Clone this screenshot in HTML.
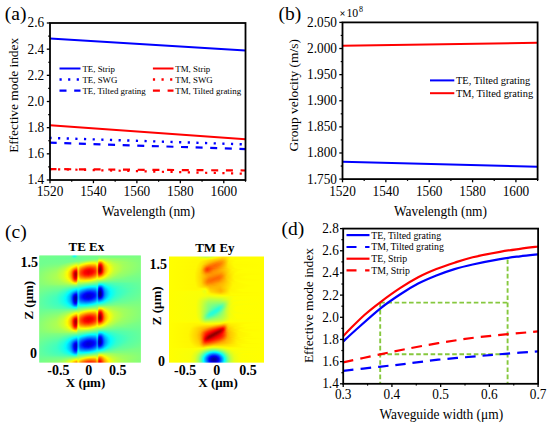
<!DOCTYPE html>
<html><head><meta charset="utf-8"><style>
html,body{margin:0;padding:0;background:#fff;}
svg{display:block;font-family:"Liberation Serif",serif;}
</style></head><body>
<svg width="550" height="423" viewBox="0 0 550 423">
<rect width="550" height="423" fill="#fff"/>
<polyline points="50,38.5 245.5,50.6" fill="none" stroke="#0000ff" stroke-width="2" stroke-linecap="butt"/>
<polyline points="50,125.2 245.5,139.2" fill="none" stroke="#ff0000" stroke-width="2" stroke-linecap="butt"/>
<polyline points="49.4,137.9 245.5,144.4" fill="none" stroke="#0000ff" stroke-width="2.4" stroke-linecap="butt" stroke-dasharray="2.2 6.45"/>
<polyline points="49.7,142.7 245.5,149.1" fill="none" stroke="#0000ff" stroke-width="2.2" stroke-linecap="butt" stroke-dasharray="7 7.6"/>
<polyline points="49.4,169.1 245.5,173.7" fill="none" stroke="#ff0000" stroke-width="2.2" stroke-linecap="butt" stroke-dasharray="2.2 6.45"/>
<polyline points="49.5,169.1 245.5,170.5" fill="none" stroke="#ff0000" stroke-width="2.2" stroke-linecap="butt" stroke-dasharray="7 7.7"/>
<rect x="50" y="23" width="195.5" height="157" fill="none" stroke="#000" stroke-width="1.8"/>
<line x1="50" y1="180" x2="50" y2="183.2" stroke="#000" stroke-width="1.3" />
<text transform="translate(50,196) scale(1,1.05)" font-size="13.3" text-anchor="middle" font-weight="normal" >1520</text>
<line x1="93.44" y1="180" x2="93.44" y2="183.2" stroke="#000" stroke-width="1.3" />
<text transform="translate(93.44,196) scale(1,1.05)" font-size="13.3" text-anchor="middle" font-weight="normal" >1540</text>
<line x1="136.89" y1="180" x2="136.89" y2="183.2" stroke="#000" stroke-width="1.3" />
<text transform="translate(136.89,196) scale(1,1.05)" font-size="13.3" text-anchor="middle" font-weight="normal" >1560</text>
<line x1="180.33" y1="180" x2="180.33" y2="183.2" stroke="#000" stroke-width="1.3" />
<text transform="translate(180.33,196) scale(1,1.05)" font-size="13.3" text-anchor="middle" font-weight="normal" >1580</text>
<line x1="223.78" y1="180" x2="223.78" y2="183.2" stroke="#000" stroke-width="1.3" />
<text transform="translate(223.78,196) scale(1,1.05)" font-size="13.3" text-anchor="middle" font-weight="normal" >1600</text>
<line x1="71.72" y1="180" x2="71.72" y2="181.8" stroke="#000" stroke-width="1.2" />
<line x1="115.17" y1="180" x2="115.17" y2="181.8" stroke="#000" stroke-width="1.2" />
<line x1="158.61" y1="180" x2="158.61" y2="181.8" stroke="#000" stroke-width="1.2" />
<line x1="202.06" y1="180" x2="202.06" y2="181.8" stroke="#000" stroke-width="1.2" />
<line x1="245.5" y1="180" x2="245.5" y2="181.8" stroke="#000" stroke-width="1.2" />
<line x1="46.8" y1="180" x2="50" y2="180" stroke="#000" stroke-width="1.3" />
<text transform="translate(44.2,184.4) scale(1,1.08)" font-size="13.3" text-anchor="end" font-weight="normal" >1.4</text>
<line x1="46.8" y1="153.83" x2="50" y2="153.83" stroke="#000" stroke-width="1.3" />
<text transform="translate(44.2,158.23) scale(1,1.08)" font-size="13.3" text-anchor="end" font-weight="normal" >1.6</text>
<line x1="46.8" y1="127.67" x2="50" y2="127.67" stroke="#000" stroke-width="1.3" />
<text transform="translate(44.2,132.07) scale(1,1.08)" font-size="13.3" text-anchor="end" font-weight="normal" >1.8</text>
<line x1="46.8" y1="101.5" x2="50" y2="101.5" stroke="#000" stroke-width="1.3" />
<text transform="translate(44.2,105.9) scale(1,1.08)" font-size="13.3" text-anchor="end" font-weight="normal" >2.0</text>
<line x1="46.8" y1="75.33" x2="50" y2="75.33" stroke="#000" stroke-width="1.3" />
<text transform="translate(44.2,79.73) scale(1,1.08)" font-size="13.3" text-anchor="end" font-weight="normal" >2.2</text>
<line x1="46.8" y1="49.17" x2="50" y2="49.17" stroke="#000" stroke-width="1.3" />
<text transform="translate(44.2,53.57) scale(1,1.08)" font-size="13.3" text-anchor="end" font-weight="normal" >2.4</text>
<line x1="46.8" y1="23" x2="50" y2="23" stroke="#000" stroke-width="1.3" />
<text transform="translate(44.2,27.4) scale(1,1.08)" font-size="13.3" text-anchor="end" font-weight="normal" >2.6</text>
<line x1="48.2" y1="166.92" x2="50" y2="166.92" stroke="#000" stroke-width="1.2" />
<line x1="48.2" y1="140.75" x2="50" y2="140.75" stroke="#000" stroke-width="1.2" />
<line x1="48.2" y1="114.58" x2="50" y2="114.58" stroke="#000" stroke-width="1.2" />
<line x1="48.2" y1="88.42" x2="50" y2="88.42" stroke="#000" stroke-width="1.2" />
<line x1="48.2" y1="62.25" x2="50" y2="62.25" stroke="#000" stroke-width="1.2" />
<line x1="48.2" y1="36.08" x2="50" y2="36.08" stroke="#000" stroke-width="1.2" />
<text x="4.8" y="19.8" font-size="19.5" text-anchor="start" font-weight="normal" >(a)</text>
<text transform="translate(148.5,216.4) scale(1,1.1)" font-size="13.4" text-anchor="middle" font-weight="normal" >Wavelength (nm)</text>
<text x="0" y="0" font-size="13.4" text-anchor="middle" font-weight="normal" transform="translate(18.2,95.3) rotate(-90)">Effective mode index</text>
<polyline points="59.5,68.5 80.5,68.5" fill="none" stroke="#0000ff" stroke-width="2" stroke-linecap="butt"/>
<text x="82.4" y="71.6" font-size="8.9" text-anchor="start" font-weight="normal" >TE, Strip</text>
<polyline points="59.5,79.5 80.5,79.5" fill="none" stroke="#0000ff" stroke-width="2.4" stroke-linecap="butt" stroke-dasharray="2.2 6.4"/>
<text x="82.4" y="82.6" font-size="8.9" text-anchor="start" font-weight="normal" >TE, SWG</text>
<polyline points="59.5,90.6 80.5,90.6" fill="none" stroke="#0000ff" stroke-width="2.2" stroke-linecap="butt" stroke-dasharray="7 7.7"/>
<text x="82.4" y="93.7" font-size="8.9" text-anchor="start" font-weight="normal" >TE, Tilted grating</text>
<polyline points="152.9,68.5 173.5,68.5" fill="none" stroke="#ff0000" stroke-width="2" stroke-linecap="butt"/>
<text x="175.3" y="71.6" font-size="8.9" text-anchor="start" font-weight="normal" >TM, Strip</text>
<polyline points="152.9,79.5 173.5,79.5" fill="none" stroke="#ff0000" stroke-width="2.4" stroke-linecap="butt" stroke-dasharray="2.2 6.4"/>
<text x="175.3" y="82.6" font-size="8.9" text-anchor="start" font-weight="normal" >TM, SWG</text>
<polyline points="152.9,90.6 173.5,90.6" fill="none" stroke="#ff0000" stroke-width="2.2" stroke-linecap="butt" stroke-dasharray="7 7.7"/>
<text x="175.3" y="93.7" font-size="8.9" text-anchor="start" font-weight="normal" >TM, Tilted grating</text>
<polyline points="342.5,45.8 537.6,42.8" fill="none" stroke="#ff0000" stroke-width="2" stroke-linecap="butt"/>
<polyline points="342.5,161.8 537.6,166.7" fill="none" stroke="#0000ff" stroke-width="2" stroke-linecap="butt"/>
<rect x="342.5" y="22.4" width="195.1" height="156.7" fill="none" stroke="#000" stroke-width="1.8"/>
<line x1="342.5" y1="179.1" x2="342.5" y2="182.3" stroke="#000" stroke-width="1.3" />
<text transform="translate(342.5,195.5) scale(1,1.05)" font-size="13.3" text-anchor="middle" font-weight="normal" >1520</text>
<line x1="385.86" y1="179.1" x2="385.86" y2="182.3" stroke="#000" stroke-width="1.3" />
<text transform="translate(385.86,195.5) scale(1,1.05)" font-size="13.3" text-anchor="middle" font-weight="normal" >1540</text>
<line x1="429.21" y1="179.1" x2="429.21" y2="182.3" stroke="#000" stroke-width="1.3" />
<text transform="translate(429.21,195.5) scale(1,1.05)" font-size="13.3" text-anchor="middle" font-weight="normal" >1560</text>
<line x1="472.57" y1="179.1" x2="472.57" y2="182.3" stroke="#000" stroke-width="1.3" />
<text transform="translate(472.57,195.5) scale(1,1.05)" font-size="13.3" text-anchor="middle" font-weight="normal" >1580</text>
<line x1="515.92" y1="179.1" x2="515.92" y2="182.3" stroke="#000" stroke-width="1.3" />
<text transform="translate(515.92,195.5) scale(1,1.05)" font-size="13.3" text-anchor="middle" font-weight="normal" >1600</text>
<line x1="364.18" y1="179.1" x2="364.18" y2="180.9" stroke="#000" stroke-width="1.2" />
<line x1="407.53" y1="179.1" x2="407.53" y2="180.9" stroke="#000" stroke-width="1.2" />
<line x1="450.89" y1="179.1" x2="450.89" y2="180.9" stroke="#000" stroke-width="1.2" />
<line x1="494.24" y1="179.1" x2="494.24" y2="180.9" stroke="#000" stroke-width="1.2" />
<line x1="537.6" y1="179.1" x2="537.6" y2="180.9" stroke="#000" stroke-width="1.2" />
<line x1="339.3" y1="179.1" x2="342.5" y2="179.1" stroke="#000" stroke-width="1.3" />
<text transform="translate(337,183.5) scale(1,1.08)" font-size="13.3" text-anchor="end" font-weight="normal" >1.750</text>
<line x1="339.3" y1="152.98" x2="342.5" y2="152.98" stroke="#000" stroke-width="1.3" />
<text transform="translate(337,157.38) scale(1,1.08)" font-size="13.3" text-anchor="end" font-weight="normal" >1.800</text>
<line x1="339.3" y1="126.87" x2="342.5" y2="126.87" stroke="#000" stroke-width="1.3" />
<text transform="translate(337,131.27) scale(1,1.08)" font-size="13.3" text-anchor="end" font-weight="normal" >1.850</text>
<line x1="339.3" y1="100.75" x2="342.5" y2="100.75" stroke="#000" stroke-width="1.3" />
<text transform="translate(337,105.15) scale(1,1.08)" font-size="13.3" text-anchor="end" font-weight="normal" >1.900</text>
<line x1="339.3" y1="74.63" x2="342.5" y2="74.63" stroke="#000" stroke-width="1.3" />
<text transform="translate(337,79.03) scale(1,1.08)" font-size="13.3" text-anchor="end" font-weight="normal" >1.950</text>
<line x1="339.3" y1="48.52" x2="342.5" y2="48.52" stroke="#000" stroke-width="1.3" />
<text transform="translate(337,52.92) scale(1,1.08)" font-size="13.3" text-anchor="end" font-weight="normal" >2.000</text>
<line x1="339.3" y1="22.4" x2="342.5" y2="22.4" stroke="#000" stroke-width="1.3" />
<text transform="translate(337,26.8) scale(1,1.08)" font-size="13.3" text-anchor="end" font-weight="normal" >2.050</text>
<line x1="340.7" y1="166.04" x2="342.5" y2="166.04" stroke="#000" stroke-width="1.2" />
<line x1="340.7" y1="139.92" x2="342.5" y2="139.92" stroke="#000" stroke-width="1.2" />
<line x1="340.7" y1="113.81" x2="342.5" y2="113.81" stroke="#000" stroke-width="1.2" />
<line x1="340.7" y1="87.69" x2="342.5" y2="87.69" stroke="#000" stroke-width="1.2" />
<line x1="340.7" y1="61.57" x2="342.5" y2="61.57" stroke="#000" stroke-width="1.2" />
<line x1="340.7" y1="35.46" x2="342.5" y2="35.46" stroke="#000" stroke-width="1.2" />
<text x="278.6" y="19.5" font-size="19.5" text-anchor="start" font-weight="normal" >(b)</text>
<text transform="translate(440.5,215.7) scale(1,1.1)" font-size="13.4" text-anchor="middle" font-weight="normal" >Wavelength (nm)</text>
<text x="0" y="0" font-size="13.4" text-anchor="middle" font-weight="normal" transform="translate(297.6,95.3) rotate(-90)">Group velocity (m/s)</text>
<text x="339.6" y="16.8" font-size="10.5" text-anchor="start" font-weight="bold" >×</text>
<text transform="translate(346.4,17.4) scale(1,1.12)" font-size="11.8" text-anchor="start" font-weight="normal" >10</text>
<text x="358.9" y="12" font-size="8" text-anchor="start" font-weight="normal" >8</text>
<polyline points="430,80.4 454.3,80.4" fill="none" stroke="#0000ff" stroke-width="2" stroke-linecap="butt"/>
<text x="456" y="84" font-size="10.4" text-anchor="start" font-weight="normal" >TE, Tilted grating</text>
<polyline points="430,93.2 454.3,93.2" fill="none" stroke="#ff0000" stroke-width="2" stroke-linecap="butt"/>
<text x="456" y="96.8" font-size="10.4" text-anchor="start" font-weight="normal" >TM, Tilted grating</text>
<line x1="380.2" y1="302.6" x2="380.2" y2="383.8" stroke="#86c83e" stroke-width="1.9" stroke-dasharray="4.6 2.6"/>
<line x1="507.6" y1="259.4" x2="507.6" y2="383.8" stroke="#86c83e" stroke-width="1.9" stroke-dasharray="4.6 2.6"/>
<line x1="380.2" y1="302.6" x2="507.6" y2="302.6" stroke="#86c83e" stroke-width="1.9" stroke-dasharray="4.6 2.6"/>
<line x1="380.2" y1="354.2" x2="507.6" y2="354.2" stroke="#86c83e" stroke-width="1.9" stroke-dasharray="4.6 2.6"/>
<path d="M343.2,336.3 C344.33,335.08 346.37,332.63 350,329 C353.63,325.37 359.97,318.95 365,314.5 C370.03,310.05 374.37,306.68 380.2,302.3 C386.03,297.92 393.67,292.37 400,288.2 C406.33,284.03 412.13,280.48 418.2,277.3 C424.27,274.12 430.35,271.53 436.4,269.1 C442.45,266.67 448.45,264.67 454.5,262.7 C460.55,260.73 465.12,259.12 472.7,257.3 C480.28,255.48 492.12,253.22 500,251.8 C507.88,250.38 513.65,249.68 520,248.8 C526.35,247.92 535.08,246.88 538.1,246.5" fill="none" stroke="#ff0000" stroke-width="2.2" stroke-linecap="butt"/>
<path d="M343.2,341.5 C345.28,339.58 349.53,335.48 355.7,330 C361.87,324.52 372.82,314.52 380.2,308.6 C387.58,302.68 393.67,298.67 400,294.5 C406.33,290.33 412.13,286.77 418.2,283.6 C424.27,280.43 430.35,277.92 436.4,275.5 C442.45,273.08 448.45,270.93 454.5,269.1 C460.55,267.27 465.12,266.17 472.7,264.5 C480.28,262.83 492.12,260.47 500,259.1 C507.88,257.73 513.65,257.1 520,256.3 C526.35,255.5 535.08,254.63 538.1,254.3" fill="none" stroke="#0000ff" stroke-width="2.2" stroke-linecap="butt"/>
<path d="M343.2,362.3 C349.17,361.02 368.93,356.73 379,354.6 C389.07,352.47 393.73,351.4 403.6,349.5 C413.47,347.6 425.47,345.28 438.2,343.2 C450.93,341.12 463.35,338.97 480,337 C496.65,335.03 528.42,332.33 538.1,331.4" fill="none" stroke="#ff0000" stroke-width="2.2" stroke-linecap="butt" stroke-dasharray="10.5 7"/>
<path d="M343.2,370.8 C349.17,370.13 368.93,367.92 379,366.8 C389.07,365.68 393.73,365.28 403.6,364.1 C413.47,362.92 425.47,361.05 438.2,359.7 C450.93,358.35 468.43,357.02 480,356 C491.57,354.98 497.92,354.38 507.6,353.6 C517.28,352.82 533.02,351.68 538.1,351.3" fill="none" stroke="#0000ff" stroke-width="2.2" stroke-linecap="butt" stroke-dasharray="10.5 7"/>
<rect x="343.2" y="228.6" width="194.9" height="155.2" fill="none" stroke="#000" stroke-width="1.8"/>
<line x1="343.2" y1="383.8" x2="343.2" y2="387" stroke="#000" stroke-width="1.3" />
<text transform="translate(343.2,398.6) scale(1,1.05)" font-size="13.3" text-anchor="middle" font-weight="normal" >0.3</text>
<line x1="391.93" y1="383.8" x2="391.93" y2="387" stroke="#000" stroke-width="1.3" />
<text transform="translate(391.93,398.6) scale(1,1.05)" font-size="13.3" text-anchor="middle" font-weight="normal" >0.4</text>
<line x1="440.65" y1="383.8" x2="440.65" y2="387" stroke="#000" stroke-width="1.3" />
<text transform="translate(440.65,398.6) scale(1,1.05)" font-size="13.3" text-anchor="middle" font-weight="normal" >0.5</text>
<line x1="489.38" y1="383.8" x2="489.38" y2="387" stroke="#000" stroke-width="1.3" />
<text transform="translate(489.38,398.6) scale(1,1.05)" font-size="13.3" text-anchor="middle" font-weight="normal" >0.6</text>
<line x1="538.1" y1="383.8" x2="538.1" y2="387" stroke="#000" stroke-width="1.3" />
<text transform="translate(538.1,398.6) scale(1,1.05)" font-size="13.3" text-anchor="middle" font-weight="normal" >0.7</text>
<line x1="367.56" y1="383.8" x2="367.56" y2="385.6" stroke="#000" stroke-width="1.2" />
<line x1="416.29" y1="383.8" x2="416.29" y2="385.6" stroke="#000" stroke-width="1.2" />
<line x1="465.01" y1="383.8" x2="465.01" y2="385.6" stroke="#000" stroke-width="1.2" />
<line x1="513.74" y1="383.8" x2="513.74" y2="385.6" stroke="#000" stroke-width="1.2" />
<line x1="340" y1="383.8" x2="343.2" y2="383.8" stroke="#000" stroke-width="1.3" />
<text transform="translate(338.8,388.2) scale(1,1.08)" font-size="13.3" text-anchor="end" font-weight="normal" >1.4</text>
<line x1="340" y1="361.63" x2="343.2" y2="361.63" stroke="#000" stroke-width="1.3" />
<text transform="translate(338.8,366.03) scale(1,1.08)" font-size="13.3" text-anchor="end" font-weight="normal" >1.6</text>
<line x1="340" y1="339.46" x2="343.2" y2="339.46" stroke="#000" stroke-width="1.3" />
<text transform="translate(338.8,343.86) scale(1,1.08)" font-size="13.3" text-anchor="end" font-weight="normal" >1.8</text>
<line x1="340" y1="317.29" x2="343.2" y2="317.29" stroke="#000" stroke-width="1.3" />
<text transform="translate(338.8,321.69) scale(1,1.08)" font-size="13.3" text-anchor="end" font-weight="normal" >2.0</text>
<line x1="340" y1="295.11" x2="343.2" y2="295.11" stroke="#000" stroke-width="1.3" />
<text transform="translate(338.8,299.51) scale(1,1.08)" font-size="13.3" text-anchor="end" font-weight="normal" >2.2</text>
<line x1="340" y1="272.94" x2="343.2" y2="272.94" stroke="#000" stroke-width="1.3" />
<text transform="translate(338.8,277.34) scale(1,1.08)" font-size="13.3" text-anchor="end" font-weight="normal" >2.4</text>
<line x1="340" y1="250.77" x2="343.2" y2="250.77" stroke="#000" stroke-width="1.3" />
<text transform="translate(338.8,255.17) scale(1,1.08)" font-size="13.3" text-anchor="end" font-weight="normal" >2.6</text>
<line x1="340" y1="228.6" x2="343.2" y2="228.6" stroke="#000" stroke-width="1.3" />
<text transform="translate(338.8,233) scale(1,1.08)" font-size="13.3" text-anchor="end" font-weight="normal" >2.8</text>
<line x1="341.4" y1="372.71" x2="343.2" y2="372.71" stroke="#000" stroke-width="1.2" />
<line x1="341.4" y1="350.54" x2="343.2" y2="350.54" stroke="#000" stroke-width="1.2" />
<line x1="341.4" y1="328.37" x2="343.2" y2="328.37" stroke="#000" stroke-width="1.2" />
<line x1="341.4" y1="306.2" x2="343.2" y2="306.2" stroke="#000" stroke-width="1.2" />
<line x1="341.4" y1="284.03" x2="343.2" y2="284.03" stroke="#000" stroke-width="1.2" />
<line x1="341.4" y1="261.86" x2="343.2" y2="261.86" stroke="#000" stroke-width="1.2" />
<line x1="341.4" y1="239.69" x2="343.2" y2="239.69" stroke="#000" stroke-width="1.2" />
<text x="281.4" y="235.3" font-size="19.5" text-anchor="start" font-weight="normal" >(d)</text>
<text transform="translate(441.3,419.4) scale(1,1.1)" font-size="13.4" text-anchor="middle" font-weight="normal" >Waveguide width (μm)</text>
<text x="0" y="0" font-size="13.4" text-anchor="middle" font-weight="normal" transform="translate(312.9,305.6) rotate(-90)">Effective mode index</text>
<polyline points="346.5,235.1 369.5,235.1" fill="none" stroke="#0000ff" stroke-width="2.2" stroke-linecap="butt"/>
<text x="371.2" y="238.5" font-size="9.8" text-anchor="start" font-weight="normal" >TE, Tilted grating</text>
<polyline points="346.5,247 369.5,247" fill="none" stroke="#0000ff" stroke-width="2.2" stroke-linecap="butt" stroke-dasharray="10 8.6"/>
<text x="371.2" y="250.4" font-size="9.8" text-anchor="start" font-weight="normal" >TM, Tilted grating</text>
<polyline points="346.5,258.7 369.5,258.7" fill="none" stroke="#ff0000" stroke-width="2.2" stroke-linecap="butt"/>
<text x="371.2" y="262.1" font-size="9.8" text-anchor="start" font-weight="normal" >TE, Strip</text>
<polyline points="346.5,270.4 369.5,270.4" fill="none" stroke="#ff0000" stroke-width="2.2" stroke-linecap="butt" stroke-dasharray="10 8.6"/>
<text x="371.2" y="273.8" font-size="9.8" text-anchor="start" font-weight="normal" >TM, Strip</text>
<text x="5" y="237.6" font-size="19.5" text-anchor="start" font-weight="normal" >(c)</text>
<linearGradient id="a0"><stop offset="0.000" stop-color="#75ff8a"/><stop offset="0.305" stop-color="#70ff8f"/><stop offset="0.320" stop-color="#56ffa9"/><stop offset="0.340" stop-color="#01fffe"/><stop offset="0.345" stop-color="#00f6ff"/><stop offset="0.355" stop-color="#04fffb"/><stop offset="0.374" stop-color="#58ffa7"/><stop offset="0.389" stop-color="#70ff8f"/><stop offset="0.581" stop-color="#79ff86"/><stop offset="0.670" stop-color="#78ff87"/><stop offset="1.000" stop-color="#7bff84"/></linearGradient><rect x="39.3" y="255.4" width="101.5" height="1.2" fill="url(#a0)"/>
<linearGradient id="a1"><stop offset="0.000" stop-color="#74ff8b"/><stop offset="0.305" stop-color="#6eff91"/><stop offset="0.320" stop-color="#5affa5"/><stop offset="0.340" stop-color="#1affe5"/><stop offset="0.350" stop-color="#13ffec"/><stop offset="0.365" stop-color="#3effc1"/><stop offset="0.379" stop-color="#65ff9a"/><stop offset="0.409" stop-color="#71ff8e"/><stop offset="0.576" stop-color="#75ff8a"/><stop offset="0.591" stop-color="#81ff7e"/><stop offset="0.759" stop-color="#79ff86"/><stop offset="1.000" stop-color="#7dff82"/></linearGradient><rect x="39.3" y="256" width="101.5" height="1.6" fill="url(#a1)"/>
<linearGradient id="a2"><stop offset="0.000" stop-color="#73ff8c"/><stop offset="0.310" stop-color="#6bff94"/><stop offset="0.335" stop-color="#4affb5"/><stop offset="0.350" stop-color="#3fffc0"/><stop offset="0.379" stop-color="#68ff97"/><stop offset="0.576" stop-color="#75ff8a"/><stop offset="0.586" stop-color="#88ff77"/><stop offset="0.704" stop-color="#81ff7e"/><stop offset="1.000" stop-color="#7fff80"/></linearGradient><rect x="39.3" y="257" width="101.5" height="1.6" fill="url(#a2)"/>
<linearGradient id="a3"><stop offset="0.000" stop-color="#72ff8d"/><stop offset="0.320" stop-color="#68ff97"/><stop offset="0.355" stop-color="#5effa1"/><stop offset="0.409" stop-color="#6dff92"/><stop offset="0.576" stop-color="#79ff86"/><stop offset="0.586" stop-color="#97ff68"/><stop offset="0.631" stop-color="#98ff67"/><stop offset="0.931" stop-color="#84ff7b"/><stop offset="1.000" stop-color="#80ff7f"/></linearGradient><rect x="39.3" y="258" width="101.5" height="1.6" fill="url(#a3)"/>
<linearGradient id="a4"><stop offset="0.000" stop-color="#71ff8e"/><stop offset="0.394" stop-color="#6dff92"/><stop offset="0.562" stop-color="#88ff77"/><stop offset="0.571" stop-color="#87ff78"/><stop offset="0.576" stop-color="#8fff70"/><stop offset="0.586" stop-color="#c0ff3f"/><stop offset="0.606" stop-color="#c7ff38"/><stop offset="0.680" stop-color="#a2ff5d"/><stop offset="0.906" stop-color="#88ff77"/><stop offset="1.000" stop-color="#82ff7d"/></linearGradient><rect x="39.3" y="259" width="101.5" height="1.6" fill="url(#a4)"/>
<linearGradient id="a5"><stop offset="0.000" stop-color="#70ff8f"/><stop offset="0.345" stop-color="#71ff8e"/><stop offset="0.433" stop-color="#7cff83"/><stop offset="0.552" stop-color="#a8ff57"/><stop offset="0.571" stop-color="#9eff61"/><stop offset="0.576" stop-color="#a9ff56"/><stop offset="0.586" stop-color="#f2ff0d"/><stop offset="0.601" stop-color="#feff01"/><stop offset="0.621" stop-color="#eaff15"/><stop offset="0.655" stop-color="#c1ff3e"/><stop offset="0.744" stop-color="#9fff60"/><stop offset="1.000" stop-color="#83ff7c"/></linearGradient><rect x="39.3" y="260" width="101.5" height="1.6" fill="url(#a5)"/>
<linearGradient id="a6"><stop offset="0.000" stop-color="#70ff8f"/><stop offset="0.300" stop-color="#72ff8d"/><stop offset="0.374" stop-color="#7dff82"/><stop offset="0.399" stop-color="#85ff7a"/><stop offset="0.517" stop-color="#c4ff3b"/><stop offset="0.557" stop-color="#c5ff3a"/><stop offset="0.571" stop-color="#b5ff4a"/><stop offset="0.576" stop-color="#c2ff3d"/><stop offset="0.581" stop-color="#feff01"/><stop offset="0.586" stop-color="#ffd300"/><stop offset="0.596" stop-color="#ffc100"/><stop offset="0.611" stop-color="#ffca00"/><stop offset="0.631" stop-color="#fffd00"/><stop offset="0.655" stop-color="#d8ff27"/><stop offset="0.724" stop-color="#aeff51"/><stop offset="0.901" stop-color="#8eff71"/><stop offset="1.000" stop-color="#84ff7b"/></linearGradient><rect x="39.3" y="261" width="101.5" height="1.6" fill="url(#a6)"/>
<linearGradient id="a7"><stop offset="0.000" stop-color="#70ff8f"/><stop offset="0.271" stop-color="#75ff8a"/><stop offset="0.350" stop-color="#92ff6d"/><stop offset="0.369" stop-color="#9cff63"/><stop offset="0.384" stop-color="#94ff6b"/><stop offset="0.493" stop-color="#e2ff1d"/><stop offset="0.552" stop-color="#eaff15"/><stop offset="0.567" stop-color="#ceff31"/><stop offset="0.571" stop-color="#ccff33"/><stop offset="0.576" stop-color="#dcff23"/><stop offset="0.581" stop-color="#ffd000"/><stop offset="0.586" stop-color="#ff9800"/><stop offset="0.596" stop-color="#ff7e00"/><stop offset="0.606" stop-color="#ff8000"/><stop offset="0.621" stop-color="#ffae00"/><stop offset="0.640" stop-color="#fff400"/><stop offset="0.645" stop-color="#ffff00"/><stop offset="0.680" stop-color="#d4ff2b"/><stop offset="0.754" stop-color="#acff53"/><stop offset="0.980" stop-color="#87ff78"/><stop offset="1.000" stop-color="#85ff7a"/></linearGradient><rect x="39.3" y="262" width="101.5" height="1.6" fill="url(#a7)"/>
<linearGradient id="a8"><stop offset="0.000" stop-color="#70ff8f"/><stop offset="0.241" stop-color="#79ff86"/><stop offset="0.325" stop-color="#9dff62"/><stop offset="0.369" stop-color="#bcff43"/><stop offset="0.384" stop-color="#adff52"/><stop offset="0.463" stop-color="#faff05"/><stop offset="0.527" stop-color="#ffeb00"/><stop offset="0.552" stop-color="#fff100"/><stop offset="0.562" stop-color="#f7ff08"/><stop offset="0.567" stop-color="#e6ff19"/><stop offset="0.571" stop-color="#e3ff1c"/><stop offset="0.576" stop-color="#f6ff09"/><stop offset="0.581" stop-color="#ffa200"/><stop offset="0.586" stop-color="#ff5f00"/><stop offset="0.591" stop-color="#ff4900"/><stop offset="0.601" stop-color="#ff3c00"/><stop offset="0.611" stop-color="#ff4f00"/><stop offset="0.635" stop-color="#ffc500"/><stop offset="0.650" stop-color="#fff100"/><stop offset="0.665" stop-color="#f4ff0b"/><stop offset="0.719" stop-color="#c3ff3c"/><stop offset="0.818" stop-color="#a0ff5f"/><stop offset="1.000" stop-color="#85ff7a"/></linearGradient><rect x="39.3" y="263" width="101.5" height="1.6" fill="url(#a8)"/>
<linearGradient id="a9"><stop offset="0.000" stop-color="#71ff8e"/><stop offset="0.212" stop-color="#7dff82"/><stop offset="0.296" stop-color="#9fff60"/><stop offset="0.369" stop-color="#deff21"/><stop offset="0.379" stop-color="#c7ff38"/><stop offset="0.389" stop-color="#caff35"/><stop offset="0.414" stop-color="#f2ff0d"/><stop offset="0.433" stop-color="#fff600"/><stop offset="0.488" stop-color="#ffc700"/><stop offset="0.532" stop-color="#ffc200"/><stop offset="0.552" stop-color="#ffcc00"/><stop offset="0.562" stop-color="#ffea00"/><stop offset="0.567" stop-color="#feff01"/><stop offset="0.571" stop-color="#faff05"/><stop offset="0.576" stop-color="#ffed00"/><stop offset="0.581" stop-color="#ff7800"/><stop offset="0.586" stop-color="#ff2c00"/><stop offset="0.591" stop-color="#ff1400"/><stop offset="0.601" stop-color="#ff0600"/><stop offset="0.611" stop-color="#ff1e00"/><stop offset="0.635" stop-color="#ffa900"/><stop offset="0.650" stop-color="#ffdd00"/><stop offset="0.670" stop-color="#fdff02"/><stop offset="0.724" stop-color="#c8ff37"/><stop offset="0.818" stop-color="#a3ff5c"/><stop offset="1.000" stop-color="#85ff7a"/></linearGradient><rect x="39.3" y="264" width="101.5" height="1.6" fill="url(#a9)"/>
<linearGradient id="a10"><stop offset="0.000" stop-color="#72ff8d"/><stop offset="0.197" stop-color="#83ff7c"/><stop offset="0.276" stop-color="#a4ff5b"/><stop offset="0.340" stop-color="#e2ff1d"/><stop offset="0.365" stop-color="#fffd00"/><stop offset="0.369" stop-color="#fffb00"/><stop offset="0.379" stop-color="#e1ff1e"/><stop offset="0.384" stop-color="#dcff23"/><stop offset="0.399" stop-color="#feff01"/><stop offset="0.463" stop-color="#ffac00"/><stop offset="0.502" stop-color="#ff9500"/><stop offset="0.542" stop-color="#ff9f00"/><stop offset="0.557" stop-color="#ffb400"/><stop offset="0.567" stop-color="#ffe700"/><stop offset="0.571" stop-color="#ffed00"/><stop offset="0.576" stop-color="#ffd400"/><stop offset="0.581" stop-color="#ff5400"/><stop offset="0.586" stop-color="#ff0300"/><stop offset="0.591" stop-color="#e80000"/><stop offset="0.601" stop-color="#db0000"/><stop offset="0.606" stop-color="#e30000"/><stop offset="0.611" stop-color="#f60000"/><stop offset="0.616" stop-color="#ff1300"/><stop offset="0.635" stop-color="#ff9100"/><stop offset="0.650" stop-color="#ffcb00"/><stop offset="0.675" stop-color="#fffb00"/><stop offset="0.734" stop-color="#c7ff38"/><stop offset="0.833" stop-color="#a1ff5e"/><stop offset="1.000" stop-color="#85ff7a"/></linearGradient><rect x="39.3" y="265" width="101.5" height="1.6" fill="url(#a10)"/>
<linearGradient id="a11"><stop offset="0.000" stop-color="#74ff8b"/><stop offset="0.187" stop-color="#88ff77"/><stop offset="0.266" stop-color="#acff53"/><stop offset="0.320" stop-color="#e6ff19"/><stop offset="0.340" stop-color="#fffa00"/><stop offset="0.369" stop-color="#ffd300"/><stop offset="0.379" stop-color="#faff05"/><stop offset="0.384" stop-color="#f2ff0d"/><stop offset="0.389" stop-color="#faff05"/><stop offset="0.404" stop-color="#ffd400"/><stop offset="0.463" stop-color="#ff8000"/><stop offset="0.502" stop-color="#ff6900"/><stop offset="0.542" stop-color="#ff7a00"/><stop offset="0.552" stop-color="#ff8600"/><stop offset="0.557" stop-color="#ff9400"/><stop offset="0.567" stop-color="#ffce00"/><stop offset="0.571" stop-color="#ffd600"/><stop offset="0.576" stop-color="#ffbb00"/><stop offset="0.581" stop-color="#ff3600"/><stop offset="0.586" stop-color="#e10000"/><stop offset="0.591" stop-color="#c70000"/><stop offset="0.601" stop-color="#bc0000"/><stop offset="0.606" stop-color="#c60000"/><stop offset="0.616" stop-color="#f70000"/><stop offset="0.626" stop-color="#ff3f00"/><stop offset="0.640" stop-color="#ff9800"/><stop offset="0.655" stop-color="#ffcb00"/><stop offset="0.685" stop-color="#fdff02"/><stop offset="0.734" stop-color="#caff35"/><stop offset="0.828" stop-color="#a3ff5c"/><stop offset="1.000" stop-color="#85ff7a"/></linearGradient><rect x="39.3" y="266" width="101.5" height="1.6" fill="url(#a11)"/>
<linearGradient id="a12"><stop offset="0.000" stop-color="#77ff88"/><stop offset="0.182" stop-color="#8fff70"/><stop offset="0.256" stop-color="#b3ff4c"/><stop offset="0.305" stop-color="#e8ff17"/><stop offset="0.320" stop-color="#fffd00"/><stop offset="0.365" stop-color="#ffa800"/><stop offset="0.369" stop-color="#ffa800"/><stop offset="0.379" stop-color="#ffed00"/><stop offset="0.384" stop-color="#fff800"/><stop offset="0.389" stop-color="#ffef00"/><stop offset="0.399" stop-color="#ffc200"/><stop offset="0.429" stop-color="#ff8700"/><stop offset="0.473" stop-color="#ff4d00"/><stop offset="0.507" stop-color="#ff4200"/><stop offset="0.542" stop-color="#ff5800"/><stop offset="0.552" stop-color="#ff6700"/><stop offset="0.557" stop-color="#ff7700"/><stop offset="0.567" stop-color="#ffb700"/><stop offset="0.571" stop-color="#ffc000"/><stop offset="0.576" stop-color="#ffa500"/><stop offset="0.581" stop-color="#ff1e00"/><stop offset="0.586" stop-color="#c70000"/><stop offset="0.591" stop-color="#ae0000"/><stop offset="0.601" stop-color="#a60000"/><stop offset="0.606" stop-color="#b10000"/><stop offset="0.616" stop-color="#e50000"/><stop offset="0.621" stop-color="#ff0a00"/><stop offset="0.635" stop-color="#ff7200"/><stop offset="0.650" stop-color="#ffb300"/><stop offset="0.675" stop-color="#ffeb00"/><stop offset="0.690" stop-color="#fbff04"/><stop offset="0.739" stop-color="#c9ff36"/><stop offset="0.833" stop-color="#a2ff5d"/><stop offset="1.000" stop-color="#84ff7b"/></linearGradient><rect x="39.3" y="267" width="101.5" height="1.6" fill="url(#a12)"/>
<linearGradient id="a13"><stop offset="0.000" stop-color="#7aff85"/><stop offset="0.177" stop-color="#94ff6b"/><stop offset="0.251" stop-color="#bbff44"/><stop offset="0.300" stop-color="#f5ff0a"/><stop offset="0.310" stop-color="#fff700"/><stop offset="0.355" stop-color="#ff8400"/><stop offset="0.365" stop-color="#ff7600"/><stop offset="0.369" stop-color="#ff7800"/><stop offset="0.379" stop-color="#ffd700"/><stop offset="0.384" stop-color="#ffe600"/><stop offset="0.389" stop-color="#ffdc00"/><stop offset="0.399" stop-color="#ffa500"/><stop offset="0.419" stop-color="#ff7600"/><stop offset="0.463" stop-color="#ff3100"/><stop offset="0.498" stop-color="#ff1e00"/><stop offset="0.532" stop-color="#ff3100"/><stop offset="0.552" stop-color="#ff4d00"/><stop offset="0.557" stop-color="#ff5e00"/><stop offset="0.567" stop-color="#ffa200"/><stop offset="0.571" stop-color="#ffad00"/><stop offset="0.576" stop-color="#ff9200"/><stop offset="0.581" stop-color="#ff0b00"/><stop offset="0.586" stop-color="#b40000"/><stop offset="0.591" stop-color="#9c0000"/><stop offset="0.601" stop-color="#960000"/><stop offset="0.606" stop-color="#a20000"/><stop offset="0.616" stop-color="#d90000"/><stop offset="0.621" stop-color="#fd0000"/><stop offset="0.635" stop-color="#ff6900"/><stop offset="0.650" stop-color="#ffac00"/><stop offset="0.675" stop-color="#ffe700"/><stop offset="0.690" stop-color="#feff01"/><stop offset="0.739" stop-color="#caff35"/><stop offset="0.828" stop-color="#a2ff5d"/><stop offset="1.000" stop-color="#83ff7c"/></linearGradient><rect x="39.3" y="268" width="101.5" height="1.6" fill="url(#a13)"/>
<linearGradient id="a14"><stop offset="0.000" stop-color="#7cff83"/><stop offset="0.172" stop-color="#99ff66"/><stop offset="0.246" stop-color="#c1ff3e"/><stop offset="0.291" stop-color="#f6ff09"/><stop offset="0.300" stop-color="#fff600"/><stop offset="0.320" stop-color="#ffc300"/><stop offset="0.350" stop-color="#ff5500"/><stop offset="0.365" stop-color="#ff3f00"/><stop offset="0.369" stop-color="#ff4600"/><stop offset="0.374" stop-color="#ff7c00"/><stop offset="0.379" stop-color="#ffc400"/><stop offset="0.384" stop-color="#ffd700"/><stop offset="0.389" stop-color="#ffcb00"/><stop offset="0.399" stop-color="#ff8d00"/><stop offset="0.414" stop-color="#ff6300"/><stop offset="0.453" stop-color="#ff1e00"/><stop offset="0.488" stop-color="#ff0300"/><stop offset="0.522" stop-color="#ff0f00"/><stop offset="0.552" stop-color="#ff3a00"/><stop offset="0.557" stop-color="#ff4c00"/><stop offset="0.567" stop-color="#ff9300"/><stop offset="0.571" stop-color="#ff9f00"/><stop offset="0.576" stop-color="#ff8400"/><stop offset="0.581" stop-color="#fd0000"/><stop offset="0.586" stop-color="#a80000"/><stop offset="0.591" stop-color="#910000"/><stop offset="0.601" stop-color="#8d0000"/><stop offset="0.606" stop-color="#9a0000"/><stop offset="0.616" stop-color="#d20000"/><stop offset="0.621" stop-color="#f70000"/><stop offset="0.631" stop-color="#ff4400"/><stop offset="0.645" stop-color="#ff9700"/><stop offset="0.665" stop-color="#ffd200"/><stop offset="0.690" stop-color="#ffff00"/><stop offset="0.739" stop-color="#c9ff36"/><stop offset="0.828" stop-color="#a1ff5e"/><stop offset="1.000" stop-color="#82ff7d"/></linearGradient><rect x="39.3" y="269" width="101.5" height="1.6" fill="url(#a14)"/>
<linearGradient id="a15"><stop offset="0.000" stop-color="#7eff81"/><stop offset="0.167" stop-color="#9dff62"/><stop offset="0.241" stop-color="#c5ff3a"/><stop offset="0.291" stop-color="#fffa00"/><stop offset="0.310" stop-color="#ffcd00"/><stop offset="0.325" stop-color="#ff9300"/><stop offset="0.345" stop-color="#ff2e00"/><stop offset="0.355" stop-color="#ff1000"/><stop offset="0.365" stop-color="#ff0a00"/><stop offset="0.369" stop-color="#ff1600"/><stop offset="0.374" stop-color="#ff5700"/><stop offset="0.379" stop-color="#ffb400"/><stop offset="0.384" stop-color="#ffca00"/><stop offset="0.389" stop-color="#ffbd00"/><stop offset="0.399" stop-color="#ff7900"/><stop offset="0.409" stop-color="#ff5800"/><stop offset="0.448" stop-color="#ff0e00"/><stop offset="0.463" stop-color="#fc0000"/><stop offset="0.498" stop-color="#f00000"/><stop offset="0.527" stop-color="#ff0600"/><stop offset="0.552" stop-color="#ff2e00"/><stop offset="0.557" stop-color="#ff4200"/><stop offset="0.567" stop-color="#ff8a00"/><stop offset="0.571" stop-color="#ff9700"/><stop offset="0.576" stop-color="#ff7d00"/><stop offset="0.581" stop-color="#f80000"/><stop offset="0.586" stop-color="#a50000"/><stop offset="0.591" stop-color="#8f0000"/><stop offset="0.601" stop-color="#8c0000"/><stop offset="0.606" stop-color="#9a0000"/><stop offset="0.616" stop-color="#d20000"/><stop offset="0.621" stop-color="#f80000"/><stop offset="0.635" stop-color="#ff6500"/><stop offset="0.650" stop-color="#ffaa00"/><stop offset="0.675" stop-color="#ffe800"/><stop offset="0.690" stop-color="#fdff02"/><stop offset="0.739" stop-color="#c7ff38"/><stop offset="0.828" stop-color="#9fff60"/><stop offset="1.000" stop-color="#81ff7e"/></linearGradient><rect x="39.3" y="270" width="101.5" height="1.6" fill="url(#a15)"/>
<linearGradient id="a16"><stop offset="0.000" stop-color="#81ff7e"/><stop offset="0.167" stop-color="#a1ff5e"/><stop offset="0.236" stop-color="#c8ff37"/><stop offset="0.281" stop-color="#feff01"/><stop offset="0.305" stop-color="#ffcc00"/><stop offset="0.320" stop-color="#ff9300"/><stop offset="0.345" stop-color="#ff0100"/><stop offset="0.355" stop-color="#df0000"/><stop offset="0.365" stop-color="#de0000"/><stop offset="0.369" stop-color="#ef0000"/><stop offset="0.374" stop-color="#ff3900"/><stop offset="0.379" stop-color="#ffa900"/><stop offset="0.384" stop-color="#ffc000"/><stop offset="0.389" stop-color="#ffb300"/><stop offset="0.399" stop-color="#ff6b00"/><stop offset="0.409" stop-color="#ff4900"/><stop offset="0.448" stop-color="#ff0100"/><stop offset="0.483" stop-color="#e70000"/><stop offset="0.517" stop-color="#f40000"/><stop offset="0.532" stop-color="#ff0700"/><stop offset="0.552" stop-color="#ff2c00"/><stop offset="0.557" stop-color="#ff4000"/><stop offset="0.567" stop-color="#ff8800"/><stop offset="0.571" stop-color="#ff9500"/><stop offset="0.576" stop-color="#ff7c00"/><stop offset="0.581" stop-color="#fd0000"/><stop offset="0.586" stop-color="#ae0000"/><stop offset="0.591" stop-color="#990000"/><stop offset="0.601" stop-color="#990000"/><stop offset="0.611" stop-color="#be0000"/><stop offset="0.621" stop-color="#ff0300"/><stop offset="0.635" stop-color="#ff6c00"/><stop offset="0.650" stop-color="#ffb000"/><stop offset="0.675" stop-color="#ffec00"/><stop offset="0.690" stop-color="#f8ff07"/><stop offset="0.739" stop-color="#c3ff3c"/><stop offset="0.828" stop-color="#9cff63"/><stop offset="1.000" stop-color="#7fff80"/></linearGradient><rect x="39.3" y="271" width="101.5" height="1.6" fill="url(#a16)"/>
<linearGradient id="a17"><stop offset="0.000" stop-color="#83ff7c"/><stop offset="0.167" stop-color="#a5ff5a"/><stop offset="0.236" stop-color="#cdff32"/><stop offset="0.276" stop-color="#fdff02"/><stop offset="0.300" stop-color="#ffd100"/><stop offset="0.315" stop-color="#ff9d00"/><stop offset="0.330" stop-color="#ff4600"/><stop offset="0.340" stop-color="#ff0000"/><stop offset="0.350" stop-color="#cc0000"/><stop offset="0.360" stop-color="#bc0000"/><stop offset="0.365" stop-color="#c10000"/><stop offset="0.369" stop-color="#d50000"/><stop offset="0.374" stop-color="#ff2600"/><stop offset="0.379" stop-color="#ffa200"/><stop offset="0.384" stop-color="#ffbb00"/><stop offset="0.389" stop-color="#ffae00"/><stop offset="0.399" stop-color="#ff6400"/><stop offset="0.409" stop-color="#ff4300"/><stop offset="0.443" stop-color="#ff0400"/><stop offset="0.483" stop-color="#e70000"/><stop offset="0.517" stop-color="#f80000"/><stop offset="0.532" stop-color="#ff0c00"/><stop offset="0.552" stop-color="#ff3200"/><stop offset="0.557" stop-color="#ff4600"/><stop offset="0.567" stop-color="#ff8d00"/><stop offset="0.571" stop-color="#ff9a00"/><stop offset="0.576" stop-color="#ff8300"/><stop offset="0.581" stop-color="#ff1000"/><stop offset="0.586" stop-color="#c50000"/><stop offset="0.591" stop-color="#b30000"/><stop offset="0.601" stop-color="#b60000"/><stop offset="0.611" stop-color="#da0000"/><stop offset="0.616" stop-color="#f70000"/><stop offset="0.626" stop-color="#ff3c00"/><stop offset="0.640" stop-color="#ff9400"/><stop offset="0.655" stop-color="#ffc800"/><stop offset="0.680" stop-color="#fffd00"/><stop offset="0.729" stop-color="#c6ff39"/><stop offset="0.808" stop-color="#9eff61"/><stop offset="0.995" stop-color="#7eff81"/><stop offset="1.000" stop-color="#7eff81"/></linearGradient><rect x="39.3" y="272" width="101.5" height="1.6" fill="url(#a17)"/>
<linearGradient id="a18"><stop offset="0.000" stop-color="#85ff7a"/><stop offset="0.167" stop-color="#a8ff57"/><stop offset="0.236" stop-color="#d1ff2e"/><stop offset="0.276" stop-color="#fffd00"/><stop offset="0.300" stop-color="#ffcb00"/><stop offset="0.315" stop-color="#ff9600"/><stop offset="0.330" stop-color="#ff3b00"/><stop offset="0.335" stop-color="#ff1600"/><stop offset="0.340" stop-color="#f10000"/><stop offset="0.350" stop-color="#bb0000"/><stop offset="0.355" stop-color="#af0000"/><stop offset="0.365" stop-color="#b30000"/><stop offset="0.369" stop-color="#ca0000"/><stop offset="0.374" stop-color="#ff1e00"/><stop offset="0.379" stop-color="#ffa100"/><stop offset="0.384" stop-color="#ffbb00"/><stop offset="0.389" stop-color="#ffae00"/><stop offset="0.399" stop-color="#ff6500"/><stop offset="0.409" stop-color="#ff4400"/><stop offset="0.448" stop-color="#ff0300"/><stop offset="0.483" stop-color="#f00000"/><stop offset="0.517" stop-color="#ff0500"/><stop offset="0.552" stop-color="#ff4100"/><stop offset="0.557" stop-color="#ff5400"/><stop offset="0.567" stop-color="#ff9800"/><stop offset="0.571" stop-color="#ffa500"/><stop offset="0.576" stop-color="#ff9000"/><stop offset="0.581" stop-color="#ff2d00"/><stop offset="0.586" stop-color="#ea0000"/><stop offset="0.591" stop-color="#dd0000"/><stop offset="0.601" stop-color="#e30000"/><stop offset="0.611" stop-color="#ff0600"/><stop offset="0.635" stop-color="#ff9100"/><stop offset="0.650" stop-color="#ffc900"/><stop offset="0.675" stop-color="#ffff00"/><stop offset="0.719" stop-color="#c7ff38"/><stop offset="0.793" stop-color="#9eff61"/><stop offset="0.966" stop-color="#7eff81"/><stop offset="1.000" stop-color="#7cff83"/></linearGradient><rect x="39.3" y="273" width="101.5" height="1.6" fill="url(#a18)"/>
<linearGradient id="a19"><stop offset="0.000" stop-color="#86ff79"/><stop offset="0.167" stop-color="#abff54"/><stop offset="0.236" stop-color="#d3ff2c"/><stop offset="0.276" stop-color="#fffb00"/><stop offset="0.300" stop-color="#ffca00"/><stop offset="0.315" stop-color="#ff9500"/><stop offset="0.330" stop-color="#ff3800"/><stop offset="0.335" stop-color="#ff1300"/><stop offset="0.340" stop-color="#ee0000"/><stop offset="0.350" stop-color="#b80000"/><stop offset="0.355" stop-color="#ac0000"/><stop offset="0.365" stop-color="#b20000"/><stop offset="0.369" stop-color="#ca0000"/><stop offset="0.374" stop-color="#ff2000"/><stop offset="0.379" stop-color="#ffa600"/><stop offset="0.384" stop-color="#ffc100"/><stop offset="0.389" stop-color="#ffb500"/><stop offset="0.399" stop-color="#ff6d00"/><stop offset="0.409" stop-color="#ff4d00"/><stop offset="0.448" stop-color="#ff1200"/><stop offset="0.483" stop-color="#ff0300"/><stop offset="0.517" stop-color="#ff1c00"/><stop offset="0.552" stop-color="#ff5800"/><stop offset="0.557" stop-color="#ff6a00"/><stop offset="0.567" stop-color="#ffa700"/><stop offset="0.571" stop-color="#ffb400"/><stop offset="0.576" stop-color="#ffa200"/><stop offset="0.581" stop-color="#ff5300"/><stop offset="0.586" stop-color="#ff1c00"/><stop offset="0.591" stop-color="#ff1400"/><stop offset="0.606" stop-color="#ff2b00"/><stop offset="0.640" stop-color="#ffbf00"/><stop offset="0.665" stop-color="#fffb00"/><stop offset="0.719" stop-color="#beff41"/><stop offset="0.793" stop-color="#98ff67"/><stop offset="0.970" stop-color="#7cff83"/><stop offset="1.000" stop-color="#7aff85"/></linearGradient><rect x="39.3" y="274" width="101.5" height="1.6" fill="url(#a19)"/>
<linearGradient id="a20"><stop offset="0.000" stop-color="#87ff78"/><stop offset="0.167" stop-color="#acff53"/><stop offset="0.236" stop-color="#d4ff2b"/><stop offset="0.276" stop-color="#fffb00"/><stop offset="0.300" stop-color="#ffcb00"/><stop offset="0.315" stop-color="#ff9700"/><stop offset="0.330" stop-color="#ff3c00"/><stop offset="0.335" stop-color="#ff1700"/><stop offset="0.340" stop-color="#f20000"/><stop offset="0.350" stop-color="#be0000"/><stop offset="0.355" stop-color="#b30000"/><stop offset="0.365" stop-color="#ba0000"/><stop offset="0.369" stop-color="#d30000"/><stop offset="0.374" stop-color="#ff2a00"/><stop offset="0.379" stop-color="#ffb100"/><stop offset="0.384" stop-color="#ffcc00"/><stop offset="0.389" stop-color="#ffc100"/><stop offset="0.399" stop-color="#ff7c00"/><stop offset="0.409" stop-color="#ff5e00"/><stop offset="0.448" stop-color="#ff2a00"/><stop offset="0.483" stop-color="#ff2000"/><stop offset="0.517" stop-color="#ff3a00"/><stop offset="0.552" stop-color="#ff7500"/><stop offset="0.562" stop-color="#ff9f00"/><stop offset="0.567" stop-color="#ffbb00"/><stop offset="0.571" stop-color="#ffc700"/><stop offset="0.576" stop-color="#ffb800"/><stop offset="0.581" stop-color="#ff7f00"/><stop offset="0.586" stop-color="#ff5300"/><stop offset="0.596" stop-color="#ff5500"/><stop offset="0.611" stop-color="#ff7700"/><stop offset="0.640" stop-color="#ffda00"/><stop offset="0.655" stop-color="#fffc00"/><stop offset="0.704" stop-color="#c1ff3e"/><stop offset="0.773" stop-color="#99ff66"/><stop offset="0.931" stop-color="#7cff83"/><stop offset="1.000" stop-color="#78ff87"/></linearGradient><rect x="39.3" y="275" width="101.5" height="1.6" fill="url(#a20)"/>
<linearGradient id="a21"><stop offset="0.000" stop-color="#88ff77"/><stop offset="0.172" stop-color="#aeff51"/><stop offset="0.241" stop-color="#d7ff28"/><stop offset="0.276" stop-color="#fffe00"/><stop offset="0.300" stop-color="#ffd000"/><stop offset="0.315" stop-color="#ff9d00"/><stop offset="0.330" stop-color="#ff4400"/><stop offset="0.340" stop-color="#fc0000"/><stop offset="0.350" stop-color="#c90000"/><stop offset="0.355" stop-color="#bf0000"/><stop offset="0.365" stop-color="#c90000"/><stop offset="0.369" stop-color="#e20000"/><stop offset="0.374" stop-color="#ff3900"/><stop offset="0.379" stop-color="#ffc000"/><stop offset="0.384" stop-color="#ffdb00"/><stop offset="0.389" stop-color="#ffd100"/><stop offset="0.399" stop-color="#ff9000"/><stop offset="0.409" stop-color="#ff7600"/><stop offset="0.448" stop-color="#ff4a00"/><stop offset="0.483" stop-color="#ff4400"/><stop offset="0.517" stop-color="#ff6000"/><stop offset="0.552" stop-color="#ff9600"/><stop offset="0.562" stop-color="#ffbb00"/><stop offset="0.567" stop-color="#ffd200"/><stop offset="0.571" stop-color="#ffdc00"/><stop offset="0.576" stop-color="#ffd200"/><stop offset="0.586" stop-color="#ff8a00"/><stop offset="0.596" stop-color="#ff9100"/><stop offset="0.645" stop-color="#fdff02"/><stop offset="0.690" stop-color="#c1ff3e"/><stop offset="0.754" stop-color="#98ff67"/><stop offset="0.897" stop-color="#7cff83"/><stop offset="1.000" stop-color="#76ff89"/></linearGradient><rect x="39.3" y="276" width="101.5" height="1.6" fill="url(#a21)"/>
<linearGradient id="a22"><stop offset="0.000" stop-color="#89ff76"/><stop offset="0.177" stop-color="#b0ff4f"/><stop offset="0.246" stop-color="#d9ff26"/><stop offset="0.281" stop-color="#fffc00"/><stop offset="0.305" stop-color="#ffcb00"/><stop offset="0.320" stop-color="#ff8f00"/><stop offset="0.340" stop-color="#ff0c00"/><stop offset="0.345" stop-color="#ee0000"/><stop offset="0.350" stop-color="#da0000"/><stop offset="0.355" stop-color="#d10000"/><stop offset="0.365" stop-color="#dd0000"/><stop offset="0.369" stop-color="#f70000"/><stop offset="0.374" stop-color="#ff4d00"/><stop offset="0.379" stop-color="#ffd200"/><stop offset="0.384" stop-color="#ffec00"/><stop offset="0.389" stop-color="#ffe400"/><stop offset="0.399" stop-color="#ffa900"/><stop offset="0.409" stop-color="#ff9200"/><stop offset="0.453" stop-color="#ff6d00"/><stop offset="0.493" stop-color="#ff7300"/><stop offset="0.537" stop-color="#ffa400"/><stop offset="0.557" stop-color="#ffc700"/><stop offset="0.567" stop-color="#ffec00"/><stop offset="0.571" stop-color="#fff500"/><stop offset="0.576" stop-color="#ffed00"/><stop offset="0.586" stop-color="#ffbd00"/><stop offset="0.611" stop-color="#ffe000"/><stop offset="0.631" stop-color="#faff05"/><stop offset="0.675" stop-color="#beff41"/><stop offset="0.739" stop-color="#94ff6b"/><stop offset="0.872" stop-color="#7aff85"/><stop offset="1.000" stop-color="#74ff8b"/></linearGradient><rect x="39.3" y="277" width="101.5" height="1.6" fill="url(#a22)"/>
<linearGradient id="a23"><stop offset="0.000" stop-color="#89ff76"/><stop offset="0.182" stop-color="#b0ff4f"/><stop offset="0.251" stop-color="#d9ff26"/><stop offset="0.286" stop-color="#fffd00"/><stop offset="0.305" stop-color="#ffd600"/><stop offset="0.320" stop-color="#ff9e00"/><stop offset="0.345" stop-color="#ff0700"/><stop offset="0.355" stop-color="#ec0000"/><stop offset="0.365" stop-color="#fa0000"/><stop offset="0.369" stop-color="#ff1500"/><stop offset="0.374" stop-color="#ff6600"/><stop offset="0.379" stop-color="#ffe600"/><stop offset="0.384" stop-color="#ffff00"/><stop offset="0.389" stop-color="#fff800"/><stop offset="0.399" stop-color="#ffc500"/><stop offset="0.414" stop-color="#ffad00"/><stop offset="0.458" stop-color="#ff9600"/><stop offset="0.498" stop-color="#ffa400"/><stop offset="0.552" stop-color="#ffe200"/><stop offset="0.562" stop-color="#fff900"/><stop offset="0.571" stop-color="#efff10"/><stop offset="0.581" stop-color="#fffc00"/><stop offset="0.586" stop-color="#ffed00"/><stop offset="0.606" stop-color="#faff05"/><stop offset="0.665" stop-color="#b3ff4c"/><stop offset="0.734" stop-color="#8cff73"/><stop offset="0.882" stop-color="#75ff8a"/><stop offset="1.000" stop-color="#71ff8e"/></linearGradient><rect x="39.3" y="278" width="101.5" height="1.6" fill="url(#a23)"/>
<linearGradient id="a24"><stop offset="0.000" stop-color="#89ff76"/><stop offset="0.187" stop-color="#aeff51"/><stop offset="0.256" stop-color="#d6ff29"/><stop offset="0.296" stop-color="#fff900"/><stop offset="0.310" stop-color="#ffd900"/><stop offset="0.325" stop-color="#ff9a00"/><stop offset="0.345" stop-color="#ff2a00"/><stop offset="0.355" stop-color="#ff1300"/><stop offset="0.365" stop-color="#ff2100"/><stop offset="0.369" stop-color="#ff3a00"/><stop offset="0.374" stop-color="#ff8600"/><stop offset="0.379" stop-color="#fffb00"/><stop offset="0.384" stop-color="#ecff13"/><stop offset="0.394" stop-color="#fff600"/><stop offset="0.404" stop-color="#ffd800"/><stop offset="0.453" stop-color="#ffc200"/><stop offset="0.498" stop-color="#ffd100"/><stop offset="0.547" stop-color="#fcff03"/><stop offset="0.571" stop-color="#d4ff2b"/><stop offset="0.586" stop-color="#e4ff1b"/><stop offset="0.670" stop-color="#9aff65"/><stop offset="0.759" stop-color="#7bff84"/><stop offset="0.990" stop-color="#6fff90"/><stop offset="1.000" stop-color="#70ff8f"/></linearGradient><rect x="39.3" y="279" width="101.5" height="1.6" fill="url(#a24)"/>
<linearGradient id="a25"><stop offset="0.000" stop-color="#89ff76"/><stop offset="0.197" stop-color="#aeff51"/><stop offset="0.266" stop-color="#d5ff2a"/><stop offset="0.300" stop-color="#fdff02"/><stop offset="0.315" stop-color="#ffdf00"/><stop offset="0.330" stop-color="#ff9f00"/><stop offset="0.345" stop-color="#ff5900"/><stop offset="0.355" stop-color="#ff4600"/><stop offset="0.365" stop-color="#ff5300"/><stop offset="0.369" stop-color="#ff6900"/><stop offset="0.374" stop-color="#ffac00"/><stop offset="0.379" stop-color="#edff12"/><stop offset="0.384" stop-color="#d9ff26"/><stop offset="0.389" stop-color="#dcff23"/><stop offset="0.399" stop-color="#fdff02"/><stop offset="0.433" stop-color="#ffee00"/><stop offset="0.488" stop-color="#fff900"/><stop offset="0.517" stop-color="#f1ff0e"/><stop offset="0.576" stop-color="#b8ff47"/><stop offset="0.596" stop-color="#b2ff4d"/><stop offset="0.675" stop-color="#84ff7b"/><stop offset="0.808" stop-color="#6eff91"/><stop offset="1.000" stop-color="#6eff91"/></linearGradient><rect x="39.3" y="280" width="101.5" height="1.6" fill="url(#a25)"/>
<linearGradient id="a26"><stop offset="0.000" stop-color="#88ff77"/><stop offset="0.207" stop-color="#abff54"/><stop offset="0.281" stop-color="#d5ff2a"/><stop offset="0.315" stop-color="#fffa00"/><stop offset="0.345" stop-color="#ff9300"/><stop offset="0.355" stop-color="#ff8400"/><stop offset="0.365" stop-color="#ff8e00"/><stop offset="0.369" stop-color="#ffa000"/><stop offset="0.374" stop-color="#ffd800"/><stop offset="0.379" stop-color="#d6ff29"/><stop offset="0.384" stop-color="#c6ff39"/><stop offset="0.389" stop-color="#c8ff37"/><stop offset="0.404" stop-color="#e5ff1a"/><stop offset="0.463" stop-color="#e4ff1b"/><stop offset="0.547" stop-color="#b1ff4e"/><stop offset="0.606" stop-color="#83ff7c"/><stop offset="0.724" stop-color="#6bff94"/><stop offset="1.000" stop-color="#6cff93"/></linearGradient><rect x="39.3" y="281" width="101.5" height="1.6" fill="url(#a26)"/>
<linearGradient id="a27"><stop offset="0.000" stop-color="#87ff78"/><stop offset="0.222" stop-color="#a9ff56"/><stop offset="0.296" stop-color="#cfff30"/><stop offset="0.320" stop-color="#f1ff0e"/><stop offset="0.330" stop-color="#fff600"/><stop offset="0.350" stop-color="#ffcb00"/><stop offset="0.365" stop-color="#ffce00"/><stop offset="0.369" stop-color="#ffda00"/><stop offset="0.374" stop-color="#f8ff07"/><stop offset="0.379" stop-color="#beff41"/><stop offset="0.384" stop-color="#b1ff4e"/><stop offset="0.409" stop-color="#c5ff3a"/><stop offset="0.483" stop-color="#b2ff4d"/><stop offset="0.576" stop-color="#7dff82"/><stop offset="0.586" stop-color="#62ff9d"/><stop offset="0.631" stop-color="#5affa5"/><stop offset="1.000" stop-color="#6aff95"/></linearGradient><rect x="39.3" y="282" width="101.5" height="1.6" fill="url(#a27)"/>
<linearGradient id="a28"><stop offset="0.000" stop-color="#86ff79"/><stop offset="0.241" stop-color="#a5ff5a"/><stop offset="0.310" stop-color="#c5ff3a"/><stop offset="0.350" stop-color="#f4ff0b"/><stop offset="0.365" stop-color="#f3ff0c"/><stop offset="0.369" stop-color="#ebff14"/><stop offset="0.379" stop-color="#a6ff59"/><stop offset="0.389" stop-color="#9cff63"/><stop offset="0.409" stop-color="#a5ff5a"/><stop offset="0.517" stop-color="#78ff87"/><stop offset="0.562" stop-color="#68ff97"/><stop offset="0.576" stop-color="#60ff9f"/><stop offset="0.586" stop-color="#33ffcc"/><stop offset="0.611" stop-color="#2cffd3"/><stop offset="0.680" stop-color="#4affb5"/><stop offset="1.000" stop-color="#69ff96"/></linearGradient><rect x="39.3" y="283" width="101.5" height="1.6" fill="url(#a28)"/>
<linearGradient id="a29"><stop offset="0.000" stop-color="#84ff7b"/><stop offset="0.276" stop-color="#a0ff5f"/><stop offset="0.360" stop-color="#bfff40"/><stop offset="0.369" stop-color="#b9ff46"/><stop offset="0.379" stop-color="#8dff72"/><stop offset="0.394" stop-color="#86ff79"/><stop offset="0.478" stop-color="#64ff9b"/><stop offset="0.557" stop-color="#48ffb7"/><stop offset="0.571" stop-color="#4fffb0"/><stop offset="0.576" stop-color="#45ffba"/><stop offset="0.586" stop-color="#00fcff"/><stop offset="0.601" stop-color="#00f0ff"/><stop offset="0.621" stop-color="#04fffb"/><stop offset="0.655" stop-color="#2bffd4"/><stop offset="0.749" stop-color="#4dffb2"/><stop offset="1.000" stop-color="#68ff97"/></linearGradient><rect x="39.3" y="284" width="101.5" height="1.6" fill="url(#a29)"/>
<linearGradient id="a30"><stop offset="0.000" stop-color="#82ff7d"/><stop offset="0.365" stop-color="#90ff6f"/><stop offset="0.374" stop-color="#7fff80"/><stop offset="0.384" stop-color="#6eff91"/><stop offset="0.527" stop-color="#28ffd7"/><stop offset="0.557" stop-color="#28ffd7"/><stop offset="0.571" stop-color="#37ffc8"/><stop offset="0.576" stop-color="#2affd5"/><stop offset="0.581" stop-color="#00edff"/><stop offset="0.586" stop-color="#00c1ff"/><stop offset="0.596" stop-color="#00afff"/><stop offset="0.611" stop-color="#00b7ff"/><stop offset="0.640" stop-color="#00ffff"/><stop offset="0.675" stop-color="#24ffdb"/><stop offset="0.759" stop-color="#47ffb8"/><stop offset="1.000" stop-color="#67ff98"/></linearGradient><rect x="39.3" y="285" width="101.5" height="1.6" fill="url(#a30)"/>
<linearGradient id="a31"><stop offset="0.000" stop-color="#80ff7f"/><stop offset="0.276" stop-color="#7dff82"/><stop offset="0.365" stop-color="#67ff98"/><stop offset="0.493" stop-color="#0bfff4"/><stop offset="0.552" stop-color="#02fffd"/><stop offset="0.567" stop-color="#1effe1"/><stop offset="0.571" stop-color="#1fffe0"/><stop offset="0.576" stop-color="#0ffff0"/><stop offset="0.581" stop-color="#00bcff"/><stop offset="0.586" stop-color="#0084ff"/><stop offset="0.596" stop-color="#006bff"/><stop offset="0.606" stop-color="#006cff"/><stop offset="0.621" stop-color="#009aff"/><stop offset="0.640" stop-color="#00e0ff"/><stop offset="0.660" stop-color="#03fffc"/><stop offset="0.719" stop-color="#31ffce"/><stop offset="0.842" stop-color="#52ffad"/><stop offset="1.000" stop-color="#66ff99"/></linearGradient><rect x="39.3" y="286" width="101.5" height="1.6" fill="url(#a31)"/>
<linearGradient id="a32"><stop offset="0.000" stop-color="#7eff81"/><stop offset="0.232" stop-color="#75ff8a"/><stop offset="0.330" stop-color="#55ffaa"/><stop offset="0.374" stop-color="#3dffc2"/><stop offset="0.389" stop-color="#39ffc6"/><stop offset="0.448" stop-color="#00fdff"/><stop offset="0.507" stop-color="#00d9ff"/><stop offset="0.552" stop-color="#00ddff"/><stop offset="0.567" stop-color="#05fffa"/><stop offset="0.571" stop-color="#08fff7"/><stop offset="0.576" stop-color="#00f3ff"/><stop offset="0.581" stop-color="#008eff"/><stop offset="0.586" stop-color="#004bff"/><stop offset="0.591" stop-color="#0035ff"/><stop offset="0.601" stop-color="#0028ff"/><stop offset="0.611" stop-color="#003bff"/><stop offset="0.635" stop-color="#00b1ff"/><stop offset="0.650" stop-color="#00ddff"/><stop offset="0.675" stop-color="#02fffd"/><stop offset="0.734" stop-color="#30ffcf"/><stop offset="0.862" stop-color="#53ffac"/><stop offset="1.000" stop-color="#66ff99"/></linearGradient><rect x="39.3" y="287" width="101.5" height="1.6" fill="url(#a32)"/>
<linearGradient id="a33"><stop offset="0.000" stop-color="#7bff84"/><stop offset="0.212" stop-color="#6eff91"/><stop offset="0.300" stop-color="#4cffb3"/><stop offset="0.369" stop-color="#14ffeb"/><stop offset="0.384" stop-color="#26ffd9"/><stop offset="0.409" stop-color="#00feff"/><stop offset="0.478" stop-color="#00b9ff"/><stop offset="0.522" stop-color="#00adff"/><stop offset="0.552" stop-color="#00b8ff"/><stop offset="0.562" stop-color="#00d5ff"/><stop offset="0.567" stop-color="#00ebff"/><stop offset="0.571" stop-color="#00f0ff"/><stop offset="0.576" stop-color="#00d9ff"/><stop offset="0.581" stop-color="#0064ff"/><stop offset="0.586" stop-color="#0018ff"/><stop offset="0.591" stop-color="#0000ff"/><stop offset="0.601" stop-color="#0000f1"/><stop offset="0.611" stop-color="#0009ff"/><stop offset="0.635" stop-color="#0094ff"/><stop offset="0.650" stop-color="#00c8ff"/><stop offset="0.680" stop-color="#00f9ff"/><stop offset="0.714" stop-color="#1cffe3"/><stop offset="0.798" stop-color="#43ffbc"/><stop offset="1.000" stop-color="#65ff9a"/></linearGradient><rect x="39.3" y="288" width="101.5" height="1.6" fill="url(#a33)"/>
<linearGradient id="a34"><stop offset="0.000" stop-color="#79ff86"/><stop offset="0.197" stop-color="#68ff97"/><stop offset="0.281" stop-color="#45ffba"/><stop offset="0.345" stop-color="#06fff9"/><stop offset="0.369" stop-color="#00ebff"/><stop offset="0.374" stop-color="#00faff"/><stop offset="0.384" stop-color="#0ffff0"/><stop offset="0.394" stop-color="#00f9ff"/><stop offset="0.414" stop-color="#00d4ff"/><stop offset="0.473" stop-color="#008fff"/><stop offset="0.512" stop-color="#0080ff"/><stop offset="0.552" stop-color="#0094ff"/><stop offset="0.557" stop-color="#00a0ff"/><stop offset="0.567" stop-color="#00d2ff"/><stop offset="0.571" stop-color="#00d9ff"/><stop offset="0.576" stop-color="#00bfff"/><stop offset="0.581" stop-color="#0040ff"/><stop offset="0.586" stop-color="#0000ee"/><stop offset="0.591" stop-color="#0000d4"/><stop offset="0.601" stop-color="#0000c7"/><stop offset="0.606" stop-color="#0000cf"/><stop offset="0.616" stop-color="#0000fd"/><stop offset="0.635" stop-color="#007dff"/><stop offset="0.650" stop-color="#00b7ff"/><stop offset="0.680" stop-color="#00eeff"/><stop offset="0.700" stop-color="#07fff8"/><stop offset="0.764" stop-color="#34ffcb"/><stop offset="0.921" stop-color="#5bffa4"/><stop offset="1.000" stop-color="#66ff99"/></linearGradient><rect x="39.3" y="289" width="101.5" height="1.6" fill="url(#a34)"/>
<linearGradient id="a35"><stop offset="0.000" stop-color="#76ff89"/><stop offset="0.187" stop-color="#62ff9d"/><stop offset="0.266" stop-color="#3fffc0"/><stop offset="0.320" stop-color="#07fff8"/><stop offset="0.335" stop-color="#00f0ff"/><stop offset="0.369" stop-color="#00c1ff"/><stop offset="0.379" stop-color="#00f0ff"/><stop offset="0.384" stop-color="#00f8ff"/><stop offset="0.389" stop-color="#00f0ff"/><stop offset="0.404" stop-color="#00c0ff"/><stop offset="0.463" stop-color="#006bff"/><stop offset="0.502" stop-color="#0055ff"/><stop offset="0.542" stop-color="#0066ff"/><stop offset="0.552" stop-color="#0071ff"/><stop offset="0.557" stop-color="#0080ff"/><stop offset="0.567" stop-color="#00baff"/><stop offset="0.571" stop-color="#00c2ff"/><stop offset="0.576" stop-color="#00a7ff"/><stop offset="0.581" stop-color="#0022ff"/><stop offset="0.586" stop-color="#0000cc"/><stop offset="0.591" stop-color="#0000b3"/><stop offset="0.601" stop-color="#0000a8"/><stop offset="0.606" stop-color="#0000b1"/><stop offset="0.616" stop-color="#0000e3"/><stop offset="0.621" stop-color="#0007ff"/><stop offset="0.635" stop-color="#006bff"/><stop offset="0.650" stop-color="#00a9ff"/><stop offset="0.680" stop-color="#00e5ff"/><stop offset="0.700" stop-color="#01fffe"/><stop offset="0.759" stop-color="#2fffd0"/><stop offset="0.892" stop-color="#56ffa9"/><stop offset="1.000" stop-color="#66ff99"/></linearGradient><rect x="39.3" y="290" width="101.5" height="1.6" fill="url(#a35)"/>
<linearGradient id="a36"><stop offset="0.000" stop-color="#74ff8b"/><stop offset="0.182" stop-color="#5cffa3"/><stop offset="0.256" stop-color="#38ffc7"/><stop offset="0.310" stop-color="#00faff"/><stop offset="0.365" stop-color="#0095ff"/><stop offset="0.369" stop-color="#0095ff"/><stop offset="0.379" stop-color="#00d9ff"/><stop offset="0.384" stop-color="#00e4ff"/><stop offset="0.389" stop-color="#00daff"/><stop offset="0.399" stop-color="#00adff"/><stop offset="0.429" stop-color="#0072ff"/><stop offset="0.473" stop-color="#0038ff"/><stop offset="0.507" stop-color="#002dff"/><stop offset="0.542" stop-color="#0044ff"/><stop offset="0.552" stop-color="#0052ff"/><stop offset="0.557" stop-color="#0062ff"/><stop offset="0.567" stop-color="#00a2ff"/><stop offset="0.571" stop-color="#00acff"/><stop offset="0.576" stop-color="#0090ff"/><stop offset="0.581" stop-color="#0009ff"/><stop offset="0.586" stop-color="#0000b3"/><stop offset="0.591" stop-color="#00009a"/><stop offset="0.601" stop-color="#000091"/><stop offset="0.606" stop-color="#00009c"/><stop offset="0.616" stop-color="#0000d1"/><stop offset="0.621" stop-color="#0000f4"/><stop offset="0.626" stop-color="#001bff"/><stop offset="0.640" stop-color="#0077ff"/><stop offset="0.655" stop-color="#00adff"/><stop offset="0.690" stop-color="#00eeff"/><stop offset="0.709" stop-color="#08fff7"/><stop offset="0.773" stop-color="#35ffca"/><stop offset="0.926" stop-color="#5cffa3"/><stop offset="1.000" stop-color="#67ff98"/></linearGradient><rect x="39.3" y="291" width="101.5" height="1.6" fill="url(#a36)"/>
<linearGradient id="a37"><stop offset="0.000" stop-color="#71ff8e"/><stop offset="0.177" stop-color="#56ffa9"/><stop offset="0.251" stop-color="#30ffcf"/><stop offset="0.296" stop-color="#00fcff"/><stop offset="0.325" stop-color="#00bfff"/><stop offset="0.355" stop-color="#0070ff"/><stop offset="0.365" stop-color="#0062ff"/><stop offset="0.369" stop-color="#0065ff"/><stop offset="0.379" stop-color="#00c3ff"/><stop offset="0.384" stop-color="#00d2ff"/><stop offset="0.389" stop-color="#00c7ff"/><stop offset="0.399" stop-color="#0091ff"/><stop offset="0.419" stop-color="#0062ff"/><stop offset="0.463" stop-color="#001cff"/><stop offset="0.498" stop-color="#000aff"/><stop offset="0.532" stop-color="#001cff"/><stop offset="0.552" stop-color="#0038ff"/><stop offset="0.557" stop-color="#004aff"/><stop offset="0.567" stop-color="#008eff"/><stop offset="0.571" stop-color="#0099ff"/><stop offset="0.576" stop-color="#007dff"/><stop offset="0.581" stop-color="#0000f5"/><stop offset="0.586" stop-color="#0000a0"/><stop offset="0.591" stop-color="#000088"/><stop offset="0.601" stop-color="#000082"/><stop offset="0.606" stop-color="#00008e"/><stop offset="0.616" stop-color="#0000c4"/><stop offset="0.621" stop-color="#0000e9"/><stop offset="0.626" stop-color="#0010ff"/><stop offset="0.640" stop-color="#006fff"/><stop offset="0.655" stop-color="#00a7ff"/><stop offset="0.685" stop-color="#00e4ff"/><stop offset="0.704" stop-color="#00ffff"/><stop offset="0.764" stop-color="#30ffcf"/><stop offset="0.892" stop-color="#57ffa8"/><stop offset="1.000" stop-color="#67ff98"/></linearGradient><rect x="39.3" y="292" width="101.5" height="1.6" fill="url(#a37)"/>
<linearGradient id="a38"><stop offset="0.000" stop-color="#6fff90"/><stop offset="0.172" stop-color="#52ffad"/><stop offset="0.246" stop-color="#2affd5"/><stop offset="0.286" stop-color="#00fbff"/><stop offset="0.310" stop-color="#00ccff"/><stop offset="0.330" stop-color="#008aff"/><stop offset="0.350" stop-color="#0041ff"/><stop offset="0.365" stop-color="#002bff"/><stop offset="0.369" stop-color="#0032ff"/><stop offset="0.374" stop-color="#0068ff"/><stop offset="0.379" stop-color="#00b0ff"/><stop offset="0.384" stop-color="#00c2ff"/><stop offset="0.389" stop-color="#00b6ff"/><stop offset="0.399" stop-color="#0078ff"/><stop offset="0.414" stop-color="#004fff"/><stop offset="0.453" stop-color="#000aff"/><stop offset="0.473" stop-color="#0000f5"/><stop offset="0.507" stop-color="#0000f0"/><stop offset="0.532" stop-color="#0006ff"/><stop offset="0.552" stop-color="#0025ff"/><stop offset="0.557" stop-color="#0038ff"/><stop offset="0.567" stop-color="#007fff"/><stop offset="0.571" stop-color="#008aff"/><stop offset="0.576" stop-color="#0070ff"/><stop offset="0.581" stop-color="#0000e8"/><stop offset="0.586" stop-color="#000094"/><stop offset="0.591" stop-color="#000080"/><stop offset="0.606" stop-color="#000085"/><stop offset="0.616" stop-color="#0000bd"/><stop offset="0.621" stop-color="#0000e3"/><stop offset="0.626" stop-color="#000aff"/><stop offset="0.640" stop-color="#006bff"/><stop offset="0.655" stop-color="#00a4ff"/><stop offset="0.685" stop-color="#00e3ff"/><stop offset="0.704" stop-color="#00ffff"/><stop offset="0.759" stop-color="#2effd1"/><stop offset="0.877" stop-color="#56ffa9"/><stop offset="1.000" stop-color="#69ff96"/></linearGradient><rect x="39.3" y="293" width="101.5" height="1.6" fill="url(#a38)"/>
<linearGradient id="a39"><stop offset="0.000" stop-color="#6cff93"/><stop offset="0.167" stop-color="#4effb1"/><stop offset="0.241" stop-color="#25ffda"/><stop offset="0.276" stop-color="#00fdff"/><stop offset="0.305" stop-color="#00c6ff"/><stop offset="0.320" stop-color="#0095ff"/><stop offset="0.345" stop-color="#001aff"/><stop offset="0.355" stop-color="#0000fb"/><stop offset="0.365" stop-color="#0000f5"/><stop offset="0.369" stop-color="#0002ff"/><stop offset="0.374" stop-color="#0043ff"/><stop offset="0.379" stop-color="#00a0ff"/><stop offset="0.384" stop-color="#00b5ff"/><stop offset="0.389" stop-color="#00a9ff"/><stop offset="0.399" stop-color="#0064ff"/><stop offset="0.409" stop-color="#0044ff"/><stop offset="0.443" stop-color="#0001ff"/><stop offset="0.478" stop-color="#0000de"/><stop offset="0.512" stop-color="#0000e2"/><stop offset="0.537" stop-color="#0000fe"/><stop offset="0.552" stop-color="#001aff"/><stop offset="0.557" stop-color="#002dff"/><stop offset="0.567" stop-color="#0076ff"/><stop offset="0.571" stop-color="#0082ff"/><stop offset="0.576" stop-color="#0068ff"/><stop offset="0.581" stop-color="#0000e4"/><stop offset="0.586" stop-color="#000091"/><stop offset="0.591" stop-color="#000080"/><stop offset="0.606" stop-color="#000085"/><stop offset="0.616" stop-color="#0000be"/><stop offset="0.621" stop-color="#0000e3"/><stop offset="0.626" stop-color="#000bff"/><stop offset="0.640" stop-color="#006cff"/><stop offset="0.655" stop-color="#00a5ff"/><stop offset="0.685" stop-color="#00e5ff"/><stop offset="0.704" stop-color="#02fffd"/><stop offset="0.759" stop-color="#31ffce"/><stop offset="0.872" stop-color="#57ffa8"/><stop offset="1.000" stop-color="#6aff95"/></linearGradient><rect x="39.3" y="294" width="101.5" height="1.6" fill="url(#a39)"/>
<linearGradient id="a40"><stop offset="0.000" stop-color="#6aff95"/><stop offset="0.167" stop-color="#49ffb6"/><stop offset="0.236" stop-color="#23ffdc"/><stop offset="0.271" stop-color="#00fbff"/><stop offset="0.300" stop-color="#00c5ff"/><stop offset="0.315" stop-color="#0096ff"/><stop offset="0.330" stop-color="#0046ff"/><stop offset="0.340" stop-color="#0008ff"/><stop offset="0.350" stop-color="#0000d8"/><stop offset="0.360" stop-color="#0000c7"/><stop offset="0.365" stop-color="#0000c9"/><stop offset="0.369" stop-color="#0000da"/><stop offset="0.374" stop-color="#0025ff"/><stop offset="0.379" stop-color="#0094ff"/><stop offset="0.384" stop-color="#00acff"/><stop offset="0.389" stop-color="#009fff"/><stop offset="0.399" stop-color="#0057ff"/><stop offset="0.409" stop-color="#0035ff"/><stop offset="0.433" stop-color="#0003ff"/><stop offset="0.473" stop-color="#0000d5"/><stop offset="0.507" stop-color="#0000d8"/><stop offset="0.542" stop-color="#0003ff"/><stop offset="0.552" stop-color="#0017ff"/><stop offset="0.557" stop-color="#002bff"/><stop offset="0.567" stop-color="#0074ff"/><stop offset="0.571" stop-color="#0081ff"/><stop offset="0.576" stop-color="#0068ff"/><stop offset="0.581" stop-color="#0000e9"/><stop offset="0.586" stop-color="#000099"/><stop offset="0.591" stop-color="#000085"/><stop offset="0.601" stop-color="#000084"/><stop offset="0.611" stop-color="#0000aa"/><stop offset="0.621" stop-color="#0000ee"/><stop offset="0.626" stop-color="#0014ff"/><stop offset="0.640" stop-color="#0073ff"/><stop offset="0.655" stop-color="#00abff"/><stop offset="0.685" stop-color="#00eaff"/><stop offset="0.700" stop-color="#00ffff"/><stop offset="0.754" stop-color="#32ffcd"/><stop offset="0.862" stop-color="#58ffa7"/><stop offset="1.000" stop-color="#6cff93"/></linearGradient><rect x="39.3" y="295" width="101.5" height="1.6" fill="url(#a40)"/>
<linearGradient id="a41"><stop offset="0.000" stop-color="#68ff97"/><stop offset="0.167" stop-color="#45ffba"/><stop offset="0.236" stop-color="#1dffe2"/><stop offset="0.266" stop-color="#00fbff"/><stop offset="0.300" stop-color="#00bcff"/><stop offset="0.315" stop-color="#0089ff"/><stop offset="0.330" stop-color="#0031ff"/><stop offset="0.335" stop-color="#000eff"/><stop offset="0.340" stop-color="#0000eb"/><stop offset="0.350" stop-color="#0000b7"/><stop offset="0.360" stop-color="#0000a7"/><stop offset="0.365" stop-color="#0000ad"/><stop offset="0.369" stop-color="#0000c1"/><stop offset="0.374" stop-color="#0012ff"/><stop offset="0.379" stop-color="#008eff"/><stop offset="0.384" stop-color="#00a7ff"/><stop offset="0.389" stop-color="#009aff"/><stop offset="0.399" stop-color="#0050ff"/><stop offset="0.409" stop-color="#002eff"/><stop offset="0.433" stop-color="#0000fd"/><stop offset="0.468" stop-color="#0000d6"/><stop offset="0.502" stop-color="#0000d7"/><stop offset="0.537" stop-color="#0000ff"/><stop offset="0.552" stop-color="#001eff"/><stop offset="0.557" stop-color="#0032ff"/><stop offset="0.567" stop-color="#0079ff"/><stop offset="0.571" stop-color="#0086ff"/><stop offset="0.576" stop-color="#006fff"/><stop offset="0.581" stop-color="#0000fb"/><stop offset="0.586" stop-color="#0000b0"/><stop offset="0.591" stop-color="#00009f"/><stop offset="0.601" stop-color="#0000a1"/><stop offset="0.611" stop-color="#0000c6"/><stop offset="0.621" stop-color="#0006ff"/><stop offset="0.635" stop-color="#0067ff"/><stop offset="0.650" stop-color="#00a6ff"/><stop offset="0.675" stop-color="#00e0ff"/><stop offset="0.695" stop-color="#00ffff"/><stop offset="0.744" stop-color="#30ffcf"/><stop offset="0.842" stop-color="#57ffa8"/><stop offset="1.000" stop-color="#6dff92"/></linearGradient><rect x="39.3" y="296" width="101.5" height="1.6" fill="url(#a41)"/>
<linearGradient id="a42"><stop offset="0.000" stop-color="#66ff99"/><stop offset="0.167" stop-color="#42ffbd"/><stop offset="0.236" stop-color="#19ffe6"/><stop offset="0.261" stop-color="#00feff"/><stop offset="0.296" stop-color="#00c3ff"/><stop offset="0.310" stop-color="#0097ff"/><stop offset="0.325" stop-color="#0049ff"/><stop offset="0.335" stop-color="#0001ff"/><stop offset="0.345" stop-color="#0000be"/><stop offset="0.350" stop-color="#0000a7"/><stop offset="0.355" stop-color="#00009b"/><stop offset="0.365" stop-color="#00009f"/><stop offset="0.369" stop-color="#0000b5"/><stop offset="0.374" stop-color="#000aff"/><stop offset="0.379" stop-color="#008dff"/><stop offset="0.384" stop-color="#00a7ff"/><stop offset="0.389" stop-color="#009aff"/><stop offset="0.399" stop-color="#0050ff"/><stop offset="0.409" stop-color="#002fff"/><stop offset="0.433" stop-color="#0002ff"/><stop offset="0.468" stop-color="#0000de"/><stop offset="0.502" stop-color="#0000e3"/><stop offset="0.527" stop-color="#0000fe"/><stop offset="0.552" stop-color="#002dff"/><stop offset="0.557" stop-color="#0040ff"/><stop offset="0.567" stop-color="#0084ff"/><stop offset="0.571" stop-color="#0091ff"/><stop offset="0.576" stop-color="#007cff"/><stop offset="0.581" stop-color="#0019ff"/><stop offset="0.586" stop-color="#0000d6"/><stop offset="0.591" stop-color="#0000c9"/><stop offset="0.601" stop-color="#0000cf"/><stop offset="0.611" stop-color="#0000f1"/><stop offset="0.616" stop-color="#000cff"/><stop offset="0.635" stop-color="#007dff"/><stop offset="0.650" stop-color="#00b5ff"/><stop offset="0.680" stop-color="#00f3ff"/><stop offset="0.695" stop-color="#0afff5"/><stop offset="0.749" stop-color="#3affc5"/><stop offset="0.857" stop-color="#5effa1"/><stop offset="1.000" stop-color="#6fff90"/></linearGradient><rect x="39.3" y="297" width="101.5" height="1.6" fill="url(#a42)"/>
<linearGradient id="a43"><stop offset="0.000" stop-color="#65ff9a"/><stop offset="0.167" stop-color="#40ffbf"/><stop offset="0.236" stop-color="#17ffe8"/><stop offset="0.261" stop-color="#00fcff"/><stop offset="0.296" stop-color="#00c1ff"/><stop offset="0.310" stop-color="#0096ff"/><stop offset="0.325" stop-color="#0047ff"/><stop offset="0.335" stop-color="#0000fd"/><stop offset="0.345" stop-color="#0000ba"/><stop offset="0.350" stop-color="#0000a4"/><stop offset="0.355" stop-color="#000098"/><stop offset="0.365" stop-color="#00009e"/><stop offset="0.369" stop-color="#0000b6"/><stop offset="0.374" stop-color="#000cff"/><stop offset="0.379" stop-color="#0092ff"/><stop offset="0.384" stop-color="#00adff"/><stop offset="0.389" stop-color="#00a1ff"/><stop offset="0.399" stop-color="#0059ff"/><stop offset="0.409" stop-color="#0039ff"/><stop offset="0.443" stop-color="#0003ff"/><stop offset="0.483" stop-color="#0000ef"/><stop offset="0.512" stop-color="#0002ff"/><stop offset="0.547" stop-color="#0038ff"/><stop offset="0.557" stop-color="#0056ff"/><stop offset="0.567" stop-color="#0094ff"/><stop offset="0.571" stop-color="#00a0ff"/><stop offset="0.576" stop-color="#008eff"/><stop offset="0.581" stop-color="#0040ff"/><stop offset="0.586" stop-color="#0009ff"/><stop offset="0.591" stop-color="#0001ff"/><stop offset="0.606" stop-color="#0017ff"/><stop offset="0.640" stop-color="#00abff"/><stop offset="0.665" stop-color="#00e8ff"/><stop offset="0.680" stop-color="#01fffe"/><stop offset="0.729" stop-color="#35ffca"/><stop offset="0.818" stop-color="#5affa5"/><stop offset="1.000" stop-color="#71ff8e"/></linearGradient><rect x="39.3" y="298" width="101.5" height="1.6" fill="url(#a43)"/>
<linearGradient id="a44"><stop offset="0.000" stop-color="#63ff9c"/><stop offset="0.167" stop-color="#3fffc0"/><stop offset="0.236" stop-color="#17ffe8"/><stop offset="0.261" stop-color="#00fbff"/><stop offset="0.296" stop-color="#00c3ff"/><stop offset="0.310" stop-color="#0098ff"/><stop offset="0.325" stop-color="#004aff"/><stop offset="0.335" stop-color="#0002ff"/><stop offset="0.345" stop-color="#0000bf"/><stop offset="0.350" stop-color="#0000aa"/><stop offset="0.355" stop-color="#00009e"/><stop offset="0.365" stop-color="#0000a6"/><stop offset="0.369" stop-color="#0000bf"/><stop offset="0.374" stop-color="#0016ff"/><stop offset="0.379" stop-color="#009dff"/><stop offset="0.384" stop-color="#00b8ff"/><stop offset="0.389" stop-color="#00adff"/><stop offset="0.399" stop-color="#0068ff"/><stop offset="0.409" stop-color="#004aff"/><stop offset="0.448" stop-color="#0017ff"/><stop offset="0.483" stop-color="#000cff"/><stop offset="0.517" stop-color="#0027ff"/><stop offset="0.552" stop-color="#0062ff"/><stop offset="0.562" stop-color="#008cff"/><stop offset="0.567" stop-color="#00a8ff"/><stop offset="0.571" stop-color="#00b4ff"/><stop offset="0.576" stop-color="#00a5ff"/><stop offset="0.581" stop-color="#006cff"/><stop offset="0.586" stop-color="#0040ff"/><stop offset="0.596" stop-color="#0042ff"/><stop offset="0.611" stop-color="#0064ff"/><stop offset="0.640" stop-color="#00c8ff"/><stop offset="0.665" stop-color="#00faff"/><stop offset="0.724" stop-color="#3bffc4"/><stop offset="0.813" stop-color="#5effa1"/><stop offset="1.000" stop-color="#73ff8c"/></linearGradient><rect x="39.3" y="299" width="101.5" height="1.6" fill="url(#a44)"/>
<linearGradient id="a45"><stop offset="0.000" stop-color="#62ff9d"/><stop offset="0.172" stop-color="#3cffc3"/><stop offset="0.241" stop-color="#13ffec"/><stop offset="0.266" stop-color="#00f7ff"/><stop offset="0.300" stop-color="#00bcff"/><stop offset="0.315" stop-color="#0089ff"/><stop offset="0.330" stop-color="#0030ff"/><stop offset="0.335" stop-color="#000bff"/><stop offset="0.340" stop-color="#0000e8"/><stop offset="0.350" stop-color="#0000b5"/><stop offset="0.355" stop-color="#0000ab"/><stop offset="0.365" stop-color="#0000b5"/><stop offset="0.369" stop-color="#0000ce"/><stop offset="0.374" stop-color="#0025ff"/><stop offset="0.379" stop-color="#00acff"/><stop offset="0.384" stop-color="#00c7ff"/><stop offset="0.389" stop-color="#00beff"/><stop offset="0.399" stop-color="#007cff"/><stop offset="0.409" stop-color="#0062ff"/><stop offset="0.448" stop-color="#0037ff"/><stop offset="0.483" stop-color="#0031ff"/><stop offset="0.517" stop-color="#004dff"/><stop offset="0.552" stop-color="#0084ff"/><stop offset="0.562" stop-color="#00a8ff"/><stop offset="0.567" stop-color="#00c0ff"/><stop offset="0.571" stop-color="#00caff"/><stop offset="0.576" stop-color="#00bfff"/><stop offset="0.586" stop-color="#0078ff"/><stop offset="0.596" stop-color="#007fff"/><stop offset="0.650" stop-color="#00f8ff"/><stop offset="0.665" stop-color="#0ffff0"/><stop offset="0.719" stop-color="#43ffbc"/><stop offset="0.813" stop-color="#64ff9b"/><stop offset="1.000" stop-color="#76ff89"/></linearGradient><rect x="39.3" y="300" width="101.5" height="1.6" fill="url(#a45)"/>
<linearGradient id="a46"><stop offset="0.000" stop-color="#62ff9d"/><stop offset="0.177" stop-color="#3bffc4"/><stop offset="0.246" stop-color="#12ffed"/><stop offset="0.266" stop-color="#00fbff"/><stop offset="0.300" stop-color="#00c3ff"/><stop offset="0.315" stop-color="#0093ff"/><stop offset="0.330" stop-color="#003dff"/><stop offset="0.340" stop-color="#0000f7"/><stop offset="0.350" stop-color="#0000c7"/><stop offset="0.355" stop-color="#0000be"/><stop offset="0.365" stop-color="#0000ca"/><stop offset="0.369" stop-color="#0000e4"/><stop offset="0.374" stop-color="#0039ff"/><stop offset="0.379" stop-color="#00beff"/><stop offset="0.384" stop-color="#00d9ff"/><stop offset="0.389" stop-color="#00d1ff"/><stop offset="0.399" stop-color="#0096ff"/><stop offset="0.409" stop-color="#007fff"/><stop offset="0.453" stop-color="#005bff"/><stop offset="0.493" stop-color="#0061ff"/><stop offset="0.537" stop-color="#0092ff"/><stop offset="0.557" stop-color="#00b6ff"/><stop offset="0.567" stop-color="#00daff"/><stop offset="0.571" stop-color="#00e3ff"/><stop offset="0.576" stop-color="#00dcff"/><stop offset="0.586" stop-color="#00adff"/><stop offset="0.611" stop-color="#00cfff"/><stop offset="0.640" stop-color="#04fffb"/><stop offset="0.690" stop-color="#3cffc3"/><stop offset="0.764" stop-color="#60ff9f"/><stop offset="0.941" stop-color="#76ff89"/><stop offset="1.000" stop-color="#78ff87"/></linearGradient><rect x="39.3" y="301" width="101.5" height="1.6" fill="url(#a46)"/>
<linearGradient id="a47"><stop offset="0.000" stop-color="#61ff9e"/><stop offset="0.182" stop-color="#3bffc4"/><stop offset="0.251" stop-color="#12ffed"/><stop offset="0.271" stop-color="#00fcff"/><stop offset="0.300" stop-color="#00cfff"/><stop offset="0.315" stop-color="#00a2ff"/><stop offset="0.330" stop-color="#0050ff"/><stop offset="0.340" stop-color="#000fff"/><stop offset="0.345" stop-color="#0000f3"/><stop offset="0.350" stop-color="#0000e1"/><stop offset="0.355" stop-color="#0000d9"/><stop offset="0.365" stop-color="#0000e7"/><stop offset="0.369" stop-color="#0002ff"/><stop offset="0.374" stop-color="#0053ff"/><stop offset="0.379" stop-color="#00d3ff"/><stop offset="0.384" stop-color="#00ecff"/><stop offset="0.389" stop-color="#00e6ff"/><stop offset="0.399" stop-color="#00b2ff"/><stop offset="0.414" stop-color="#009bff"/><stop offset="0.458" stop-color="#0085ff"/><stop offset="0.498" stop-color="#0092ff"/><stop offset="0.552" stop-color="#00d1ff"/><stop offset="0.571" stop-color="#00feff"/><stop offset="0.576" stop-color="#00faff"/><stop offset="0.586" stop-color="#00ddff"/><stop offset="0.616" stop-color="#03fffc"/><stop offset="0.670" stop-color="#3fffc0"/><stop offset="0.744" stop-color="#64ff9b"/><stop offset="0.911" stop-color="#78ff87"/><stop offset="1.000" stop-color="#7aff85"/></linearGradient><rect x="39.3" y="302" width="101.5" height="1.6" fill="url(#a47)"/>
<linearGradient id="a48"><stop offset="0.000" stop-color="#61ff9e"/><stop offset="0.187" stop-color="#3cffc3"/><stop offset="0.256" stop-color="#15ffea"/><stop offset="0.281" stop-color="#00fbff"/><stop offset="0.305" stop-color="#00d2ff"/><stop offset="0.320" stop-color="#00a0ff"/><stop offset="0.345" stop-color="#0017ff"/><stop offset="0.355" stop-color="#0000ff"/><stop offset="0.365" stop-color="#000fff"/><stop offset="0.369" stop-color="#0028ff"/><stop offset="0.374" stop-color="#0073ff"/><stop offset="0.379" stop-color="#00e9ff"/><stop offset="0.384" stop-color="#01fffe"/><stop offset="0.389" stop-color="#00fbff"/><stop offset="0.399" stop-color="#00d1ff"/><stop offset="0.419" stop-color="#00bcff"/><stop offset="0.468" stop-color="#00b3ff"/><stop offset="0.517" stop-color="#00d2ff"/><stop offset="0.557" stop-color="#00ffff"/><stop offset="0.571" stop-color="#1affe5"/><stop offset="0.586" stop-color="#0dfff2"/><stop offset="0.665" stop-color="#51ffae"/><stop offset="0.754" stop-color="#71ff8e"/><stop offset="0.980" stop-color="#7cff83"/><stop offset="1.000" stop-color="#7cff83"/></linearGradient><rect x="39.3" y="303" width="101.5" height="1.6" fill="url(#a48)"/>
<linearGradient id="a49"><stop offset="0.000" stop-color="#62ff9d"/><stop offset="0.197" stop-color="#3dffc2"/><stop offset="0.266" stop-color="#17ffe8"/><stop offset="0.291" stop-color="#00fcff"/><stop offset="0.310" stop-color="#00daff"/><stop offset="0.325" stop-color="#00a5ff"/><stop offset="0.345" stop-color="#0047ff"/><stop offset="0.355" stop-color="#0034ff"/><stop offset="0.365" stop-color="#0041ff"/><stop offset="0.369" stop-color="#0057ff"/><stop offset="0.374" stop-color="#009aff"/><stop offset="0.379" stop-color="#01fffe"/><stop offset="0.384" stop-color="#15ffea"/><stop offset="0.389" stop-color="#11ffee"/><stop offset="0.394" stop-color="#00ffff"/><stop offset="0.404" stop-color="#00e8ff"/><stop offset="0.458" stop-color="#00deff"/><stop offset="0.522" stop-color="#04fffb"/><stop offset="0.576" stop-color="#38ffc7"/><stop offset="0.680" stop-color="#6dff92"/><stop offset="0.828" stop-color="#7fff80"/><stop offset="1.000" stop-color="#7eff81"/></linearGradient><rect x="39.3" y="304" width="101.5" height="1.6" fill="url(#a49)"/>
<linearGradient id="a50"><stop offset="0.000" stop-color="#63ff9c"/><stop offset="0.207" stop-color="#40ffbf"/><stop offset="0.281" stop-color="#18ffe7"/><stop offset="0.305" stop-color="#00fbff"/><stop offset="0.320" stop-color="#00daff"/><stop offset="0.345" stop-color="#0081ff"/><stop offset="0.355" stop-color="#0073ff"/><stop offset="0.365" stop-color="#007dff"/><stop offset="0.369" stop-color="#008fff"/><stop offset="0.374" stop-color="#00c7ff"/><stop offset="0.379" stop-color="#19ffe6"/><stop offset="0.384" stop-color="#29ffd6"/><stop offset="0.389" stop-color="#27ffd8"/><stop offset="0.404" stop-color="#0afff5"/><stop offset="0.463" stop-color="#0cfff3"/><stop offset="0.552" stop-color="#44ffbb"/><stop offset="0.581" stop-color="#5fffa0"/><stop offset="0.606" stop-color="#72ff8d"/><stop offset="0.754" stop-color="#85ff7a"/><stop offset="1.000" stop-color="#7fff80"/></linearGradient><rect x="39.3" y="305" width="101.5" height="1.6" fill="url(#a50)"/>
<linearGradient id="a51"><stop offset="0.000" stop-color="#64ff9b"/><stop offset="0.227" stop-color="#42ffbd"/><stop offset="0.300" stop-color="#19ffe6"/><stop offset="0.320" stop-color="#00fcff"/><stop offset="0.350" stop-color="#00baff"/><stop offset="0.365" stop-color="#00beff"/><stop offset="0.369" stop-color="#00cbff"/><stop offset="0.374" stop-color="#00f6ff"/><stop offset="0.379" stop-color="#31ffce"/><stop offset="0.384" stop-color="#3effc1"/><stop offset="0.409" stop-color="#2bffd4"/><stop offset="0.483" stop-color="#40ffbf"/><stop offset="0.576" stop-color="#75ff8a"/><stop offset="0.586" stop-color="#96ff69"/><stop offset="0.616" stop-color="#9fff60"/><stop offset="0.808" stop-color="#8cff73"/><stop offset="1.000" stop-color="#81ff7e"/></linearGradient><rect x="39.3" y="306" width="101.5" height="1.6" fill="url(#a51)"/>
<linearGradient id="a52"><stop offset="0.000" stop-color="#65ff9a"/><stop offset="0.246" stop-color="#46ffb9"/><stop offset="0.315" stop-color="#25ffda"/><stop offset="0.345" stop-color="#00feff"/><stop offset="0.365" stop-color="#00fcff"/><stop offset="0.369" stop-color="#05fffa"/><stop offset="0.379" stop-color="#4affb5"/><stop offset="0.389" stop-color="#54ffab"/><stop offset="0.414" stop-color="#4effb1"/><stop offset="0.557" stop-color="#8bff74"/><stop offset="0.571" stop-color="#89ff76"/><stop offset="0.576" stop-color="#92ff6d"/><stop offset="0.586" stop-color="#cbff34"/><stop offset="0.606" stop-color="#d5ff2a"/><stop offset="0.665" stop-color="#abff54"/><stop offset="0.808" stop-color="#92ff6d"/><stop offset="1.000" stop-color="#82ff7d"/></linearGradient><rect x="39.3" y="307" width="101.5" height="1.6" fill="url(#a52)"/>
<linearGradient id="a53"><stop offset="0.000" stop-color="#67ff98"/><stop offset="0.286" stop-color="#4bffb4"/><stop offset="0.360" stop-color="#32ffcd"/><stop offset="0.369" stop-color="#39ffc6"/><stop offset="0.379" stop-color="#64ff9b"/><stop offset="0.394" stop-color="#6cff93"/><stop offset="0.552" stop-color="#aeff51"/><stop offset="0.571" stop-color="#a3ff5c"/><stop offset="0.576" stop-color="#aeff51"/><stop offset="0.581" stop-color="#dfff20"/><stop offset="0.586" stop-color="#fff900"/><stop offset="0.596" stop-color="#ffea00"/><stop offset="0.611" stop-color="#fff000"/><stop offset="0.621" stop-color="#fcff03"/><stop offset="0.645" stop-color="#d1ff2e"/><stop offset="0.709" stop-color="#acff53"/><stop offset="0.887" stop-color="#8eff71"/><stop offset="1.000" stop-color="#83ff7c"/></linearGradient><rect x="39.3" y="308" width="101.5" height="1.6" fill="url(#a53)"/>
<linearGradient id="a54"><stop offset="0.000" stop-color="#69ff96"/><stop offset="0.360" stop-color="#62ff9d"/><stop offset="0.369" stop-color="#67ff98"/><stop offset="0.384" stop-color="#83ff7c"/><stop offset="0.517" stop-color="#ceff31"/><stop offset="0.557" stop-color="#ceff31"/><stop offset="0.567" stop-color="#bcff43"/><stop offset="0.571" stop-color="#bbff44"/><stop offset="0.576" stop-color="#caff35"/><stop offset="0.581" stop-color="#ffee00"/><stop offset="0.586" stop-color="#ffbc00"/><stop offset="0.596" stop-color="#ffa500"/><stop offset="0.606" stop-color="#ffa600"/><stop offset="0.621" stop-color="#ffcc00"/><stop offset="0.635" stop-color="#fffb00"/><stop offset="0.665" stop-color="#d6ff29"/><stop offset="0.739" stop-color="#acff53"/><stop offset="0.951" stop-color="#89ff76"/><stop offset="1.000" stop-color="#84ff7b"/></linearGradient><rect x="39.3" y="309" width="101.5" height="1.6" fill="url(#a54)"/>
<linearGradient id="a55"><stop offset="0.000" stop-color="#6bff94"/><stop offset="0.256" stop-color="#6fff90"/><stop offset="0.360" stop-color="#8cff73"/><stop offset="0.493" stop-color="#f0ff0f"/><stop offset="0.547" stop-color="#f8ff07"/><stop offset="0.557" stop-color="#f1ff0e"/><stop offset="0.567" stop-color="#d6ff29"/><stop offset="0.571" stop-color="#d3ff2c"/><stop offset="0.576" stop-color="#e5ff1a"/><stop offset="0.581" stop-color="#ffbc00"/><stop offset="0.586" stop-color="#ff7f00"/><stop offset="0.591" stop-color="#ff6a00"/><stop offset="0.601" stop-color="#ff5f00"/><stop offset="0.611" stop-color="#ff6f00"/><stop offset="0.640" stop-color="#ffe800"/><stop offset="0.650" stop-color="#ffff00"/><stop offset="0.695" stop-color="#ceff31"/><stop offset="0.773" stop-color="#a8ff57"/><stop offset="1.000" stop-color="#85ff7a"/></linearGradient><rect x="39.3" y="310" width="101.5" height="1.6" fill="url(#a55)"/>
<linearGradient id="a56"><stop offset="0.000" stop-color="#6dff92"/><stop offset="0.222" stop-color="#77ff88"/><stop offset="0.315" stop-color="#96ff69"/><stop offset="0.369" stop-color="#bbff44"/><stop offset="0.384" stop-color="#b5ff4a"/><stop offset="0.443" stop-color="#f8ff07"/><stop offset="0.478" stop-color="#ffe900"/><stop offset="0.527" stop-color="#ffda00"/><stop offset="0.552" stop-color="#ffe200"/><stop offset="0.562" stop-color="#fffc00"/><stop offset="0.567" stop-color="#efff10"/><stop offset="0.571" stop-color="#ebff14"/><stop offset="0.576" stop-color="#fffd00"/><stop offset="0.581" stop-color="#ff8f00"/><stop offset="0.586" stop-color="#ff4700"/><stop offset="0.591" stop-color="#ff3000"/><stop offset="0.601" stop-color="#ff2200"/><stop offset="0.611" stop-color="#ff3700"/><stop offset="0.635" stop-color="#ffb800"/><stop offset="0.650" stop-color="#ffe800"/><stop offset="0.665" stop-color="#fcff03"/><stop offset="0.719" stop-color="#c7ff38"/><stop offset="0.813" stop-color="#a2ff5d"/><stop offset="1.000" stop-color="#85ff7a"/></linearGradient><rect x="39.3" y="311" width="101.5" height="1.6" fill="url(#a56)"/>
<linearGradient id="a57"><stop offset="0.000" stop-color="#70ff8f"/><stop offset="0.207" stop-color="#7eff81"/><stop offset="0.291" stop-color="#9fff60"/><stop offset="0.369" stop-color="#e5ff1a"/><stop offset="0.379" stop-color="#d0ff2f"/><stop offset="0.389" stop-color="#d3ff2c"/><stop offset="0.409" stop-color="#f9ff06"/><stop offset="0.443" stop-color="#ffdb00"/><stop offset="0.493" stop-color="#ffb200"/><stop offset="0.537" stop-color="#ffb300"/><stop offset="0.552" stop-color="#ffbd00"/><stop offset="0.557" stop-color="#ffc800"/><stop offset="0.567" stop-color="#fff500"/><stop offset="0.571" stop-color="#fffb00"/><stop offset="0.576" stop-color="#ffe300"/><stop offset="0.581" stop-color="#ff6700"/><stop offset="0.586" stop-color="#ff1900"/><stop offset="0.591" stop-color="#fe0000"/><stop offset="0.601" stop-color="#f00000"/><stop offset="0.606" stop-color="#f80000"/><stop offset="0.611" stop-color="#ff0b00"/><stop offset="0.635" stop-color="#ff9d00"/><stop offset="0.650" stop-color="#ffd500"/><stop offset="0.675" stop-color="#fcff03"/><stop offset="0.729" stop-color="#c7ff38"/><stop offset="0.828" stop-color="#a1ff5e"/><stop offset="1.000" stop-color="#85ff7a"/></linearGradient><rect x="39.3" y="312" width="101.5" height="1.6" fill="url(#a57)"/>
<linearGradient id="a58"><stop offset="0.000" stop-color="#72ff8d"/><stop offset="0.192" stop-color="#84ff7b"/><stop offset="0.271" stop-color="#a5ff5a"/><stop offset="0.330" stop-color="#dfff20"/><stop offset="0.355" stop-color="#fffe00"/><stop offset="0.369" stop-color="#ffef00"/><stop offset="0.374" stop-color="#fdff02"/><stop offset="0.379" stop-color="#eaff15"/><stop offset="0.384" stop-color="#e4ff1b"/><stop offset="0.394" stop-color="#fcff03"/><stop offset="0.419" stop-color="#ffd200"/><stop offset="0.473" stop-color="#ff9000"/><stop offset="0.512" stop-color="#ff8100"/><stop offset="0.547" stop-color="#ff9200"/><stop offset="0.557" stop-color="#ffa600"/><stop offset="0.567" stop-color="#ffdc00"/><stop offset="0.571" stop-color="#ffe300"/><stop offset="0.576" stop-color="#ffc900"/><stop offset="0.581" stop-color="#ff4600"/><stop offset="0.586" stop-color="#f20000"/><stop offset="0.591" stop-color="#d80000"/><stop offset="0.601" stop-color="#cb0000"/><stop offset="0.606" stop-color="#d50000"/><stop offset="0.616" stop-color="#ff0500"/><stop offset="0.635" stop-color="#ff8800"/><stop offset="0.650" stop-color="#ffc400"/><stop offset="0.680" stop-color="#fffe00"/><stop offset="0.734" stop-color="#c9ff36"/><stop offset="0.828" stop-color="#a2ff5d"/><stop offset="1.000" stop-color="#85ff7a"/></linearGradient><rect x="39.3" y="313" width="101.5" height="1.6" fill="url(#a58)"/>
<linearGradient id="a59"><stop offset="0.000" stop-color="#75ff8a"/><stop offset="0.187" stop-color="#8bff74"/><stop offset="0.261" stop-color="#adff52"/><stop offset="0.315" stop-color="#e8ff17"/><stop offset="0.330" stop-color="#fffe00"/><stop offset="0.365" stop-color="#ffc400"/><stop offset="0.369" stop-color="#ffc300"/><stop offset="0.379" stop-color="#fffb00"/><stop offset="0.384" stop-color="#f9ff06"/><stop offset="0.389" stop-color="#fffc00"/><stop offset="0.404" stop-color="#ffc600"/><stop offset="0.458" stop-color="#ff7200"/><stop offset="0.498" stop-color="#ff5700"/><stop offset="0.532" stop-color="#ff6100"/><stop offset="0.552" stop-color="#ff7700"/><stop offset="0.557" stop-color="#ff8600"/><stop offset="0.567" stop-color="#ffc300"/><stop offset="0.571" stop-color="#ffcc00"/><stop offset="0.576" stop-color="#ffb000"/><stop offset="0.581" stop-color="#ff2a00"/><stop offset="0.586" stop-color="#d40000"/><stop offset="0.591" stop-color="#ba0000"/><stop offset="0.601" stop-color="#b00000"/><stop offset="0.606" stop-color="#bb0000"/><stop offset="0.616" stop-color="#ee0000"/><stop offset="0.621" stop-color="#ff1200"/><stop offset="0.635" stop-color="#ff7800"/><stop offset="0.650" stop-color="#ffb800"/><stop offset="0.675" stop-color="#ffef00"/><stop offset="0.690" stop-color="#f9ff06"/><stop offset="0.739" stop-color="#c8ff37"/><stop offset="0.837" stop-color="#a0ff5f"/><stop offset="1.000" stop-color="#84ff7b"/></linearGradient><rect x="39.3" y="314" width="101.5" height="1.6" fill="url(#a59)"/>
<linearGradient id="a60"><stop offset="0.000" stop-color="#78ff87"/><stop offset="0.177" stop-color="#90ff6f"/><stop offset="0.251" stop-color="#b3ff4c"/><stop offset="0.300" stop-color="#e9ff16"/><stop offset="0.315" stop-color="#fffb00"/><stop offset="0.360" stop-color="#ff9900"/><stop offset="0.369" stop-color="#ff9400"/><stop offset="0.379" stop-color="#ffe400"/><stop offset="0.384" stop-color="#fff100"/><stop offset="0.389" stop-color="#ffe700"/><stop offset="0.399" stop-color="#ffb500"/><stop offset="0.424" stop-color="#ff7f00"/><stop offset="0.468" stop-color="#ff3f00"/><stop offset="0.502" stop-color="#ff3000"/><stop offset="0.537" stop-color="#ff4500"/><stop offset="0.552" stop-color="#ff5a00"/><stop offset="0.557" stop-color="#ff6a00"/><stop offset="0.567" stop-color="#ffad00"/><stop offset="0.571" stop-color="#ffb700"/><stop offset="0.576" stop-color="#ff9b00"/><stop offset="0.581" stop-color="#ff1400"/><stop offset="0.586" stop-color="#bd0000"/><stop offset="0.591" stop-color="#a50000"/><stop offset="0.601" stop-color="#9d0000"/><stop offset="0.606" stop-color="#a90000"/><stop offset="0.616" stop-color="#de0000"/><stop offset="0.621" stop-color="#ff0400"/><stop offset="0.635" stop-color="#ff6d00"/><stop offset="0.650" stop-color="#ffaf00"/><stop offset="0.675" stop-color="#ffe900"/><stop offset="0.690" stop-color="#fdff02"/><stop offset="0.739" stop-color="#caff35"/><stop offset="0.833" stop-color="#a1ff5e"/><stop offset="1.000" stop-color="#84ff7b"/></linearGradient><rect x="39.3" y="315" width="101.5" height="1.6" fill="url(#a60)"/>
<linearGradient id="a61"><stop offset="0.000" stop-color="#7aff85"/><stop offset="0.172" stop-color="#95ff6a"/><stop offset="0.246" stop-color="#bbff44"/><stop offset="0.296" stop-color="#f5ff0a"/><stop offset="0.305" stop-color="#fff700"/><stop offset="0.330" stop-color="#ffb400"/><stop offset="0.350" stop-color="#ff7400"/><stop offset="0.365" stop-color="#ff5d00"/><stop offset="0.369" stop-color="#ff6100"/><stop offset="0.374" stop-color="#ff9100"/><stop offset="0.379" stop-color="#ffcf00"/><stop offset="0.384" stop-color="#ffdf00"/><stop offset="0.389" stop-color="#ffd400"/><stop offset="0.399" stop-color="#ff9a00"/><stop offset="0.414" stop-color="#ff7200"/><stop offset="0.458" stop-color="#ff2700"/><stop offset="0.493" stop-color="#ff1000"/><stop offset="0.527" stop-color="#ff1f00"/><stop offset="0.552" stop-color="#ff4200"/><stop offset="0.557" stop-color="#ff5500"/><stop offset="0.567" stop-color="#ff9a00"/><stop offset="0.571" stop-color="#ffa600"/><stop offset="0.576" stop-color="#ff8a00"/><stop offset="0.581" stop-color="#ff0400"/><stop offset="0.586" stop-color="#ae0000"/><stop offset="0.591" stop-color="#960000"/><stop offset="0.601" stop-color="#910000"/><stop offset="0.606" stop-color="#9d0000"/><stop offset="0.616" stop-color="#d40000"/><stop offset="0.621" stop-color="#fa0000"/><stop offset="0.640" stop-color="#ff8100"/><stop offset="0.655" stop-color="#ffba00"/><stop offset="0.685" stop-color="#fff800"/><stop offset="0.700" stop-color="#f1ff0e"/><stop offset="0.754" stop-color="#c0ff3f"/><stop offset="0.862" stop-color="#99ff66"/><stop offset="1.000" stop-color="#83ff7c"/></linearGradient><rect x="39.3" y="316" width="101.5" height="1.6" fill="url(#a61)"/>
<linearGradient id="a62"><stop offset="0.000" stop-color="#7dff82"/><stop offset="0.167" stop-color="#99ff66"/><stop offset="0.241" stop-color="#c0ff3f"/><stop offset="0.286" stop-color="#f4ff0b"/><stop offset="0.296" stop-color="#fff900"/><stop offset="0.315" stop-color="#ffc800"/><stop offset="0.350" stop-color="#ff3900"/><stop offset="0.365" stop-color="#ff2500"/><stop offset="0.369" stop-color="#ff2f00"/><stop offset="0.374" stop-color="#ff6a00"/><stop offset="0.379" stop-color="#ffbd00"/><stop offset="0.384" stop-color="#ffd100"/><stop offset="0.389" stop-color="#ffc400"/><stop offset="0.399" stop-color="#ff8300"/><stop offset="0.409" stop-color="#ff6300"/><stop offset="0.448" stop-color="#ff1900"/><stop offset="0.473" stop-color="#fe0000"/><stop offset="0.507" stop-color="#fb0000"/><stop offset="0.532" stop-color="#ff1200"/><stop offset="0.552" stop-color="#ff3300"/><stop offset="0.557" stop-color="#ff4600"/><stop offset="0.567" stop-color="#ff8e00"/><stop offset="0.571" stop-color="#ff9a00"/><stop offset="0.576" stop-color="#ff7f00"/><stop offset="0.581" stop-color="#f90000"/><stop offset="0.586" stop-color="#a50000"/><stop offset="0.591" stop-color="#8f0000"/><stop offset="0.601" stop-color="#8b0000"/><stop offset="0.606" stop-color="#980000"/><stop offset="0.616" stop-color="#d10000"/><stop offset="0.621" stop-color="#f60000"/><stop offset="0.631" stop-color="#ff4300"/><stop offset="0.645" stop-color="#ff9600"/><stop offset="0.665" stop-color="#ffd200"/><stop offset="0.690" stop-color="#feff01"/><stop offset="0.739" stop-color="#c8ff37"/><stop offset="0.828" stop-color="#a0ff5f"/><stop offset="1.000" stop-color="#82ff7d"/></linearGradient><rect x="39.3" y="317" width="101.5" height="1.6" fill="url(#a62)"/>
<linearGradient id="a63"><stop offset="0.000" stop-color="#7fff80"/><stop offset="0.167" stop-color="#9fff60"/><stop offset="0.236" stop-color="#c4ff3b"/><stop offset="0.286" stop-color="#fffd00"/><stop offset="0.310" stop-color="#ffc500"/><stop offset="0.325" stop-color="#ff8500"/><stop offset="0.345" stop-color="#ff1700"/><stop offset="0.350" stop-color="#ff0400"/><stop offset="0.360" stop-color="#f10000"/><stop offset="0.365" stop-color="#f20000"/><stop offset="0.369" stop-color="#ff0200"/><stop offset="0.374" stop-color="#ff4700"/><stop offset="0.379" stop-color="#ffae00"/><stop offset="0.384" stop-color="#ffc500"/><stop offset="0.389" stop-color="#ffb800"/><stop offset="0.399" stop-color="#ff7200"/><stop offset="0.409" stop-color="#ff5000"/><stop offset="0.448" stop-color="#ff0700"/><stop offset="0.468" stop-color="#f10000"/><stop offset="0.502" stop-color="#ec0000"/><stop offset="0.527" stop-color="#ff0200"/><stop offset="0.552" stop-color="#ff2c00"/><stop offset="0.557" stop-color="#ff4000"/><stop offset="0.567" stop-color="#ff8800"/><stop offset="0.571" stop-color="#ff9500"/><stop offset="0.576" stop-color="#ff7c00"/><stop offset="0.581" stop-color="#f90000"/><stop offset="0.586" stop-color="#a80000"/><stop offset="0.591" stop-color="#920000"/><stop offset="0.601" stop-color="#910000"/><stop offset="0.606" stop-color="#9e0000"/><stop offset="0.616" stop-color="#d60000"/><stop offset="0.621" stop-color="#fc0000"/><stop offset="0.635" stop-color="#ff6700"/><stop offset="0.650" stop-color="#ffac00"/><stop offset="0.675" stop-color="#ffe900"/><stop offset="0.690" stop-color="#fbff04"/><stop offset="0.739" stop-color="#c5ff3a"/><stop offset="0.828" stop-color="#9dff62"/><stop offset="1.000" stop-color="#80ff7f"/></linearGradient><rect x="39.3" y="318" width="101.5" height="1.6" fill="url(#a63)"/>
<linearGradient id="a64"><stop offset="0.000" stop-color="#81ff7e"/><stop offset="0.167" stop-color="#a3ff5c"/><stop offset="0.236" stop-color="#cbff34"/><stop offset="0.281" stop-color="#fffd00"/><stop offset="0.305" stop-color="#ffc700"/><stop offset="0.320" stop-color="#ff8b00"/><stop offset="0.340" stop-color="#ff0d00"/><stop offset="0.345" stop-color="#ef0000"/><stop offset="0.355" stop-color="#cd0000"/><stop offset="0.365" stop-color="#ce0000"/><stop offset="0.369" stop-color="#e00000"/><stop offset="0.374" stop-color="#ff2e00"/><stop offset="0.379" stop-color="#ffa500"/><stop offset="0.384" stop-color="#ffbd00"/><stop offset="0.389" stop-color="#ffb000"/><stop offset="0.399" stop-color="#ff6700"/><stop offset="0.409" stop-color="#ff4500"/><stop offset="0.443" stop-color="#ff0500"/><stop offset="0.483" stop-color="#e60000"/><stop offset="0.517" stop-color="#f50000"/><stop offset="0.532" stop-color="#ff0800"/><stop offset="0.552" stop-color="#ff2e00"/><stop offset="0.557" stop-color="#ff4200"/><stop offset="0.567" stop-color="#ff8a00"/><stop offset="0.571" stop-color="#ff9700"/><stop offset="0.576" stop-color="#ff7f00"/><stop offset="0.581" stop-color="#ff0500"/><stop offset="0.586" stop-color="#b70000"/><stop offset="0.591" stop-color="#a40000"/><stop offset="0.601" stop-color="#a50000"/><stop offset="0.611" stop-color="#ca0000"/><stop offset="0.616" stop-color="#e90000"/><stop offset="0.621" stop-color="#ff0d00"/><stop offset="0.635" stop-color="#ff7200"/><stop offset="0.650" stop-color="#ffb400"/><stop offset="0.675" stop-color="#ffef00"/><stop offset="0.685" stop-color="#fdff02"/><stop offset="0.729" stop-color="#c9ff36"/><stop offset="0.808" stop-color="#a0ff5f"/><stop offset="0.995" stop-color="#7fff80"/><stop offset="1.000" stop-color="#7fff80"/></linearGradient><rect x="39.3" y="319" width="101.5" height="1.6" fill="url(#a64)"/>
<linearGradient id="a65"><stop offset="0.000" stop-color="#83ff7c"/><stop offset="0.167" stop-color="#a7ff58"/><stop offset="0.236" stop-color="#cfff30"/><stop offset="0.276" stop-color="#ffff00"/><stop offset="0.300" stop-color="#ffce00"/><stop offset="0.315" stop-color="#ff9900"/><stop offset="0.330" stop-color="#ff3f00"/><stop offset="0.340" stop-color="#f60000"/><stop offset="0.350" stop-color="#c20000"/><stop offset="0.360" stop-color="#b20000"/><stop offset="0.365" stop-color="#b80000"/><stop offset="0.369" stop-color="#ce0000"/><stop offset="0.374" stop-color="#ff2100"/><stop offset="0.379" stop-color="#ffa100"/><stop offset="0.384" stop-color="#ffbb00"/><stop offset="0.389" stop-color="#ffae00"/><stop offset="0.399" stop-color="#ff6400"/><stop offset="0.409" stop-color="#ff4200"/><stop offset="0.443" stop-color="#ff0500"/><stop offset="0.483" stop-color="#ea0000"/><stop offset="0.522" stop-color="#ff0400"/><stop offset="0.552" stop-color="#ff3800"/><stop offset="0.557" stop-color="#ff4c00"/><stop offset="0.567" stop-color="#ff9200"/><stop offset="0.571" stop-color="#ff9f00"/><stop offset="0.576" stop-color="#ff8800"/><stop offset="0.581" stop-color="#ff1c00"/><stop offset="0.586" stop-color="#d50000"/><stop offset="0.591" stop-color="#c60000"/><stop offset="0.601" stop-color="#ca0000"/><stop offset="0.611" stop-color="#ed0000"/><stop offset="0.616" stop-color="#ff0a00"/><stop offset="0.635" stop-color="#ff8400"/><stop offset="0.650" stop-color="#ffc000"/><stop offset="0.675" stop-color="#fff800"/><stop offset="0.695" stop-color="#e7ff18"/><stop offset="0.749" stop-color="#b5ff4a"/><stop offset="0.852" stop-color="#91ff6e"/><stop offset="1.000" stop-color="#7dff82"/></linearGradient><rect x="39.3" y="320" width="101.5" height="1.6" fill="url(#a65)"/>
<linearGradient id="a66"><stop offset="0.000" stop-color="#85ff7a"/><stop offset="0.167" stop-color="#aaff55"/><stop offset="0.236" stop-color="#d2ff2d"/><stop offset="0.276" stop-color="#fffb00"/><stop offset="0.300" stop-color="#ffca00"/><stop offset="0.315" stop-color="#ff9500"/><stop offset="0.330" stop-color="#ff3800"/><stop offset="0.335" stop-color="#ff1300"/><stop offset="0.340" stop-color="#ee0000"/><stop offset="0.350" stop-color="#b80000"/><stop offset="0.355" stop-color="#ac0000"/><stop offset="0.365" stop-color="#b10000"/><stop offset="0.369" stop-color="#c90000"/><stop offset="0.374" stop-color="#ff1e00"/><stop offset="0.379" stop-color="#ffa300"/><stop offset="0.384" stop-color="#ffbd00"/><stop offset="0.389" stop-color="#ffb100"/><stop offset="0.399" stop-color="#ff6800"/><stop offset="0.409" stop-color="#ff4800"/><stop offset="0.448" stop-color="#ff0900"/><stop offset="0.468" stop-color="#fa0000"/><stop offset="0.507" stop-color="#ff0500"/><stop offset="0.542" stop-color="#ff3500"/><stop offset="0.552" stop-color="#ff4b00"/><stop offset="0.557" stop-color="#ff5d00"/><stop offset="0.567" stop-color="#ff9e00"/><stop offset="0.571" stop-color="#ffab00"/><stop offset="0.576" stop-color="#ff9700"/><stop offset="0.581" stop-color="#ff3e00"/><stop offset="0.586" stop-color="#ff0200"/><stop offset="0.591" stop-color="#f60000"/><stop offset="0.601" stop-color="#fe0000"/><stop offset="0.611" stop-color="#ff1f00"/><stop offset="0.635" stop-color="#ff9d00"/><stop offset="0.650" stop-color="#ffd100"/><stop offset="0.670" stop-color="#fffc00"/><stop offset="0.724" stop-color="#c0ff3f"/><stop offset="0.803" stop-color="#99ff66"/><stop offset="0.990" stop-color="#7cff83"/><stop offset="1.000" stop-color="#7bff84"/></linearGradient><rect x="39.3" y="321" width="101.5" height="1.6" fill="url(#a66)"/>
<linearGradient id="a67"><stop offset="0.000" stop-color="#87ff78"/><stop offset="0.167" stop-color="#abff54"/><stop offset="0.236" stop-color="#d4ff2b"/><stop offset="0.276" stop-color="#fffb00"/><stop offset="0.300" stop-color="#ffca00"/><stop offset="0.315" stop-color="#ff9600"/><stop offset="0.330" stop-color="#ff3900"/><stop offset="0.335" stop-color="#ff1400"/><stop offset="0.340" stop-color="#ef0000"/><stop offset="0.350" stop-color="#ba0000"/><stop offset="0.355" stop-color="#af0000"/><stop offset="0.365" stop-color="#b50000"/><stop offset="0.369" stop-color="#ce0000"/><stop offset="0.374" stop-color="#ff2400"/><stop offset="0.379" stop-color="#ffab00"/><stop offset="0.384" stop-color="#ffc600"/><stop offset="0.389" stop-color="#ffba00"/><stop offset="0.399" stop-color="#ff7300"/><stop offset="0.409" stop-color="#ff5500"/><stop offset="0.448" stop-color="#ff1d00"/><stop offset="0.483" stop-color="#ff1000"/><stop offset="0.517" stop-color="#ff2900"/><stop offset="0.552" stop-color="#ff6400"/><stop offset="0.557" stop-color="#ff7600"/><stop offset="0.567" stop-color="#ffb000"/><stop offset="0.571" stop-color="#ffbc00"/><stop offset="0.576" stop-color="#ffab00"/><stop offset="0.581" stop-color="#ff6800"/><stop offset="0.586" stop-color="#ff3600"/><stop offset="0.591" stop-color="#ff3000"/><stop offset="0.606" stop-color="#ff4800"/><stop offset="0.640" stop-color="#ffcb00"/><stop offset="0.660" stop-color="#fffa00"/><stop offset="0.714" stop-color="#bfff40"/><stop offset="0.788" stop-color="#98ff67"/><stop offset="0.966" stop-color="#7bff84"/><stop offset="1.000" stop-color="#79ff86"/></linearGradient><rect x="39.3" y="322" width="101.5" height="1.6" fill="url(#a67)"/>
<linearGradient id="a68"><stop offset="0.000" stop-color="#88ff77"/><stop offset="0.172" stop-color="#aeff51"/><stop offset="0.241" stop-color="#d8ff27"/><stop offset="0.276" stop-color="#fffc00"/><stop offset="0.300" stop-color="#ffcd00"/><stop offset="0.315" stop-color="#ff9a00"/><stop offset="0.330" stop-color="#ff3f00"/><stop offset="0.335" stop-color="#ff1a00"/><stop offset="0.340" stop-color="#f60000"/><stop offset="0.350" stop-color="#c30000"/><stop offset="0.355" stop-color="#b80000"/><stop offset="0.365" stop-color="#c00000"/><stop offset="0.369" stop-color="#d90000"/><stop offset="0.374" stop-color="#ff3000"/><stop offset="0.379" stop-color="#ffb700"/><stop offset="0.384" stop-color="#ffd300"/><stop offset="0.389" stop-color="#ffc800"/><stop offset="0.399" stop-color="#ff8500"/><stop offset="0.409" stop-color="#ff6900"/><stop offset="0.448" stop-color="#ff3800"/><stop offset="0.483" stop-color="#ff3000"/><stop offset="0.517" stop-color="#ff4b00"/><stop offset="0.552" stop-color="#ff8300"/><stop offset="0.562" stop-color="#ffab00"/><stop offset="0.567" stop-color="#ffc500"/><stop offset="0.571" stop-color="#ffd000"/><stop offset="0.576" stop-color="#ffc300"/><stop offset="0.586" stop-color="#ff6d00"/><stop offset="0.596" stop-color="#ff7200"/><stop offset="0.616" stop-color="#ffa000"/><stop offset="0.645" stop-color="#fff200"/><stop offset="0.655" stop-color="#f9ff06"/><stop offset="0.700" stop-color="#c0ff3f"/><stop offset="0.768" stop-color="#98ff67"/><stop offset="0.926" stop-color="#7cff83"/><stop offset="1.000" stop-color="#77ff88"/></linearGradient><rect x="39.3" y="323" width="101.5" height="1.6" fill="url(#a68)"/>
<linearGradient id="a69"><stop offset="0.000" stop-color="#89ff76"/><stop offset="0.172" stop-color="#aeff51"/><stop offset="0.241" stop-color="#d6ff29"/><stop offset="0.276" stop-color="#feff01"/><stop offset="0.300" stop-color="#ffd300"/><stop offset="0.315" stop-color="#ffa100"/><stop offset="0.330" stop-color="#ff4900"/><stop offset="0.340" stop-color="#ff0300"/><stop offset="0.350" stop-color="#d00000"/><stop offset="0.355" stop-color="#c70000"/><stop offset="0.365" stop-color="#d10000"/><stop offset="0.369" stop-color="#eb0000"/><stop offset="0.374" stop-color="#ff4200"/><stop offset="0.379" stop-color="#ffc800"/><stop offset="0.384" stop-color="#ffe300"/><stop offset="0.389" stop-color="#ffda00"/><stop offset="0.399" stop-color="#ff9b00"/><stop offset="0.409" stop-color="#ff8200"/><stop offset="0.448" stop-color="#ff5b00"/><stop offset="0.483" stop-color="#ff5600"/><stop offset="0.522" stop-color="#ff7800"/><stop offset="0.552" stop-color="#ffa600"/><stop offset="0.562" stop-color="#ffc700"/><stop offset="0.567" stop-color="#ffdd00"/><stop offset="0.571" stop-color="#ffe600"/><stop offset="0.576" stop-color="#ffdd00"/><stop offset="0.586" stop-color="#ffa100"/><stop offset="0.601" stop-color="#ffb200"/><stop offset="0.635" stop-color="#fffb00"/><stop offset="0.690" stop-color="#bbff44"/><stop offset="0.759" stop-color="#93ff6c"/><stop offset="0.916" stop-color="#79ff86"/><stop offset="1.000" stop-color="#75ff8a"/></linearGradient><rect x="39.3" y="324" width="101.5" height="1.6" fill="url(#a69)"/>
<linearGradient id="a70"><stop offset="0.000" stop-color="#89ff76"/><stop offset="0.177" stop-color="#afff50"/><stop offset="0.246" stop-color="#d7ff28"/><stop offset="0.281" stop-color="#ffff00"/><stop offset="0.305" stop-color="#ffd000"/><stop offset="0.320" stop-color="#ff9500"/><stop offset="0.340" stop-color="#ff1500"/><stop offset="0.345" stop-color="#f80000"/><stop offset="0.350" stop-color="#e50000"/><stop offset="0.355" stop-color="#dc0000"/><stop offset="0.365" stop-color="#e90000"/><stop offset="0.369" stop-color="#ff0400"/><stop offset="0.374" stop-color="#ff5800"/><stop offset="0.379" stop-color="#ffda00"/><stop offset="0.384" stop-color="#fff400"/><stop offset="0.389" stop-color="#ffed00"/><stop offset="0.399" stop-color="#ffb500"/><stop offset="0.409" stop-color="#ffa000"/><stop offset="0.453" stop-color="#ff8000"/><stop offset="0.493" stop-color="#ff8700"/><stop offset="0.542" stop-color="#ffbc00"/><stop offset="0.557" stop-color="#ffd600"/><stop offset="0.567" stop-color="#fff700"/><stop offset="0.571" stop-color="#ffff00"/><stop offset="0.576" stop-color="#fff900"/><stop offset="0.586" stop-color="#ffd200"/><stop offset="0.621" stop-color="#fcff03"/><stop offset="0.670" stop-color="#bcff43"/><stop offset="0.739" stop-color="#91ff6e"/><stop offset="0.882" stop-color="#78ff87"/><stop offset="1.000" stop-color="#73ff8c"/></linearGradient><rect x="39.3" y="325" width="101.5" height="1.6" fill="url(#a70)"/>
<linearGradient id="a71"><stop offset="0.000" stop-color="#89ff76"/><stop offset="0.182" stop-color="#aeff51"/><stop offset="0.251" stop-color="#d6ff29"/><stop offset="0.291" stop-color="#fffa00"/><stop offset="0.310" stop-color="#ffcf00"/><stop offset="0.325" stop-color="#ff8c00"/><stop offset="0.345" stop-color="#ff1600"/><stop offset="0.350" stop-color="#ff0400"/><stop offset="0.360" stop-color="#ff0000"/><stop offset="0.365" stop-color="#ff0b00"/><stop offset="0.369" stop-color="#ff2500"/><stop offset="0.374" stop-color="#ff7400"/><stop offset="0.379" stop-color="#ffef00"/><stop offset="0.384" stop-color="#f7ff08"/><stop offset="0.389" stop-color="#fdff02"/><stop offset="0.399" stop-color="#ffd200"/><stop offset="0.414" stop-color="#ffbc00"/><stop offset="0.458" stop-color="#ffa900"/><stop offset="0.502" stop-color="#ffbb00"/><stop offset="0.557" stop-color="#fff900"/><stop offset="0.571" stop-color="#e6ff19"/><stop offset="0.581" stop-color="#f4ff0b"/><stop offset="0.586" stop-color="#fffe00"/><stop offset="0.670" stop-color="#a8ff57"/><stop offset="0.749" stop-color="#84ff7b"/><stop offset="0.936" stop-color="#72ff8d"/><stop offset="1.000" stop-color="#71ff8e"/></linearGradient><rect x="39.3" y="326" width="101.5" height="1.6" fill="url(#a71)"/>
<linearGradient id="a72"><stop offset="0.000" stop-color="#89ff76"/><stop offset="0.192" stop-color="#afff50"/><stop offset="0.261" stop-color="#d7ff28"/><stop offset="0.296" stop-color="#feff01"/><stop offset="0.310" stop-color="#ffe100"/><stop offset="0.325" stop-color="#ffa700"/><stop offset="0.345" stop-color="#ff3e00"/><stop offset="0.355" stop-color="#ff2900"/><stop offset="0.365" stop-color="#ff3700"/><stop offset="0.369" stop-color="#ff4e00"/><stop offset="0.374" stop-color="#ff9600"/><stop offset="0.379" stop-color="#faff05"/><stop offset="0.384" stop-color="#e5ff1a"/><stop offset="0.389" stop-color="#e9ff16"/><stop offset="0.394" stop-color="#fdff02"/><stop offset="0.404" stop-color="#ffe600"/><stop offset="0.453" stop-color="#ffd400"/><stop offset="0.502" stop-color="#ffe700"/><stop offset="0.532" stop-color="#fdff02"/><stop offset="0.571" stop-color="#cbff34"/><stop offset="0.591" stop-color="#d2ff2d"/><stop offset="0.670" stop-color="#94ff6b"/><stop offset="0.768" stop-color="#77ff88"/><stop offset="1.000" stop-color="#6fff90"/></linearGradient><rect x="39.3" y="327" width="101.5" height="1.6" fill="url(#a72)"/>
<linearGradient id="a73"><stop offset="0.000" stop-color="#89ff76"/><stop offset="0.202" stop-color="#adff52"/><stop offset="0.271" stop-color="#d4ff2b"/><stop offset="0.305" stop-color="#fdff02"/><stop offset="0.320" stop-color="#ffda00"/><stop offset="0.345" stop-color="#ff7200"/><stop offset="0.355" stop-color="#ff6100"/><stop offset="0.365" stop-color="#ff6d00"/><stop offset="0.369" stop-color="#ff8100"/><stop offset="0.374" stop-color="#ffbe00"/><stop offset="0.379" stop-color="#e4ff1b"/><stop offset="0.384" stop-color="#d2ff2d"/><stop offset="0.389" stop-color="#d5ff2a"/><stop offset="0.399" stop-color="#f2ff0d"/><stop offset="0.429" stop-color="#fffe00"/><stop offset="0.483" stop-color="#f7ff08"/><stop offset="0.562" stop-color="#baff45"/><stop offset="0.670" stop-color="#80ff7f"/><stop offset="0.813" stop-color="#6cff93"/><stop offset="1.000" stop-color="#6dff92"/></linearGradient><rect x="39.3" y="328" width="101.5" height="1.6" fill="url(#a73)"/>
<linearGradient id="a74"><stop offset="0.000" stop-color="#88ff77"/><stop offset="0.212" stop-color="#aaff55"/><stop offset="0.286" stop-color="#d2ff2d"/><stop offset="0.320" stop-color="#fffa00"/><stop offset="0.345" stop-color="#ffaf00"/><stop offset="0.355" stop-color="#ffa300"/><stop offset="0.365" stop-color="#ffaa00"/><stop offset="0.369" stop-color="#ffb900"/><stop offset="0.374" stop-color="#ffeb00"/><stop offset="0.379" stop-color="#ceff31"/><stop offset="0.384" stop-color="#bfff40"/><stop offset="0.394" stop-color="#cbff34"/><stop offset="0.409" stop-color="#daff25"/><stop offset="0.473" stop-color="#d2ff2d"/><stop offset="0.581" stop-color="#8bff74"/><stop offset="0.616" stop-color="#77ff88"/><stop offset="0.773" stop-color="#66ff99"/><stop offset="1.000" stop-color="#6cff93"/></linearGradient><rect x="39.3" y="329" width="101.5" height="1.6" fill="url(#a74)"/>
<linearGradient id="a75"><stop offset="0.000" stop-color="#87ff78"/><stop offset="0.227" stop-color="#a7ff58"/><stop offset="0.300" stop-color="#ccff33"/><stop offset="0.325" stop-color="#ecff13"/><stop offset="0.335" stop-color="#fffe00"/><stop offset="0.355" stop-color="#ffe500"/><stop offset="0.365" stop-color="#ffe900"/><stop offset="0.369" stop-color="#fff300"/><stop offset="0.374" stop-color="#e6ff19"/><stop offset="0.379" stop-color="#b7ff48"/><stop offset="0.384" stop-color="#acff53"/><stop offset="0.409" stop-color="#baff45"/><stop offset="0.488" stop-color="#a3ff5c"/><stop offset="0.576" stop-color="#75ff8a"/><stop offset="0.586" stop-color="#5affa5"/><stop offset="0.635" stop-color="#55ffaa"/><stop offset="1.000" stop-color="#6aff95"/></linearGradient><rect x="39.3" y="330" width="101.5" height="1.6" fill="url(#a75)"/>
<linearGradient id="a76"><stop offset="0.000" stop-color="#85ff7a"/><stop offset="0.251" stop-color="#a3ff5c"/><stop offset="0.320" stop-color="#c3ff3c"/><stop offset="0.355" stop-color="#dfff20"/><stop offset="0.369" stop-color="#d7ff28"/><stop offset="0.379" stop-color="#9fff60"/><stop offset="0.389" stop-color="#96ff69"/><stop offset="0.419" stop-color="#99ff66"/><stop offset="0.562" stop-color="#61ff9e"/><stop offset="0.576" stop-color="#5affa5"/><stop offset="0.586" stop-color="#2effd1"/><stop offset="0.611" stop-color="#2affd5"/><stop offset="0.700" stop-color="#4cffb3"/><stop offset="1.000" stop-color="#69ff96"/></linearGradient><rect x="39.3" y="331" width="101.5" height="1.6" fill="url(#a76)"/>
<linearGradient id="a77"><stop offset="0.000" stop-color="#83ff7c"/><stop offset="0.296" stop-color="#9fff60"/><stop offset="0.365" stop-color="#adff52"/><stop offset="0.369" stop-color="#a9ff56"/><stop offset="0.379" stop-color="#86ff79"/><stop offset="0.552" stop-color="#41ffbe"/><stop offset="0.571" stop-color="#49ffb6"/><stop offset="0.576" stop-color="#3fffc0"/><stop offset="0.586" stop-color="#00fdff"/><stop offset="0.601" stop-color="#00f4ff"/><stop offset="0.621" stop-color="#06fff9"/><stop offset="0.660" stop-color="#2bffd4"/><stop offset="0.759" stop-color="#4dffb2"/><stop offset="1.000" stop-color="#68ff97"/></linearGradient><rect x="39.3" y="332" width="101.5" height="1.6" fill="url(#a77)"/>
<linearGradient id="a78"><stop offset="0.000" stop-color="#81ff7e"/><stop offset="0.355" stop-color="#87ff78"/><stop offset="0.369" stop-color="#81ff7e"/><stop offset="0.384" stop-color="#69ff96"/><stop offset="0.522" stop-color="#23ffdc"/><stop offset="0.557" stop-color="#22ffdd"/><stop offset="0.571" stop-color="#32ffcd"/><stop offset="0.576" stop-color="#25ffda"/><stop offset="0.581" stop-color="#00f1ff"/><stop offset="0.586" stop-color="#00c8ff"/><stop offset="0.596" stop-color="#00bbff"/><stop offset="0.611" stop-color="#00c4ff"/><stop offset="0.640" stop-color="#00ffff"/><stop offset="0.690" stop-color="#2bffd4"/><stop offset="0.788" stop-color="#4cffb3"/><stop offset="1.000" stop-color="#67ff98"/></linearGradient><rect x="39.3" y="333" width="101.5" height="1.6" fill="url(#a78)"/>
<linearGradient id="a79"><stop offset="0.000" stop-color="#7fff80"/><stop offset="0.261" stop-color="#7bff84"/><stop offset="0.365" stop-color="#5dffa2"/><stop offset="0.498" stop-color="#03fffc"/><stop offset="0.557" stop-color="#02fffd"/><stop offset="0.567" stop-color="#1affe5"/><stop offset="0.571" stop-color="#1cffe3"/><stop offset="0.576" stop-color="#0bfff4"/><stop offset="0.581" stop-color="#00c6ff"/><stop offset="0.586" stop-color="#0092ff"/><stop offset="0.596" stop-color="#0080ff"/><stop offset="0.611" stop-color="#008dff"/><stop offset="0.640" stop-color="#00e2ff"/><stop offset="0.660" stop-color="#01fffe"/><stop offset="0.719" stop-color="#30ffcf"/><stop offset="0.837" stop-color="#51ffae"/><stop offset="1.000" stop-color="#66ff99"/></linearGradient><rect x="39.3" y="334" width="101.5" height="1.6" fill="url(#a79)"/>
<linearGradient id="a80"><stop offset="0.000" stop-color="#7dff82"/><stop offset="0.227" stop-color="#73ff8c"/><stop offset="0.320" stop-color="#54ffab"/><stop offset="0.369" stop-color="#35ffca"/><stop offset="0.389" stop-color="#35ffca"/><stop offset="0.443" stop-color="#00fcff"/><stop offset="0.502" stop-color="#00d6ff"/><stop offset="0.552" stop-color="#00d9ff"/><stop offset="0.562" stop-color="#00f0ff"/><stop offset="0.567" stop-color="#02fffd"/><stop offset="0.571" stop-color="#05fffa"/><stop offset="0.576" stop-color="#00f1ff"/><stop offset="0.581" stop-color="#009cff"/><stop offset="0.586" stop-color="#005eff"/><stop offset="0.591" stop-color="#004eff"/><stop offset="0.601" stop-color="#0048ff"/><stop offset="0.611" stop-color="#005aff"/><stop offset="0.640" stop-color="#00c7ff"/><stop offset="0.665" stop-color="#00f4ff"/><stop offset="0.680" stop-color="#06fff9"/><stop offset="0.744" stop-color="#34ffcb"/><stop offset="0.892" stop-color="#58ffa7"/><stop offset="1.000" stop-color="#66ff99"/></linearGradient><rect x="39.3" y="335" width="101.5" height="1.6" fill="url(#a80)"/>
<linearGradient id="a81"><stop offset="0.000" stop-color="#7bff84"/><stop offset="0.207" stop-color="#6dff92"/><stop offset="0.296" stop-color="#4bffb4"/><stop offset="0.369" stop-color="#0ffff0"/><stop offset="0.384" stop-color="#22ffdd"/><stop offset="0.404" stop-color="#01fffe"/><stop offset="0.478" stop-color="#00b5ff"/><stop offset="0.522" stop-color="#00a9ff"/><stop offset="0.552" stop-color="#00b6ff"/><stop offset="0.562" stop-color="#00d3ff"/><stop offset="0.567" stop-color="#00e9ff"/><stop offset="0.571" stop-color="#00eeff"/><stop offset="0.576" stop-color="#00d7ff"/><stop offset="0.581" stop-color="#0075ff"/><stop offset="0.586" stop-color="#0030ff"/><stop offset="0.591" stop-color="#001eff"/><stop offset="0.601" stop-color="#0018ff"/><stop offset="0.611" stop-color="#002eff"/><stop offset="0.640" stop-color="#00afff"/><stop offset="0.660" stop-color="#00dcff"/><stop offset="0.685" stop-color="#00feff"/><stop offset="0.744" stop-color="#2effd1"/><stop offset="0.872" stop-color="#53ffac"/><stop offset="1.000" stop-color="#65ff9a"/></linearGradient><rect x="39.3" y="336" width="101.5" height="1.6" fill="url(#a81)"/>
<linearGradient id="a82"><stop offset="0.000" stop-color="#78ff87"/><stop offset="0.197" stop-color="#66ff99"/><stop offset="0.281" stop-color="#42ffbd"/><stop offset="0.350" stop-color="#00fbff"/><stop offset="0.369" stop-color="#00e7ff"/><stop offset="0.379" stop-color="#07fff8"/><stop offset="0.384" stop-color="#0cfff3"/><stop offset="0.394" stop-color="#00f5ff"/><stop offset="0.414" stop-color="#00d1ff"/><stop offset="0.473" stop-color="#008cff"/><stop offset="0.512" stop-color="#007eff"/><stop offset="0.552" stop-color="#0092ff"/><stop offset="0.557" stop-color="#009eff"/><stop offset="0.567" stop-color="#00d1ff"/><stop offset="0.571" stop-color="#00d7ff"/><stop offset="0.576" stop-color="#00beff"/><stop offset="0.581" stop-color="#0054ff"/><stop offset="0.586" stop-color="#0009ff"/><stop offset="0.596" stop-color="#0000f0"/><stop offset="0.606" stop-color="#0000fa"/><stop offset="0.611" stop-color="#000bff"/><stop offset="0.635" stop-color="#0087ff"/><stop offset="0.650" stop-color="#00b8ff"/><stop offset="0.685" stop-color="#00f4ff"/><stop offset="0.700" stop-color="#07fff8"/><stop offset="0.764" stop-color="#34ffcb"/><stop offset="0.916" stop-color="#5affa5"/><stop offset="1.000" stop-color="#66ff99"/></linearGradient><rect x="39.3" y="337" width="101.5" height="1.6" fill="url(#a82)"/>
<linearGradient id="a83"><stop offset="0.000" stop-color="#76ff89"/><stop offset="0.187" stop-color="#61ff9e"/><stop offset="0.266" stop-color="#3dffc2"/><stop offset="0.325" stop-color="#00fcff"/><stop offset="0.369" stop-color="#00beff"/><stop offset="0.379" stop-color="#00eeff"/><stop offset="0.384" stop-color="#00f6ff"/><stop offset="0.389" stop-color="#00edff"/><stop offset="0.404" stop-color="#00bdff"/><stop offset="0.463" stop-color="#0069ff"/><stop offset="0.502" stop-color="#0053ff"/><stop offset="0.542" stop-color="#0064ff"/><stop offset="0.552" stop-color="#0070ff"/><stop offset="0.557" stop-color="#007eff"/><stop offset="0.567" stop-color="#00b8ff"/><stop offset="0.571" stop-color="#00c1ff"/><stop offset="0.576" stop-color="#00a6ff"/><stop offset="0.581" stop-color="#0037ff"/><stop offset="0.586" stop-color="#0000e9"/><stop offset="0.591" stop-color="#0000d6"/><stop offset="0.601" stop-color="#0000d4"/><stop offset="0.611" stop-color="#0000f0"/><stop offset="0.616" stop-color="#0009ff"/><stop offset="0.635" stop-color="#0075ff"/><stop offset="0.650" stop-color="#00abff"/><stop offset="0.680" stop-color="#00e5ff"/><stop offset="0.700" stop-color="#00ffff"/><stop offset="0.759" stop-color="#2fffd0"/><stop offset="0.892" stop-color="#56ffa9"/><stop offset="1.000" stop-color="#66ff99"/></linearGradient><rect x="39.3" y="338" width="101.5" height="1.6" fill="url(#a83)"/>
<linearGradient id="a84"><stop offset="0.000" stop-color="#73ff8c"/><stop offset="0.182" stop-color="#5bffa4"/><stop offset="0.256" stop-color="#37ffc8"/><stop offset="0.305" stop-color="#01fffe"/><stop offset="0.365" stop-color="#0095ff"/><stop offset="0.369" stop-color="#0095ff"/><stop offset="0.379" stop-color="#00d7ff"/><stop offset="0.384" stop-color="#00e2ff"/><stop offset="0.389" stop-color="#00d9ff"/><stop offset="0.399" stop-color="#00abff"/><stop offset="0.429" stop-color="#0070ff"/><stop offset="0.473" stop-color="#0037ff"/><stop offset="0.507" stop-color="#002cff"/><stop offset="0.542" stop-color="#0043ff"/><stop offset="0.552" stop-color="#0051ff"/><stop offset="0.557" stop-color="#0062ff"/><stop offset="0.567" stop-color="#00a2ff"/><stop offset="0.571" stop-color="#00abff"/><stop offset="0.576" stop-color="#0090ff"/><stop offset="0.581" stop-color="#001fff"/><stop offset="0.586" stop-color="#0000d0"/><stop offset="0.591" stop-color="#0000be"/><stop offset="0.601" stop-color="#0000be"/><stop offset="0.611" stop-color="#0000dd"/><stop offset="0.616" stop-color="#0000f6"/><stop offset="0.621" stop-color="#0014ff"/><stop offset="0.635" stop-color="#0068ff"/><stop offset="0.650" stop-color="#00a0ff"/><stop offset="0.680" stop-color="#00dfff"/><stop offset="0.704" stop-color="#02fffd"/><stop offset="0.764" stop-color="#30ffcf"/><stop offset="0.897" stop-color="#57ffa8"/><stop offset="1.000" stop-color="#67ff98"/></linearGradient><rect x="39.3" y="339" width="101.5" height="1.6" fill="url(#a84)"/>
<linearGradient id="a85"><stop offset="0.000" stop-color="#71ff8e"/><stop offset="0.177" stop-color="#55ffaa"/><stop offset="0.251" stop-color="#2fffd0"/><stop offset="0.296" stop-color="#00fbff"/><stop offset="0.325" stop-color="#00c1ff"/><stop offset="0.360" stop-color="#006eff"/><stop offset="0.369" stop-color="#0068ff"/><stop offset="0.379" stop-color="#00c1ff"/><stop offset="0.384" stop-color="#00d1ff"/><stop offset="0.389" stop-color="#00c6ff"/><stop offset="0.399" stop-color="#0090ff"/><stop offset="0.419" stop-color="#0060ff"/><stop offset="0.463" stop-color="#001bff"/><stop offset="0.498" stop-color="#0009ff"/><stop offset="0.532" stop-color="#001cff"/><stop offset="0.552" stop-color="#0038ff"/><stop offset="0.557" stop-color="#004aff"/><stop offset="0.567" stop-color="#008eff"/><stop offset="0.571" stop-color="#0099ff"/><stop offset="0.576" stop-color="#007dff"/><stop offset="0.581" stop-color="#000cff"/><stop offset="0.586" stop-color="#0000bd"/><stop offset="0.591" stop-color="#0000ac"/><stop offset="0.601" stop-color="#0000af"/><stop offset="0.611" stop-color="#0000cf"/><stop offset="0.621" stop-color="#0009ff"/><stop offset="0.635" stop-color="#005fff"/><stop offset="0.650" stop-color="#009aff"/><stop offset="0.680" stop-color="#00dcff"/><stop offset="0.704" stop-color="#00ffff"/><stop offset="0.764" stop-color="#30ffcf"/><stop offset="0.892" stop-color="#58ffa7"/><stop offset="1.000" stop-color="#68ff97"/></linearGradient><rect x="39.3" y="340" width="101.5" height="1.6" fill="url(#a85)"/>
<linearGradient id="a86"><stop offset="0.000" stop-color="#6eff91"/><stop offset="0.172" stop-color="#51ffae"/><stop offset="0.246" stop-color="#29ffd6"/><stop offset="0.286" stop-color="#00faff"/><stop offset="0.315" stop-color="#00c0ff"/><stop offset="0.350" stop-color="#0051ff"/><stop offset="0.365" stop-color="#0037ff"/><stop offset="0.369" stop-color="#003cff"/><stop offset="0.374" stop-color="#006fff"/><stop offset="0.379" stop-color="#00afff"/><stop offset="0.384" stop-color="#00c1ff"/><stop offset="0.389" stop-color="#00b5ff"/><stop offset="0.399" stop-color="#0077ff"/><stop offset="0.414" stop-color="#004eff"/><stop offset="0.453" stop-color="#0009ff"/><stop offset="0.473" stop-color="#0000f4"/><stop offset="0.507" stop-color="#0000f0"/><stop offset="0.532" stop-color="#0005ff"/><stop offset="0.552" stop-color="#0025ff"/><stop offset="0.557" stop-color="#0038ff"/><stop offset="0.567" stop-color="#007eff"/><stop offset="0.571" stop-color="#008aff"/><stop offset="0.576" stop-color="#006fff"/><stop offset="0.581" stop-color="#0000fe"/><stop offset="0.586" stop-color="#0000b1"/><stop offset="0.591" stop-color="#0000a1"/><stop offset="0.601" stop-color="#0000a5"/><stop offset="0.611" stop-color="#0000c8"/><stop offset="0.621" stop-color="#0002ff"/><stop offset="0.635" stop-color="#005bff"/><stop offset="0.650" stop-color="#0097ff"/><stop offset="0.680" stop-color="#00dbff"/><stop offset="0.704" stop-color="#00ffff"/><stop offset="0.759" stop-color="#2fffd0"/><stop offset="0.877" stop-color="#57ffa8"/><stop offset="1.000" stop-color="#69ff96"/></linearGradient><rect x="39.3" y="341" width="101.5" height="1.6" fill="url(#a86)"/>
<linearGradient id="a87"><stop offset="0.000" stop-color="#6cff93"/><stop offset="0.167" stop-color="#4dffb2"/><stop offset="0.241" stop-color="#25ffda"/><stop offset="0.276" stop-color="#00fdff"/><stop offset="0.305" stop-color="#00c7ff"/><stop offset="0.325" stop-color="#0087ff"/><stop offset="0.350" stop-color="#0022ff"/><stop offset="0.365" stop-color="#000aff"/><stop offset="0.369" stop-color="#0012ff"/><stop offset="0.374" stop-color="#004fff"/><stop offset="0.379" stop-color="#009fff"/><stop offset="0.384" stop-color="#00b5ff"/><stop offset="0.389" stop-color="#00a8ff"/><stop offset="0.399" stop-color="#0064ff"/><stop offset="0.409" stop-color="#0043ff"/><stop offset="0.443" stop-color="#0001ff"/><stop offset="0.478" stop-color="#0000dd"/><stop offset="0.512" stop-color="#0000e2"/><stop offset="0.537" stop-color="#0000fd"/><stop offset="0.552" stop-color="#001aff"/><stop offset="0.557" stop-color="#002dff"/><stop offset="0.567" stop-color="#0076ff"/><stop offset="0.571" stop-color="#0082ff"/><stop offset="0.576" stop-color="#0068ff"/><stop offset="0.581" stop-color="#0000f9"/><stop offset="0.586" stop-color="#0000ad"/><stop offset="0.591" stop-color="#00009e"/><stop offset="0.601" stop-color="#0000a4"/><stop offset="0.611" stop-color="#0000c8"/><stop offset="0.621" stop-color="#0003ff"/><stop offset="0.635" stop-color="#005cff"/><stop offset="0.650" stop-color="#0098ff"/><stop offset="0.680" stop-color="#00ddff"/><stop offset="0.704" stop-color="#03fffc"/><stop offset="0.759" stop-color="#31ffce"/><stop offset="0.872" stop-color="#58ffa7"/><stop offset="1.000" stop-color="#6bff94"/></linearGradient><rect x="39.3" y="342" width="101.5" height="1.6" fill="url(#a87)"/>
<linearGradient id="a88"><stop offset="0.000" stop-color="#6aff95"/><stop offset="0.167" stop-color="#49ffb6"/><stop offset="0.236" stop-color="#22ffdd"/><stop offset="0.271" stop-color="#00fbff"/><stop offset="0.305" stop-color="#00b9ff"/><stop offset="0.320" stop-color="#0087ff"/><stop offset="0.345" stop-color="#000eff"/><stop offset="0.350" stop-color="#0000fa"/><stop offset="0.360" stop-color="#0000e7"/><stop offset="0.365" stop-color="#0000e5"/><stop offset="0.369" stop-color="#0000f1"/><stop offset="0.374" stop-color="#0035ff"/><stop offset="0.379" stop-color="#0094ff"/><stop offset="0.384" stop-color="#00acff"/><stop offset="0.389" stop-color="#009fff"/><stop offset="0.399" stop-color="#0057ff"/><stop offset="0.409" stop-color="#0035ff"/><stop offset="0.433" stop-color="#0003ff"/><stop offset="0.473" stop-color="#0000d5"/><stop offset="0.507" stop-color="#0000d8"/><stop offset="0.542" stop-color="#0003ff"/><stop offset="0.552" stop-color="#0018ff"/><stop offset="0.557" stop-color="#002bff"/><stop offset="0.567" stop-color="#0074ff"/><stop offset="0.571" stop-color="#0081ff"/><stop offset="0.576" stop-color="#0068ff"/><stop offset="0.581" stop-color="#0000fe"/><stop offset="0.586" stop-color="#0000b5"/><stop offset="0.591" stop-color="#0000a7"/><stop offset="0.601" stop-color="#0000af"/><stop offset="0.611" stop-color="#0000d2"/><stop offset="0.616" stop-color="#0000ed"/><stop offset="0.621" stop-color="#000cff"/><stop offset="0.635" stop-color="#0063ff"/><stop offset="0.650" stop-color="#009eff"/><stop offset="0.680" stop-color="#00e2ff"/><stop offset="0.700" stop-color="#02fffd"/><stop offset="0.754" stop-color="#33ffcc"/><stop offset="0.862" stop-color="#59ffa6"/><stop offset="1.000" stop-color="#6dff92"/></linearGradient><rect x="39.3" y="343" width="101.5" height="1.6" fill="url(#a88)"/>
<linearGradient id="a89"><stop offset="0.000" stop-color="#68ff97"/><stop offset="0.167" stop-color="#45ffba"/><stop offset="0.236" stop-color="#1dffe2"/><stop offset="0.266" stop-color="#00fbff"/><stop offset="0.300" stop-color="#00bdff"/><stop offset="0.315" stop-color="#008fff"/><stop offset="0.330" stop-color="#0046ff"/><stop offset="0.340" stop-color="#000dff"/><stop offset="0.345" stop-color="#0000f4"/><stop offset="0.355" stop-color="#0000d3"/><stop offset="0.365" stop-color="#0000cd"/><stop offset="0.369" stop-color="#0000db"/><stop offset="0.374" stop-color="#0025ff"/><stop offset="0.379" stop-color="#008eff"/><stop offset="0.384" stop-color="#00a7ff"/><stop offset="0.389" stop-color="#009aff"/><stop offset="0.399" stop-color="#0050ff"/><stop offset="0.409" stop-color="#002eff"/><stop offset="0.433" stop-color="#0000fd"/><stop offset="0.468" stop-color="#0000d7"/><stop offset="0.502" stop-color="#0000d7"/><stop offset="0.537" stop-color="#0000ff"/><stop offset="0.552" stop-color="#001fff"/><stop offset="0.557" stop-color="#0033ff"/><stop offset="0.567" stop-color="#007aff"/><stop offset="0.571" stop-color="#0087ff"/><stop offset="0.576" stop-color="#0070ff"/><stop offset="0.581" stop-color="#000fff"/><stop offset="0.586" stop-color="#0000ca"/><stop offset="0.591" stop-color="#0000bf"/><stop offset="0.601" stop-color="#0000c8"/><stop offset="0.616" stop-color="#0005ff"/><stop offset="0.635" stop-color="#0072ff"/><stop offset="0.650" stop-color="#00aaff"/><stop offset="0.680" stop-color="#00ebff"/><stop offset="0.695" stop-color="#03fffc"/><stop offset="0.744" stop-color="#32ffcd"/><stop offset="0.837" stop-color="#58ffa7"/><stop offset="1.000" stop-color="#6fff90"/></linearGradient><rect x="39.3" y="344" width="101.5" height="1.6" fill="url(#a89)"/>
<linearGradient id="a90"><stop offset="0.000" stop-color="#66ff99"/><stop offset="0.167" stop-color="#42ffbd"/><stop offset="0.236" stop-color="#19ffe6"/><stop offset="0.261" stop-color="#00fdff"/><stop offset="0.296" stop-color="#00c3ff"/><stop offset="0.315" stop-color="#0089ff"/><stop offset="0.330" stop-color="#003dff"/><stop offset="0.340" stop-color="#0002ff"/><stop offset="0.350" stop-color="#0000d3"/><stop offset="0.360" stop-color="#0000c1"/><stop offset="0.365" stop-color="#0000c2"/><stop offset="0.369" stop-color="#0000d2"/><stop offset="0.374" stop-color="#001fff"/><stop offset="0.379" stop-color="#008dff"/><stop offset="0.384" stop-color="#00a7ff"/><stop offset="0.389" stop-color="#009aff"/><stop offset="0.399" stop-color="#0051ff"/><stop offset="0.409" stop-color="#0030ff"/><stop offset="0.433" stop-color="#0003ff"/><stop offset="0.468" stop-color="#0000df"/><stop offset="0.502" stop-color="#0000e4"/><stop offset="0.527" stop-color="#0000ff"/><stop offset="0.552" stop-color="#002fff"/><stop offset="0.557" stop-color="#0042ff"/><stop offset="0.567" stop-color="#0086ff"/><stop offset="0.571" stop-color="#0093ff"/><stop offset="0.576" stop-color="#007eff"/><stop offset="0.581" stop-color="#002aff"/><stop offset="0.586" stop-color="#0000ed"/><stop offset="0.591" stop-color="#0000e5"/><stop offset="0.606" stop-color="#0000fe"/><stop offset="0.626" stop-color="#005aff"/><stop offset="0.645" stop-color="#00acff"/><stop offset="0.675" stop-color="#00efff"/><stop offset="0.690" stop-color="#06fff9"/><stop offset="0.739" stop-color="#37ffc8"/><stop offset="0.833" stop-color="#5bffa4"/><stop offset="1.000" stop-color="#71ff8e"/></linearGradient><rect x="39.3" y="345" width="101.5" height="1.6" fill="url(#a90)"/>
<linearGradient id="a91"><stop offset="0.000" stop-color="#64ff9b"/><stop offset="0.167" stop-color="#40ffbf"/><stop offset="0.236" stop-color="#17ffe8"/><stop offset="0.261" stop-color="#00fcff"/><stop offset="0.296" stop-color="#00c2ff"/><stop offset="0.315" stop-color="#0087ff"/><stop offset="0.330" stop-color="#003bff"/><stop offset="0.340" stop-color="#0000ff"/><stop offset="0.350" stop-color="#0000d1"/><stop offset="0.360" stop-color="#0000c0"/><stop offset="0.365" stop-color="#0000c2"/><stop offset="0.369" stop-color="#0000d3"/><stop offset="0.374" stop-color="#0022ff"/><stop offset="0.379" stop-color="#0092ff"/><stop offset="0.384" stop-color="#00adff"/><stop offset="0.389" stop-color="#00a1ff"/><stop offset="0.399" stop-color="#0059ff"/><stop offset="0.409" stop-color="#003aff"/><stop offset="0.448" stop-color="#0000ff"/><stop offset="0.483" stop-color="#0000f1"/><stop offset="0.512" stop-color="#0005ff"/><stop offset="0.547" stop-color="#003cff"/><stop offset="0.557" stop-color="#005aff"/><stop offset="0.567" stop-color="#0098ff"/><stop offset="0.571" stop-color="#00a5ff"/><stop offset="0.576" stop-color="#0093ff"/><stop offset="0.581" stop-color="#004fff"/><stop offset="0.586" stop-color="#001cff"/><stop offset="0.591" stop-color="#0018ff"/><stop offset="0.606" stop-color="#0033ff"/><stop offset="0.640" stop-color="#00b4ff"/><stop offset="0.665" stop-color="#00eeff"/><stop offset="0.680" stop-color="#07fff8"/><stop offset="0.729" stop-color="#39ffc6"/><stop offset="0.818" stop-color="#5effa1"/><stop offset="1.000" stop-color="#73ff8c"/></linearGradient><rect x="39.3" y="346" width="101.5" height="1.6" fill="url(#a91)"/>
<linearGradient id="a92"><stop offset="0.000" stop-color="#63ff9c"/><stop offset="0.167" stop-color="#3fffc0"/><stop offset="0.236" stop-color="#17ffe8"/><stop offset="0.261" stop-color="#00fbff"/><stop offset="0.296" stop-color="#00c3ff"/><stop offset="0.315" stop-color="#008aff"/><stop offset="0.330" stop-color="#003fff"/><stop offset="0.340" stop-color="#0005ff"/><stop offset="0.350" stop-color="#0000d8"/><stop offset="0.360" stop-color="#0000c9"/><stop offset="0.365" stop-color="#0000cb"/><stop offset="0.369" stop-color="#0000dd"/><stop offset="0.374" stop-color="#002dff"/><stop offset="0.379" stop-color="#009eff"/><stop offset="0.384" stop-color="#00b9ff"/><stop offset="0.389" stop-color="#00aeff"/><stop offset="0.399" stop-color="#0069ff"/><stop offset="0.409" stop-color="#004cff"/><stop offset="0.448" stop-color="#001aff"/><stop offset="0.483" stop-color="#0011ff"/><stop offset="0.517" stop-color="#002dff"/><stop offset="0.552" stop-color="#0068ff"/><stop offset="0.562" stop-color="#0093ff"/><stop offset="0.567" stop-color="#00afff"/><stop offset="0.571" stop-color="#00baff"/><stop offset="0.576" stop-color="#00acff"/><stop offset="0.586" stop-color="#0052ff"/><stop offset="0.596" stop-color="#0058ff"/><stop offset="0.616" stop-color="#0088ff"/><stop offset="0.645" stop-color="#00deff"/><stop offset="0.665" stop-color="#03fffc"/><stop offset="0.714" stop-color="#3affc5"/><stop offset="0.793" stop-color="#5effa1"/><stop offset="0.985" stop-color="#75ff8a"/><stop offset="1.000" stop-color="#76ff89"/></linearGradient><rect x="39.3" y="347" width="101.5" height="1.6" fill="url(#a92)"/>
<linearGradient id="a93"><stop offset="0.000" stop-color="#62ff9d"/><stop offset="0.172" stop-color="#3cffc3"/><stop offset="0.241" stop-color="#13ffec"/><stop offset="0.266" stop-color="#00f7ff"/><stop offset="0.300" stop-color="#00bdff"/><stop offset="0.315" stop-color="#0091ff"/><stop offset="0.330" stop-color="#0048ff"/><stop offset="0.340" stop-color="#0010ff"/><stop offset="0.345" stop-color="#0000f7"/><stop offset="0.355" stop-color="#0000da"/><stop offset="0.365" stop-color="#0000db"/><stop offset="0.369" stop-color="#0000ee"/><stop offset="0.374" stop-color="#003eff"/><stop offset="0.379" stop-color="#00afff"/><stop offset="0.384" stop-color="#00caff"/><stop offset="0.389" stop-color="#00c1ff"/><stop offset="0.399" stop-color="#0080ff"/><stop offset="0.409" stop-color="#0066ff"/><stop offset="0.448" stop-color="#003cff"/><stop offset="0.483" stop-color="#0038ff"/><stop offset="0.522" stop-color="#005cff"/><stop offset="0.552" stop-color="#008eff"/><stop offset="0.562" stop-color="#00b2ff"/><stop offset="0.567" stop-color="#00caff"/><stop offset="0.571" stop-color="#00d4ff"/><stop offset="0.576" stop-color="#00c9ff"/><stop offset="0.586" stop-color="#008aff"/><stop offset="0.601" stop-color="#009cff"/><stop offset="0.645" stop-color="#00fbff"/><stop offset="0.700" stop-color="#3dffc2"/><stop offset="0.773" stop-color="#61ff9e"/><stop offset="0.951" stop-color="#77ff88"/><stop offset="1.000" stop-color="#78ff87"/></linearGradient><rect x="39.3" y="348" width="101.5" height="1.6" fill="url(#a93)"/>
<linearGradient id="a94"><stop offset="0.000" stop-color="#62ff9d"/><stop offset="0.177" stop-color="#3bffc4"/><stop offset="0.246" stop-color="#12ffed"/><stop offset="0.266" stop-color="#00fcff"/><stop offset="0.300" stop-color="#00c6ff"/><stop offset="0.315" stop-color="#009cff"/><stop offset="0.330" stop-color="#0057ff"/><stop offset="0.345" stop-color="#0009ff"/><stop offset="0.355" stop-color="#0000ee"/><stop offset="0.365" stop-color="#0000f2"/><stop offset="0.369" stop-color="#0006ff"/><stop offset="0.374" stop-color="#0054ff"/><stop offset="0.379" stop-color="#00c3ff"/><stop offset="0.384" stop-color="#00deff"/><stop offset="0.389" stop-color="#00d6ff"/><stop offset="0.399" stop-color="#009cff"/><stop offset="0.409" stop-color="#0085ff"/><stop offset="0.453" stop-color="#0064ff"/><stop offset="0.493" stop-color="#006cff"/><stop offset="0.537" stop-color="#009fff"/><stop offset="0.557" stop-color="#00c3ff"/><stop offset="0.567" stop-color="#00e7ff"/><stop offset="0.571" stop-color="#00f0ff"/><stop offset="0.576" stop-color="#00e9ff"/><stop offset="0.586" stop-color="#00c1ff"/><stop offset="0.626" stop-color="#00fdff"/><stop offset="0.680" stop-color="#40ffbf"/><stop offset="0.749" stop-color="#64ff9b"/><stop offset="0.911" stop-color="#79ff86"/><stop offset="1.000" stop-color="#7aff85"/></linearGradient><rect x="39.3" y="349" width="101.5" height="1.6" fill="url(#a94)"/>
<linearGradient id="a95"><stop offset="0.000" stop-color="#61ff9e"/><stop offset="0.182" stop-color="#3cffc3"/><stop offset="0.251" stop-color="#14ffeb"/><stop offset="0.276" stop-color="#00f9ff"/><stop offset="0.305" stop-color="#00c8ff"/><stop offset="0.320" stop-color="#009aff"/><stop offset="0.345" stop-color="#0023ff"/><stop offset="0.355" stop-color="#000cff"/><stop offset="0.365" stop-color="#0011ff"/><stop offset="0.369" stop-color="#0025ff"/><stop offset="0.374" stop-color="#0070ff"/><stop offset="0.379" stop-color="#00daff"/><stop offset="0.384" stop-color="#00f4ff"/><stop offset="0.389" stop-color="#00edff"/><stop offset="0.399" stop-color="#00bbff"/><stop offset="0.414" stop-color="#00a5ff"/><stop offset="0.458" stop-color="#0092ff"/><stop offset="0.502" stop-color="#00a6ff"/><stop offset="0.557" stop-color="#00ebff"/><stop offset="0.567" stop-color="#07fff8"/><stop offset="0.576" stop-color="#0cfff3"/><stop offset="0.586" stop-color="#00f8ff"/><stop offset="0.606" stop-color="#0ffff0"/><stop offset="0.665" stop-color="#4cffb3"/><stop offset="0.744" stop-color="#6eff91"/><stop offset="0.931" stop-color="#7dff82"/><stop offset="1.000" stop-color="#7cff83"/></linearGradient><rect x="39.3" y="350" width="101.5" height="1.6" fill="url(#a95)"/>
<linearGradient id="a96"><stop offset="0.000" stop-color="#61ff9e"/><stop offset="0.192" stop-color="#3cffc3"/><stop offset="0.261" stop-color="#14ffeb"/><stop offset="0.286" stop-color="#00f9ff"/><stop offset="0.310" stop-color="#00ceff"/><stop offset="0.325" stop-color="#009cff"/><stop offset="0.345" stop-color="#0046ff"/><stop offset="0.355" stop-color="#0032ff"/><stop offset="0.365" stop-color="#0039ff"/><stop offset="0.369" stop-color="#004cff"/><stop offset="0.374" stop-color="#0091ff"/><stop offset="0.379" stop-color="#00f3ff"/><stop offset="0.384" stop-color="#0bfff4"/><stop offset="0.389" stop-color="#07fff8"/><stop offset="0.399" stop-color="#00ddff"/><stop offset="0.419" stop-color="#00caff"/><stop offset="0.468" stop-color="#00c6ff"/><stop offset="0.522" stop-color="#00ecff"/><stop offset="0.547" stop-color="#08fff7"/><stop offset="0.571" stop-color="#2dffd2"/><stop offset="0.596" stop-color="#38ffc7"/><stop offset="0.665" stop-color="#66ff99"/><stop offset="0.778" stop-color="#7eff81"/><stop offset="1.000" stop-color="#7eff81"/></linearGradient><rect x="39.3" y="351" width="101.5" height="1.6" fill="url(#a96)"/>
<linearGradient id="a97"><stop offset="0.000" stop-color="#62ff9d"/><stop offset="0.202" stop-color="#3effc1"/><stop offset="0.271" stop-color="#17ffe8"/><stop offset="0.296" stop-color="#00fdff"/><stop offset="0.315" stop-color="#00daff"/><stop offset="0.345" stop-color="#0073ff"/><stop offset="0.355" stop-color="#0063ff"/><stop offset="0.365" stop-color="#006aff"/><stop offset="0.369" stop-color="#007bff"/><stop offset="0.374" stop-color="#00b9ff"/><stop offset="0.379" stop-color="#0efff1"/><stop offset="0.384" stop-color="#22ffdd"/><stop offset="0.389" stop-color="#20ffdf"/><stop offset="0.399" stop-color="#00ffff"/><stop offset="0.429" stop-color="#00f2ff"/><stop offset="0.488" stop-color="#04fffb"/><stop offset="0.576" stop-color="#51ffae"/><stop offset="0.591" stop-color="#6aff95"/><stop offset="0.660" stop-color="#7fff80"/><stop offset="0.911" stop-color="#84ff7b"/><stop offset="1.000" stop-color="#80ff7f"/></linearGradient><rect x="39.3" y="352" width="101.5" height="1.6" fill="url(#a97)"/>
<linearGradient id="a98"><stop offset="0.000" stop-color="#63ff9c"/><stop offset="0.217" stop-color="#40ffbf"/><stop offset="0.291" stop-color="#17ffe8"/><stop offset="0.310" stop-color="#01fffe"/><stop offset="0.330" stop-color="#00d2ff"/><stop offset="0.350" stop-color="#00a1ff"/><stop offset="0.365" stop-color="#00a4ff"/><stop offset="0.369" stop-color="#00b2ff"/><stop offset="0.374" stop-color="#00e5ff"/><stop offset="0.379" stop-color="#2affd5"/><stop offset="0.384" stop-color="#3affc5"/><stop offset="0.389" stop-color="#39ffc6"/><stop offset="0.404" stop-color="#1fffe0"/><stop offset="0.468" stop-color="#2dffd2"/><stop offset="0.576" stop-color="#73ff8c"/><stop offset="0.586" stop-color="#9cff63"/><stop offset="0.616" stop-color="#a6ff59"/><stop offset="0.773" stop-color="#8fff70"/><stop offset="1.000" stop-color="#82ff7d"/></linearGradient><rect x="39.3" y="353" width="101.5" height="1.6" fill="url(#a98)"/>
<linearGradient id="a99"><stop offset="0.000" stop-color="#64ff9b"/><stop offset="0.236" stop-color="#45ffba"/><stop offset="0.305" stop-color="#22ffdd"/><stop offset="0.330" stop-color="#00feff"/><stop offset="0.350" stop-color="#00e0ff"/><stop offset="0.365" stop-color="#00e3ff"/><stop offset="0.369" stop-color="#00edff"/><stop offset="0.374" stop-color="#15ffea"/><stop offset="0.379" stop-color="#46ffb9"/><stop offset="0.384" stop-color="#53ffac"/><stop offset="0.409" stop-color="#46ffb9"/><stop offset="0.502" stop-color="#74ff8b"/><stop offset="0.557" stop-color="#8eff71"/><stop offset="0.571" stop-color="#89ff76"/><stop offset="0.576" stop-color="#94ff6b"/><stop offset="0.586" stop-color="#d4ff2b"/><stop offset="0.606" stop-color="#ddff22"/><stop offset="0.675" stop-color="#afff50"/><stop offset="0.803" stop-color="#94ff6b"/><stop offset="1.000" stop-color="#83ff7c"/></linearGradient><rect x="39.3" y="354" width="101.5" height="1.6" fill="url(#a99)"/>
<linearGradient id="a100"><stop offset="0.000" stop-color="#66ff99"/><stop offset="0.271" stop-color="#4affb5"/><stop offset="0.325" stop-color="#31ffce"/><stop offset="0.355" stop-color="#1effe1"/><stop offset="0.369" stop-color="#29ffd6"/><stop offset="0.379" stop-color="#63ff9c"/><stop offset="0.389" stop-color="#6eff91"/><stop offset="0.419" stop-color="#73ff8c"/><stop offset="0.537" stop-color="#b5ff4a"/><stop offset="0.557" stop-color="#b5ff4a"/><stop offset="0.567" stop-color="#a6ff59"/><stop offset="0.571" stop-color="#a6ff59"/><stop offset="0.576" stop-color="#b5ff4a"/><stop offset="0.581" stop-color="#e3ff1c"/><stop offset="0.586" stop-color="#fff100"/><stop offset="0.596" stop-color="#ffe700"/><stop offset="0.616" stop-color="#fff600"/><stop offset="0.631" stop-color="#f0ff0f"/><stop offset="0.670" stop-color="#c7ff38"/><stop offset="0.754" stop-color="#a3ff5c"/><stop offset="1.000" stop-color="#84ff7b"/></linearGradient><rect x="39.3" y="355" width="101.5" height="1.6" fill="url(#a100)"/>
<linearGradient id="a101"><stop offset="0.000" stop-color="#68ff97"/><stop offset="0.360" stop-color="#59ffa6"/><stop offset="0.369" stop-color="#61ff9e"/><stop offset="0.379" stop-color="#81ff7e"/><stop offset="0.507" stop-color="#dbff24"/><stop offset="0.552" stop-color="#e2ff1d"/><stop offset="0.562" stop-color="#d1ff2e"/><stop offset="0.567" stop-color="#c3ff3c"/><stop offset="0.571" stop-color="#c2ff3d"/><stop offset="0.576" stop-color="#d4ff2b"/><stop offset="0.581" stop-color="#ffee00"/><stop offset="0.586" stop-color="#ffbb00"/><stop offset="0.596" stop-color="#ffb000"/><stop offset="0.611" stop-color="#ffbd00"/><stop offset="0.640" stop-color="#fffc00"/><stop offset="0.695" stop-color="#c8ff37"/><stop offset="0.778" stop-color="#a5ff5a"/><stop offset="1.000" stop-color="#85ff7a"/></linearGradient><rect x="39.3" y="356" width="101.5" height="1.6" fill="url(#a101)"/>
<linearGradient id="a102"><stop offset="0.000" stop-color="#6aff95"/><stop offset="0.251" stop-color="#6eff91"/><stop offset="0.355" stop-color="#8bff74"/><stop offset="0.404" stop-color="#b9ff46"/><stop offset="0.483" stop-color="#fffd00"/><stop offset="0.532" stop-color="#ffed00"/><stop offset="0.552" stop-color="#fff200"/><stop offset="0.557" stop-color="#fffa00"/><stop offset="0.567" stop-color="#e1ff1e"/><stop offset="0.571" stop-color="#deff21"/><stop offset="0.576" stop-color="#f4ff0b"/><stop offset="0.581" stop-color="#ffc400"/><stop offset="0.586" stop-color="#ff8a00"/><stop offset="0.591" stop-color="#ff7e00"/><stop offset="0.606" stop-color="#ff8600"/><stop offset="0.645" stop-color="#ffea00"/><stop offset="0.660" stop-color="#fcff03"/><stop offset="0.714" stop-color="#c7ff38"/><stop offset="0.808" stop-color="#a3ff5c"/><stop offset="1.000" stop-color="#85ff7a"/></linearGradient><rect x="39.3" y="357" width="101.5" height="1.6" fill="url(#a102)"/>
<linearGradient id="a103"><stop offset="0.000" stop-color="#6dff92"/><stop offset="0.217" stop-color="#76ff89"/><stop offset="0.305" stop-color="#95ff6a"/><stop offset="0.369" stop-color="#c7ff38"/><stop offset="0.384" stop-color="#bcff43"/><stop offset="0.419" stop-color="#f2ff0d"/><stop offset="0.433" stop-color="#fffa00"/><stop offset="0.488" stop-color="#ffc600"/><stop offset="0.532" stop-color="#ffbf00"/><stop offset="0.552" stop-color="#ffc900"/><stop offset="0.557" stop-color="#ffd300"/><stop offset="0.567" stop-color="#feff01"/><stop offset="0.571" stop-color="#f9ff06"/><stop offset="0.576" stop-color="#ffec00"/><stop offset="0.581" stop-color="#ff9e00"/><stop offset="0.586" stop-color="#ff5d00"/><stop offset="0.591" stop-color="#ff5200"/><stop offset="0.606" stop-color="#ff5d00"/><stop offset="0.645" stop-color="#ffd300"/><stop offset="0.670" stop-color="#ffff00"/><stop offset="0.724" stop-color="#c9ff36"/><stop offset="0.818" stop-color="#a3ff5c"/><stop offset="1.000" stop-color="#85ff7a"/></linearGradient><rect x="39.3" y="358" width="101.5" height="1.6" fill="url(#a103)"/>
<linearGradient id="a104"><stop offset="0.000" stop-color="#6fff90"/><stop offset="0.197" stop-color="#7dff82"/><stop offset="0.281" stop-color="#9eff61"/><stop offset="0.345" stop-color="#ddff22"/><stop offset="0.369" stop-color="#f8ff07"/><stop offset="0.379" stop-color="#dbff24"/><stop offset="0.384" stop-color="#d6ff29"/><stop offset="0.394" stop-color="#edff12"/><stop offset="0.399" stop-color="#fcff03"/><stop offset="0.463" stop-color="#ffa700"/><stop offset="0.502" stop-color="#ff8d00"/><stop offset="0.542" stop-color="#ff9700"/><stop offset="0.552" stop-color="#ffa100"/><stop offset="0.557" stop-color="#ffae00"/><stop offset="0.567" stop-color="#ffe300"/><stop offset="0.571" stop-color="#ffea00"/><stop offset="0.576" stop-color="#ffcf00"/><stop offset="0.581" stop-color="#ff7b00"/><stop offset="0.586" stop-color="#ff3700"/><stop offset="0.591" stop-color="#ff2c00"/><stop offset="0.606" stop-color="#ff3c00"/><stop offset="0.645" stop-color="#ffc000"/><stop offset="0.675" stop-color="#fff900"/><stop offset="0.700" stop-color="#e5ff1a"/><stop offset="0.759" stop-color="#baff45"/><stop offset="0.901" stop-color="#93ff6c"/><stop offset="1.000" stop-color="#85ff7a"/></linearGradient><rect x="39.3" y="359" width="101.5" height="1.6" fill="url(#a104)"/>
<linearGradient id="a105"><stop offset="0.000" stop-color="#72ff8d"/><stop offset="0.187" stop-color="#84ff7b"/><stop offset="0.266" stop-color="#a7ff58"/><stop offset="0.320" stop-color="#e0ff1f"/><stop offset="0.340" stop-color="#ffff00"/><stop offset="0.369" stop-color="#ffd600"/><stop offset="0.379" stop-color="#f7ff08"/><stop offset="0.384" stop-color="#eeff11"/><stop offset="0.389" stop-color="#f7ff08"/><stop offset="0.399" stop-color="#ffde00"/><stop offset="0.443" stop-color="#ff9000"/><stop offset="0.483" stop-color="#ff6500"/><stop offset="0.517" stop-color="#ff6000"/><stop offset="0.552" stop-color="#ff7c00"/><stop offset="0.557" stop-color="#ff8b00"/><stop offset="0.567" stop-color="#ffc800"/><stop offset="0.571" stop-color="#ffd000"/><stop offset="0.576" stop-color="#ffb400"/><stop offset="0.581" stop-color="#ff5e00"/><stop offset="0.586" stop-color="#ff1800"/><stop offset="0.591" stop-color="#ff0d00"/><stop offset="0.606" stop-color="#ff2200"/><stop offset="0.645" stop-color="#ffb100"/><stop offset="0.675" stop-color="#fff000"/><stop offset="0.685" stop-color="#ffff00"/><stop offset="0.734" stop-color="#cbff34"/><stop offset="0.823" stop-color="#a4ff5b"/><stop offset="1.000" stop-color="#84ff7b"/></linearGradient><rect x="39.3" y="360" width="101.5" height="1.6" fill="url(#a105)"/>
<linearGradient id="a106"><stop offset="0.000" stop-color="#75ff8a"/><stop offset="0.177" stop-color="#8aff75"/><stop offset="0.251" stop-color="#acff53"/><stop offset="0.300" stop-color="#e0ff1f"/><stop offset="0.320" stop-color="#fffe00"/><stop offset="0.365" stop-color="#ffa800"/><stop offset="0.369" stop-color="#ffa700"/><stop offset="0.379" stop-color="#ffec00"/><stop offset="0.384" stop-color="#fff900"/><stop offset="0.389" stop-color="#ffef00"/><stop offset="0.399" stop-color="#ffbd00"/><stop offset="0.424" stop-color="#ff8700"/><stop offset="0.468" stop-color="#ff4500"/><stop offset="0.502" stop-color="#ff3500"/><stop offset="0.537" stop-color="#ff4800"/><stop offset="0.552" stop-color="#ff5d00"/><stop offset="0.557" stop-color="#ff6d00"/><stop offset="0.567" stop-color="#ffaf00"/><stop offset="0.571" stop-color="#ffb900"/><stop offset="0.576" stop-color="#ff9d00"/><stop offset="0.581" stop-color="#ff4600"/><stop offset="0.586" stop-color="#ff0000"/><stop offset="0.591" stop-color="#f50000"/><stop offset="0.601" stop-color="#ff0200"/><stop offset="0.616" stop-color="#ff3200"/><stop offset="0.640" stop-color="#ff9700"/><stop offset="0.665" stop-color="#ffd700"/><stop offset="0.690" stop-color="#fdff02"/><stop offset="0.739" stop-color="#caff35"/><stop offset="0.833" stop-color="#a1ff5e"/><stop offset="1.000" stop-color="#84ff7b"/></linearGradient><rect x="39.3" y="361" width="101.5" height="1.4" fill="url(#a106)"/>
<linearGradient id="a107"><stop offset="0.000" stop-color="#77ff88"/><stop offset="0.177" stop-color="#90ff6f"/><stop offset="0.251" stop-color="#b5ff4a"/><stop offset="0.300" stop-color="#f0ff0f"/><stop offset="0.310" stop-color="#fffd00"/><stop offset="0.365" stop-color="#ff8700"/><stop offset="0.369" stop-color="#ff8700"/><stop offset="0.379" stop-color="#ffdb00"/><stop offset="0.384" stop-color="#ffeb00"/><stop offset="0.389" stop-color="#ffe000"/><stop offset="0.399" stop-color="#ffa800"/><stop offset="0.419" stop-color="#ff7700"/><stop offset="0.463" stop-color="#ff3000"/><stop offset="0.498" stop-color="#ff1c00"/><stop offset="0.532" stop-color="#ff2e00"/><stop offset="0.552" stop-color="#ff4b00"/><stop offset="0.557" stop-color="#ff5c00"/><stop offset="0.567" stop-color="#ffa100"/><stop offset="0.571" stop-color="#ffac00"/><stop offset="0.576" stop-color="#ff9000"/><stop offset="0.581" stop-color="#ff3900"/><stop offset="0.586" stop-color="#f20000"/><stop offset="0.591" stop-color="#e90000"/><stop offset="0.606" stop-color="#ff0500"/><stop offset="0.640" stop-color="#ff9200"/><stop offset="0.665" stop-color="#ffd400"/><stop offset="0.690" stop-color="#feff01"/><stop offset="0.739" stop-color="#caff35"/><stop offset="0.828" stop-color="#a2ff5d"/><stop offset="1.000" stop-color="#83ff7c"/></linearGradient><rect x="39.3" y="362" width="101.5" height="0.4" fill="url(#a107)"/>
<linearGradient id="b0"><stop offset="0.000" stop-color="#ffff00"/><stop offset="0.274" stop-color="#f8ff07"/><stop offset="0.395" stop-color="#c0ff3f"/><stop offset="0.442" stop-color="#cfff30"/><stop offset="0.511" stop-color="#fffb00"/><stop offset="0.574" stop-color="#ffe400"/><stop offset="0.668" stop-color="#fffe00"/><stop offset="1.000" stop-color="#ffff00"/></linearGradient><rect x="169" y="256.5" width="95" height="1.1" fill="url(#b0)"/>
<linearGradient id="b1"><stop offset="0.000" stop-color="#ffff00"/><stop offset="0.279" stop-color="#f9ff06"/><stop offset="0.395" stop-color="#d4ff2b"/><stop offset="0.447" stop-color="#e6ff19"/><stop offset="0.489" stop-color="#fffb00"/><stop offset="0.563" stop-color="#ffdb00"/><stop offset="0.605" stop-color="#ffe600"/><stop offset="0.653" stop-color="#fffd00"/><stop offset="1.000" stop-color="#ffff00"/></linearGradient><rect x="169" y="257" width="95" height="1.6" fill="url(#b1)"/>
<linearGradient id="b2"><stop offset="0.000" stop-color="#ffff00"/><stop offset="0.305" stop-color="#f8ff07"/><stop offset="0.400" stop-color="#f0ff0f"/><stop offset="0.453" stop-color="#fffa00"/><stop offset="0.558" stop-color="#ffca00"/><stop offset="0.595" stop-color="#ffd500"/><stop offset="0.642" stop-color="#fffa00"/><stop offset="1.000" stop-color="#ffff00"/></linearGradient><rect x="169" y="258" width="95" height="1.6" fill="url(#b2)"/>
<linearGradient id="b3"><stop offset="0.000" stop-color="#ffff00"/><stop offset="0.384" stop-color="#fffa00"/><stop offset="0.558" stop-color="#ffb800"/><stop offset="0.589" stop-color="#ffc600"/><stop offset="0.637" stop-color="#fff700"/><stop offset="0.784" stop-color="#ffff00"/><stop offset="1.000" stop-color="#ffff00"/></linearGradient><rect x="169" y="259" width="95" height="1.6" fill="url(#b3)"/>
<linearGradient id="b4"><stop offset="0.000" stop-color="#ffff00"/><stop offset="0.337" stop-color="#fff900"/><stop offset="0.447" stop-color="#ffcf00"/><stop offset="0.547" stop-color="#ffa500"/><stop offset="0.579" stop-color="#ffb100"/><stop offset="0.632" stop-color="#fff200"/><stop offset="0.700" stop-color="#ffff00"/><stop offset="1.000" stop-color="#ffff00"/></linearGradient><rect x="169" y="260" width="95" height="1.6" fill="url(#b4)"/>
<linearGradient id="b5"><stop offset="0.000" stop-color="#ffff00"/><stop offset="0.316" stop-color="#fff900"/><stop offset="0.400" stop-color="#ffd800"/><stop offset="0.526" stop-color="#ff9500"/><stop offset="0.563" stop-color="#ff9a00"/><stop offset="0.595" stop-color="#ffbf00"/><stop offset="0.632" stop-color="#fff100"/><stop offset="0.700" stop-color="#fffe00"/><stop offset="1.000" stop-color="#ffff00"/></linearGradient><rect x="169" y="261" width="95" height="1.6" fill="url(#b5)"/>
<linearGradient id="b6"><stop offset="0.000" stop-color="#ffff00"/><stop offset="0.311" stop-color="#fff800"/><stop offset="0.379" stop-color="#ffdb00"/><stop offset="0.500" stop-color="#ff8a00"/><stop offset="0.547" stop-color="#ff8800"/><stop offset="0.579" stop-color="#ffa500"/><stop offset="0.626" stop-color="#ffec00"/><stop offset="0.679" stop-color="#fffd00"/><stop offset="1.000" stop-color="#ffff00"/></linearGradient><rect x="169" y="262" width="95" height="1.6" fill="url(#b6)"/>
<linearGradient id="b7"><stop offset="0.000" stop-color="#ffff00"/><stop offset="0.300" stop-color="#fff900"/><stop offset="0.363" stop-color="#ffde00"/><stop offset="0.463" stop-color="#ff8a00"/><stop offset="0.516" stop-color="#ff7800"/><stop offset="0.553" stop-color="#ff8600"/><stop offset="0.589" stop-color="#ffb700"/><stop offset="0.626" stop-color="#ffeb00"/><stop offset="0.684" stop-color="#fffd00"/><stop offset="1.000" stop-color="#ffff00"/></linearGradient><rect x="169" y="263" width="95" height="1.6" fill="url(#b7)"/>
<linearGradient id="b8"><stop offset="0.000" stop-color="#ffff00"/><stop offset="0.295" stop-color="#fff900"/><stop offset="0.353" stop-color="#ffe000"/><stop offset="0.432" stop-color="#ff8b00"/><stop offset="0.489" stop-color="#ff6f00"/><stop offset="0.537" stop-color="#ff7a00"/><stop offset="0.579" stop-color="#ffab00"/><stop offset="0.621" stop-color="#ffe600"/><stop offset="0.674" stop-color="#fffb00"/><stop offset="1.000" stop-color="#ffff00"/></linearGradient><rect x="169" y="264" width="95" height="1.6" fill="url(#b8)"/>
<linearGradient id="b9"><stop offset="0.000" stop-color="#ffff00"/><stop offset="0.289" stop-color="#fff900"/><stop offset="0.342" stop-color="#ffe200"/><stop offset="0.384" stop-color="#ffa900"/><stop offset="0.421" stop-color="#ff7d00"/><stop offset="0.479" stop-color="#ff6800"/><stop offset="0.526" stop-color="#ff7700"/><stop offset="0.574" stop-color="#ffaa00"/><stop offset="0.621" stop-color="#ffe500"/><stop offset="0.684" stop-color="#fffc00"/><stop offset="1.000" stop-color="#ffff00"/></linearGradient><rect x="169" y="265" width="95" height="1.6" fill="url(#b9)"/>
<linearGradient id="b10"><stop offset="0.000" stop-color="#ffff00"/><stop offset="0.289" stop-color="#fff800"/><stop offset="0.337" stop-color="#ffe200"/><stop offset="0.363" stop-color="#ffbd00"/><stop offset="0.400" stop-color="#ff7600"/><stop offset="0.432" stop-color="#ff6300"/><stop offset="0.500" stop-color="#ff6e00"/><stop offset="0.558" stop-color="#ff9e00"/><stop offset="0.621" stop-color="#ffe400"/><stop offset="0.689" stop-color="#fffc00"/><stop offset="1.000" stop-color="#ffff00"/></linearGradient><rect x="169" y="266" width="95" height="1.6" fill="url(#b10)"/>
<linearGradient id="b11"><stop offset="0.000" stop-color="#ffff00"/><stop offset="0.284" stop-color="#fff900"/><stop offset="0.332" stop-color="#ffe300"/><stop offset="0.358" stop-color="#ffba00"/><stop offset="0.395" stop-color="#ff6200"/><stop offset="0.416" stop-color="#ff5100"/><stop offset="0.516" stop-color="#ff8100"/><stop offset="0.626" stop-color="#ffe600"/><stop offset="0.700" stop-color="#fffd00"/><stop offset="1.000" stop-color="#ffff00"/></linearGradient><rect x="169" y="267" width="95" height="1.6" fill="url(#b11)"/>
<linearGradient id="b12"><stop offset="0.000" stop-color="#ffff00"/><stop offset="0.279" stop-color="#fff900"/><stop offset="0.332" stop-color="#ffdf00"/><stop offset="0.353" stop-color="#ffbb00"/><stop offset="0.389" stop-color="#ff5500"/><stop offset="0.405" stop-color="#ff4100"/><stop offset="0.432" stop-color="#ff4f00"/><stop offset="0.511" stop-color="#ff8800"/><stop offset="0.642" stop-color="#ffec00"/><stop offset="0.726" stop-color="#fffe00"/><stop offset="1.000" stop-color="#ffff00"/></linearGradient><rect x="169" y="268" width="95" height="1.6" fill="url(#b12)"/>
<linearGradient id="b13"><stop offset="0.000" stop-color="#ffff00"/><stop offset="0.279" stop-color="#fff800"/><stop offset="0.326" stop-color="#ffe100"/><stop offset="0.347" stop-color="#ffc100"/><stop offset="0.389" stop-color="#ff4a00"/><stop offset="0.405" stop-color="#ff3900"/><stop offset="0.426" stop-color="#ff4a00"/><stop offset="0.468" stop-color="#ff7900"/><stop offset="0.595" stop-color="#ffcb00"/><stop offset="0.668" stop-color="#fff500"/><stop offset="0.800" stop-color="#ffff00"/><stop offset="1.000" stop-color="#ffff00"/></linearGradient><rect x="169" y="269" width="95" height="1.6" fill="url(#b13)"/>
<linearGradient id="b14"><stop offset="0.000" stop-color="#ffff00"/><stop offset="0.274" stop-color="#fff900"/><stop offset="0.326" stop-color="#ffdf00"/><stop offset="0.347" stop-color="#ffbe00"/><stop offset="0.389" stop-color="#ff4e00"/><stop offset="0.405" stop-color="#ff4100"/><stop offset="0.432" stop-color="#ff5d00"/><stop offset="0.468" stop-color="#ff8500"/><stop offset="0.579" stop-color="#ffbc00"/><stop offset="0.663" stop-color="#fff300"/><stop offset="0.763" stop-color="#ffff00"/><stop offset="1.000" stop-color="#ffff00"/></linearGradient><rect x="169" y="270" width="95" height="1.6" fill="url(#b14)"/>
<linearGradient id="b15"><stop offset="0.000" stop-color="#ffff00"/><stop offset="0.274" stop-color="#fff900"/><stop offset="0.326" stop-color="#ffde00"/><stop offset="0.353" stop-color="#ffb300"/><stop offset="0.384" stop-color="#ff6700"/><stop offset="0.400" stop-color="#ff5600"/><stop offset="0.421" stop-color="#ff6100"/><stop offset="0.463" stop-color="#ff8d00"/><stop offset="0.568" stop-color="#ffb000"/><stop offset="0.653" stop-color="#ffed00"/><stop offset="0.732" stop-color="#fffe00"/><stop offset="1.000" stop-color="#ffff00"/></linearGradient><rect x="169" y="271" width="95" height="1.6" fill="url(#b15)"/>
<linearGradient id="b16"><stop offset="0.000" stop-color="#ffff00"/><stop offset="0.268" stop-color="#fff900"/><stop offset="0.326" stop-color="#ffdd00"/><stop offset="0.358" stop-color="#ffad00"/><stop offset="0.389" stop-color="#ff7500"/><stop offset="0.411" stop-color="#ff7000"/><stop offset="0.468" stop-color="#ff9600"/><stop offset="0.558" stop-color="#ffa200"/><stop offset="0.647" stop-color="#ffe900"/><stop offset="0.721" stop-color="#fffe00"/><stop offset="1.000" stop-color="#ffff00"/></linearGradient><rect x="169" y="272" width="95" height="1.6" fill="url(#b16)"/>
<linearGradient id="b17"><stop offset="0.000" stop-color="#ffff00"/><stop offset="0.268" stop-color="#fff900"/><stop offset="0.326" stop-color="#ffdc00"/><stop offset="0.389" stop-color="#ff8b00"/><stop offset="0.421" stop-color="#ff8900"/><stop offset="0.479" stop-color="#ff9700"/><stop offset="0.553" stop-color="#ff9600"/><stop offset="0.632" stop-color="#ffdf00"/><stop offset="0.700" stop-color="#fffb00"/><stop offset="1.000" stop-color="#ffff00"/></linearGradient><rect x="169" y="273" width="95" height="1.6" fill="url(#b17)"/>
<linearGradient id="b18"><stop offset="0.000" stop-color="#ffff00"/><stop offset="0.268" stop-color="#fff900"/><stop offset="0.332" stop-color="#ffd800"/><stop offset="0.389" stop-color="#ff9b00"/><stop offset="0.547" stop-color="#ff8800"/><stop offset="0.579" stop-color="#ffa700"/><stop offset="0.621" stop-color="#ffd600"/><stop offset="0.695" stop-color="#fffa00"/><stop offset="1.000" stop-color="#ffff00"/></linearGradient><rect x="169" y="274" width="95" height="1.6" fill="url(#b18)"/>
<linearGradient id="b19"><stop offset="0.000" stop-color="#ffff00"/><stop offset="0.268" stop-color="#fff900"/><stop offset="0.332" stop-color="#ffd800"/><stop offset="0.400" stop-color="#ff9d00"/><stop offset="0.537" stop-color="#ff7a00"/><stop offset="0.563" stop-color="#ff8c00"/><stop offset="0.611" stop-color="#ffcd00"/><stop offset="0.684" stop-color="#fff700"/><stop offset="0.868" stop-color="#ffff00"/><stop offset="1.000" stop-color="#ffff00"/></linearGradient><rect x="169" y="275" width="95" height="1.6" fill="url(#b19)"/>
<linearGradient id="b20"><stop offset="0.000" stop-color="#ffff00"/><stop offset="0.268" stop-color="#fff900"/><stop offset="0.337" stop-color="#ffd400"/><stop offset="0.416" stop-color="#ff9400"/><stop offset="0.526" stop-color="#ff6f00"/><stop offset="0.558" stop-color="#ff8200"/><stop offset="0.605" stop-color="#ffc800"/><stop offset="0.679" stop-color="#fff500"/><stop offset="0.805" stop-color="#ffff00"/><stop offset="1.000" stop-color="#ffff00"/></linearGradient><rect x="169" y="276" width="95" height="1.6" fill="url(#b20)"/>
<linearGradient id="b21"><stop offset="0.000" stop-color="#ffff00"/><stop offset="0.268" stop-color="#fff900"/><stop offset="0.337" stop-color="#ffd400"/><stop offset="0.426" stop-color="#ff8500"/><stop offset="0.511" stop-color="#ff6800"/><stop offset="0.547" stop-color="#ff7700"/><stop offset="0.605" stop-color="#ffc800"/><stop offset="0.679" stop-color="#fff500"/><stop offset="0.805" stop-color="#ffff00"/><stop offset="1.000" stop-color="#ffff00"/></linearGradient><rect x="169" y="277" width="95" height="1.6" fill="url(#b21)"/>
<linearGradient id="b22"><stop offset="0.000" stop-color="#ffff00"/><stop offset="0.268" stop-color="#fff900"/><stop offset="0.337" stop-color="#ffd500"/><stop offset="0.421" stop-color="#ff7d00"/><stop offset="0.484" stop-color="#ff6700"/><stop offset="0.532" stop-color="#ff6f00"/><stop offset="0.568" stop-color="#ff9900"/><stop offset="0.611" stop-color="#ffce00"/><stop offset="0.684" stop-color="#fff700"/><stop offset="0.868" stop-color="#ffff00"/><stop offset="1.000" stop-color="#ffff00"/></linearGradient><rect x="169" y="278" width="95" height="1.6" fill="url(#b22)"/>
<linearGradient id="b23"><stop offset="0.000" stop-color="#ffff00"/><stop offset="0.268" stop-color="#fff900"/><stop offset="0.337" stop-color="#ffd600"/><stop offset="0.379" stop-color="#ffa300"/><stop offset="0.416" stop-color="#ff7600"/><stop offset="0.468" stop-color="#ff6600"/><stop offset="0.526" stop-color="#ff7500"/><stop offset="0.574" stop-color="#ffa800"/><stop offset="0.621" stop-color="#ffd700"/><stop offset="0.695" stop-color="#fffa00"/><stop offset="1.000" stop-color="#ffff00"/></linearGradient><rect x="169" y="279" width="95" height="1.6" fill="url(#b23)"/>
<linearGradient id="b24"><stop offset="0.000" stop-color="#ffff00"/><stop offset="0.268" stop-color="#fff900"/><stop offset="0.337" stop-color="#ffd700"/><stop offset="0.374" stop-color="#ffa600"/><stop offset="0.411" stop-color="#ff7400"/><stop offset="0.453" stop-color="#ff6800"/><stop offset="0.526" stop-color="#ff8200"/><stop offset="0.626" stop-color="#ffdb00"/><stop offset="0.700" stop-color="#fffb00"/><stop offset="1.000" stop-color="#ffff00"/></linearGradient><rect x="169" y="280" width="95" height="1.6" fill="url(#b24)"/>
<linearGradient id="b25"><stop offset="0.000" stop-color="#ffff00"/><stop offset="0.268" stop-color="#fff900"/><stop offset="0.337" stop-color="#ffd800"/><stop offset="0.368" stop-color="#ffae00"/><stop offset="0.400" stop-color="#ff7d00"/><stop offset="0.437" stop-color="#ff6e00"/><stop offset="0.521" stop-color="#ff8c00"/><stop offset="0.653" stop-color="#ffec00"/><stop offset="0.732" stop-color="#fffe00"/><stop offset="1.000" stop-color="#ffff00"/></linearGradient><rect x="169" y="281" width="95" height="1.6" fill="url(#b25)"/>
<linearGradient id="b26"><stop offset="0.000" stop-color="#ffff00"/><stop offset="0.274" stop-color="#fff900"/><stop offset="0.337" stop-color="#ffd900"/><stop offset="0.374" stop-color="#ffa500"/><stop offset="0.405" stop-color="#ff7e00"/><stop offset="0.447" stop-color="#ff7b00"/><stop offset="0.558" stop-color="#ffaf00"/><stop offset="0.668" stop-color="#fff400"/><stop offset="0.779" stop-color="#ffff00"/><stop offset="1.000" stop-color="#ffff00"/></linearGradient><rect x="169" y="282" width="95" height="1.6" fill="url(#b26)"/>
<linearGradient id="b27"><stop offset="0.000" stop-color="#ffff00"/><stop offset="0.274" stop-color="#fff900"/><stop offset="0.337" stop-color="#ffdb00"/><stop offset="0.400" stop-color="#ff8c00"/><stop offset="0.442" stop-color="#ff8900"/><stop offset="0.568" stop-color="#ffbb00"/><stop offset="0.674" stop-color="#fff600"/><stop offset="0.821" stop-color="#ffff00"/><stop offset="1.000" stop-color="#ffff00"/></linearGradient><rect x="169" y="283" width="95" height="1.6" fill="url(#b27)"/>
<linearGradient id="b28"><stop offset="0.000" stop-color="#ffff00"/><stop offset="0.279" stop-color="#fff800"/><stop offset="0.342" stop-color="#ffda00"/><stop offset="0.400" stop-color="#ff9b00"/><stop offset="0.453" stop-color="#ff9a00"/><stop offset="0.568" stop-color="#ffbf00"/><stop offset="0.674" stop-color="#fff700"/><stop offset="0.853" stop-color="#ffff00"/><stop offset="1.000" stop-color="#ffff00"/></linearGradient><rect x="169" y="284" width="95" height="1.6" fill="url(#b28)"/>
<linearGradient id="b29"><stop offset="0.000" stop-color="#ffff00"/><stop offset="0.279" stop-color="#fff900"/><stop offset="0.347" stop-color="#ffda00"/><stop offset="0.405" stop-color="#ffaa00"/><stop offset="0.479" stop-color="#ffa800"/><stop offset="0.568" stop-color="#ffc100"/><stop offset="0.674" stop-color="#fff800"/><stop offset="0.905" stop-color="#ffff00"/><stop offset="1.000" stop-color="#ffff00"/></linearGradient><rect x="169" y="285" width="95" height="1.6" fill="url(#b29)"/>
<linearGradient id="b30"><stop offset="0.000" stop-color="#ffff00"/><stop offset="0.284" stop-color="#fff900"/><stop offset="0.368" stop-color="#ffd500"/><stop offset="0.432" stop-color="#ffb100"/><stop offset="0.542" stop-color="#ffb700"/><stop offset="0.668" stop-color="#fff700"/><stop offset="0.868" stop-color="#ffff00"/><stop offset="1.000" stop-color="#ffff00"/></linearGradient><rect x="169" y="286" width="95" height="1.6" fill="url(#b30)"/>
<linearGradient id="b31"><stop offset="0.000" stop-color="#ffff00"/><stop offset="0.289" stop-color="#fff800"/><stop offset="0.384" stop-color="#ffde00"/><stop offset="0.437" stop-color="#ffb900"/><stop offset="0.542" stop-color="#ffb600"/><stop offset="0.663" stop-color="#fff700"/><stop offset="0.842" stop-color="#ffff00"/><stop offset="1.000" stop-color="#ffff00"/></linearGradient><rect x="169" y="287" width="95" height="1.6" fill="url(#b31)"/>
<linearGradient id="b32"><stop offset="0.000" stop-color="#ffff00"/><stop offset="0.295" stop-color="#fff800"/><stop offset="0.353" stop-color="#fff700"/><stop offset="0.384" stop-color="#fff300"/><stop offset="0.437" stop-color="#ffc100"/><stop offset="0.542" stop-color="#ffb300"/><stop offset="0.595" stop-color="#ffd200"/><stop offset="0.658" stop-color="#fff600"/><stop offset="0.821" stop-color="#ffff00"/><stop offset="1.000" stop-color="#ffff00"/></linearGradient><rect x="169" y="288" width="95" height="1.6" fill="url(#b32)"/>
<linearGradient id="b33"><stop offset="0.000" stop-color="#ffff00"/><stop offset="0.300" stop-color="#fff900"/><stop offset="0.342" stop-color="#fffc00"/><stop offset="0.379" stop-color="#f7ff08"/><stop offset="0.395" stop-color="#fff900"/><stop offset="0.432" stop-color="#ffcc00"/><stop offset="0.542" stop-color="#ffaf00"/><stop offset="0.584" stop-color="#ffc800"/><stop offset="0.642" stop-color="#fff200"/><stop offset="0.742" stop-color="#ffff00"/><stop offset="1.000" stop-color="#ffff00"/></linearGradient><rect x="169" y="289" width="95" height="1.6" fill="url(#b33)"/>
<linearGradient id="b34"><stop offset="0.000" stop-color="#ffff00"/><stop offset="0.332" stop-color="#fffc00"/><stop offset="0.379" stop-color="#ecff13"/><stop offset="0.400" stop-color="#fffc00"/><stop offset="0.437" stop-color="#ffd100"/><stop offset="0.547" stop-color="#ffaf00"/><stop offset="0.589" stop-color="#ffcd00"/><stop offset="0.642" stop-color="#fff400"/><stop offset="0.758" stop-color="#ffff00"/><stop offset="1.000" stop-color="#ffff00"/></linearGradient><rect x="169" y="290" width="95" height="1.6" fill="url(#b34)"/>
<linearGradient id="b35"><stop offset="0.000" stop-color="#ffff00"/><stop offset="0.342" stop-color="#faff05"/><stop offset="0.374" stop-color="#e8ff17"/><stop offset="0.405" stop-color="#fffa00"/><stop offset="0.442" stop-color="#ffd600"/><stop offset="0.547" stop-color="#ffb300"/><stop offset="0.589" stop-color="#ffd000"/><stop offset="0.642" stop-color="#fff600"/><stop offset="0.784" stop-color="#ffff00"/><stop offset="1.000" stop-color="#ffff00"/></linearGradient><rect x="169" y="291" width="95" height="1.6" fill="url(#b35)"/>
<linearGradient id="b36"><stop offset="0.000" stop-color="#ffff00"/><stop offset="0.342" stop-color="#faff05"/><stop offset="0.379" stop-color="#ecff13"/><stop offset="0.405" stop-color="#fffd00"/><stop offset="0.447" stop-color="#ffde00"/><stop offset="0.547" stop-color="#ffbf00"/><stop offset="0.595" stop-color="#ffdd00"/><stop offset="0.647" stop-color="#fff900"/><stop offset="1.000" stop-color="#ffff00"/></linearGradient><rect x="169" y="292" width="95" height="1.6" fill="url(#b36)"/>
<linearGradient id="b37"><stop offset="0.000" stop-color="#ffff00"/><stop offset="0.342" stop-color="#faff05"/><stop offset="0.384" stop-color="#f1ff0e"/><stop offset="0.416" stop-color="#fff800"/><stop offset="0.542" stop-color="#ffd100"/><stop offset="0.589" stop-color="#ffe400"/><stop offset="0.653" stop-color="#fffc00"/><stop offset="1.000" stop-color="#ffff00"/></linearGradient><rect x="169" y="293" width="95" height="1.6" fill="url(#b37)"/>
<linearGradient id="b38"><stop offset="0.000" stop-color="#ffff00"/><stop offset="0.342" stop-color="#f9ff06"/><stop offset="0.389" stop-color="#f3ff0c"/><stop offset="0.437" stop-color="#fff800"/><stop offset="0.558" stop-color="#ffe700"/><stop offset="0.658" stop-color="#fffe00"/><stop offset="1.000" stop-color="#ffff00"/></linearGradient><rect x="169" y="294" width="95" height="1.6" fill="url(#b38)"/>
<linearGradient id="b39"><stop offset="0.000" stop-color="#ffff00"/><stop offset="0.332" stop-color="#f9ff06"/><stop offset="0.400" stop-color="#f1ff0e"/><stop offset="0.553" stop-color="#fffa00"/><stop offset="1.000" stop-color="#ffff00"/></linearGradient><rect x="169" y="295" width="95" height="1.6" fill="url(#b39)"/>
<linearGradient id="b40"><stop offset="0.000" stop-color="#ffff00"/><stop offset="0.316" stop-color="#f9ff06"/><stop offset="0.411" stop-color="#e8ff17"/><stop offset="0.758" stop-color="#ffff00"/><stop offset="1.000" stop-color="#ffff00"/></linearGradient><rect x="169" y="296" width="95" height="1.6" fill="url(#b40)"/>
<linearGradient id="b41"><stop offset="0.000" stop-color="#ffff00"/><stop offset="0.305" stop-color="#f9ff06"/><stop offset="0.421" stop-color="#daff25"/><stop offset="0.579" stop-color="#e7ff18"/><stop offset="0.695" stop-color="#ffff00"/><stop offset="1.000" stop-color="#ffff00"/></linearGradient><rect x="169" y="297" width="95" height="1.6" fill="url(#b41)"/>
<linearGradient id="b42"><stop offset="0.000" stop-color="#ffff00"/><stop offset="0.300" stop-color="#f9ff06"/><stop offset="0.421" stop-color="#ccff33"/><stop offset="0.558" stop-color="#d4ff2b"/><stop offset="0.679" stop-color="#feff01"/><stop offset="1.000" stop-color="#ffff00"/></linearGradient><rect x="169" y="298" width="95" height="1.6" fill="url(#b42)"/>
<linearGradient id="b43"><stop offset="0.000" stop-color="#ffff00"/><stop offset="0.295" stop-color="#f9ff06"/><stop offset="0.421" stop-color="#beff41"/><stop offset="0.547" stop-color="#c3ff3c"/><stop offset="0.626" stop-color="#e9ff16"/><stop offset="0.679" stop-color="#fdff02"/><stop offset="1.000" stop-color="#ffff00"/></linearGradient><rect x="169" y="299" width="95" height="1.6" fill="url(#b43)"/>
<linearGradient id="b44"><stop offset="0.000" stop-color="#ffff00"/><stop offset="0.289" stop-color="#f9ff06"/><stop offset="0.358" stop-color="#d4ff2b"/><stop offset="0.421" stop-color="#b2ff4d"/><stop offset="0.542" stop-color="#b4ff4b"/><stop offset="0.605" stop-color="#d0ff2f"/><stop offset="0.658" stop-color="#f8ff07"/><stop offset="0.879" stop-color="#ffff00"/><stop offset="1.000" stop-color="#ffff00"/></linearGradient><rect x="169" y="300" width="95" height="1.6" fill="url(#b44)"/>
<linearGradient id="b45"><stop offset="0.000" stop-color="#ffff00"/><stop offset="0.289" stop-color="#f9ff06"/><stop offset="0.353" stop-color="#d2ff2d"/><stop offset="0.416" stop-color="#a8ff57"/><stop offset="0.537" stop-color="#a4ff5b"/><stop offset="0.589" stop-color="#b5ff4a"/><stop offset="0.653" stop-color="#f5ff0a"/><stop offset="0.742" stop-color="#ffff00"/><stop offset="1.000" stop-color="#ffff00"/></linearGradient><rect x="169" y="301" width="95" height="1.6" fill="url(#b45)"/>
<linearGradient id="b46"><stop offset="0.000" stop-color="#ffff00"/><stop offset="0.284" stop-color="#faff05"/><stop offset="0.342" stop-color="#d8ff27"/><stop offset="0.411" stop-color="#a1ff5e"/><stop offset="0.511" stop-color="#95ff6a"/><stop offset="0.574" stop-color="#99ff66"/><stop offset="0.605" stop-color="#bbff44"/><stop offset="0.642" stop-color="#edff12"/><stop offset="0.689" stop-color="#feff01"/><stop offset="1.000" stop-color="#ffff00"/></linearGradient><rect x="169" y="302" width="95" height="1.6" fill="url(#b46)"/>
<linearGradient id="b47"><stop offset="0.000" stop-color="#ffff00"/><stop offset="0.284" stop-color="#f9ff06"/><stop offset="0.337" stop-color="#daff25"/><stop offset="0.411" stop-color="#99ff66"/><stop offset="0.563" stop-color="#80ff7f"/><stop offset="0.589" stop-color="#98ff67"/><stop offset="0.637" stop-color="#e7ff18"/><stop offset="0.679" stop-color="#fcff03"/><stop offset="1.000" stop-color="#ffff00"/></linearGradient><rect x="169" y="303" width="95" height="1.6" fill="url(#b47)"/>
<linearGradient id="b48"><stop offset="0.000" stop-color="#ffff00"/><stop offset="0.284" stop-color="#f9ff06"/><stop offset="0.337" stop-color="#d8ff27"/><stop offset="0.411" stop-color="#93ff6c"/><stop offset="0.526" stop-color="#70ff8f"/><stop offset="0.563" stop-color="#6cff93"/><stop offset="0.589" stop-color="#8fff70"/><stop offset="0.632" stop-color="#e1ff1e"/><stop offset="0.668" stop-color="#faff05"/><stop offset="1.000" stop-color="#ffff00"/></linearGradient><rect x="169" y="304" width="95" height="1.6" fill="url(#b48)"/>
<linearGradient id="b49"><stop offset="0.000" stop-color="#ffff00"/><stop offset="0.284" stop-color="#f9ff06"/><stop offset="0.337" stop-color="#d6ff29"/><stop offset="0.411" stop-color="#8fff70"/><stop offset="0.505" stop-color="#69ff96"/><stop offset="0.547" stop-color="#54ffab"/><stop offset="0.568" stop-color="#63ff9c"/><stop offset="0.600" stop-color="#a6ff59"/><stop offset="0.626" stop-color="#dbff24"/><stop offset="0.658" stop-color="#f6ff09"/><stop offset="0.784" stop-color="#ffff00"/><stop offset="1.000" stop-color="#ffff00"/></linearGradient><rect x="169" y="305" width="95" height="1.6" fill="url(#b49)"/>
<linearGradient id="b50"><stop offset="0.000" stop-color="#ffff00"/><stop offset="0.279" stop-color="#faff05"/><stop offset="0.332" stop-color="#daff25"/><stop offset="0.411" stop-color="#8bff74"/><stop offset="0.495" stop-color="#5fffa0"/><stop offset="0.537" stop-color="#42ffbd"/><stop offset="0.558" stop-color="#4dffb2"/><stop offset="0.584" stop-color="#82ff7d"/><stop offset="0.616" stop-color="#cdff32"/><stop offset="0.647" stop-color="#f1ff0e"/><stop offset="0.716" stop-color="#ffff00"/><stop offset="1.000" stop-color="#ffff00"/></linearGradient><rect x="169" y="306" width="95" height="1.6" fill="url(#b50)"/>
<linearGradient id="b51"><stop offset="0.000" stop-color="#ffff00"/><stop offset="0.279" stop-color="#faff05"/><stop offset="0.326" stop-color="#dfff20"/><stop offset="0.411" stop-color="#89ff76"/><stop offset="0.484" stop-color="#57ffa8"/><stop offset="0.526" stop-color="#34ffcb"/><stop offset="0.547" stop-color="#3cffc3"/><stop offset="0.574" stop-color="#6eff91"/><stop offset="0.611" stop-color="#c7ff38"/><stop offset="0.642" stop-color="#eeff11"/><stop offset="0.705" stop-color="#feff01"/><stop offset="1.000" stop-color="#ffff00"/></linearGradient><rect x="169" y="307" width="95" height="1.6" fill="url(#b51)"/>
<linearGradient id="b52"><stop offset="0.000" stop-color="#ffff00"/><stop offset="0.279" stop-color="#faff05"/><stop offset="0.326" stop-color="#dfff20"/><stop offset="0.421" stop-color="#7dff82"/><stop offset="0.516" stop-color="#2affd5"/><stop offset="0.537" stop-color="#31ffce"/><stop offset="0.563" stop-color="#5fffa0"/><stop offset="0.605" stop-color="#c3ff3c"/><stop offset="0.637" stop-color="#ebff14"/><stop offset="0.695" stop-color="#feff01"/><stop offset="1.000" stop-color="#ffff00"/></linearGradient><rect x="169" y="308" width="95" height="1.6" fill="url(#b52)"/>
<linearGradient id="b53"><stop offset="0.000" stop-color="#ffff00"/><stop offset="0.279" stop-color="#faff05"/><stop offset="0.326" stop-color="#dfff20"/><stop offset="0.495" stop-color="#29ffd6"/><stop offset="0.521" stop-color="#26ffd9"/><stop offset="0.547" stop-color="#4affb5"/><stop offset="0.600" stop-color="#bfff40"/><stop offset="0.637" stop-color="#ebff14"/><stop offset="0.695" stop-color="#feff01"/><stop offset="1.000" stop-color="#ffff00"/></linearGradient><rect x="169" y="309" width="95" height="1.6" fill="url(#b53)"/>
<linearGradient id="b54"><stop offset="0.000" stop-color="#ffff00"/><stop offset="0.279" stop-color="#faff05"/><stop offset="0.326" stop-color="#dfff20"/><stop offset="0.479" stop-color="#28ffd7"/><stop offset="0.505" stop-color="#22ffdd"/><stop offset="0.532" stop-color="#3cffc3"/><stop offset="0.600" stop-color="#c3ff3c"/><stop offset="0.642" stop-color="#efff10"/><stop offset="0.705" stop-color="#feff01"/><stop offset="1.000" stop-color="#ffff00"/></linearGradient><rect x="169" y="310" width="95" height="1.6" fill="url(#b54)"/>
<linearGradient id="b55"><stop offset="0.000" stop-color="#ffff00"/><stop offset="0.279" stop-color="#faff05"/><stop offset="0.326" stop-color="#dfff20"/><stop offset="0.395" stop-color="#88ff77"/><stop offset="0.453" stop-color="#32ffcd"/><stop offset="0.484" stop-color="#20ffdf"/><stop offset="0.511" stop-color="#2fffd0"/><stop offset="0.553" stop-color="#75ff8a"/><stop offset="0.600" stop-color="#c6ff39"/><stop offset="0.647" stop-color="#f2ff0d"/><stop offset="0.721" stop-color="#ffff00"/><stop offset="1.000" stop-color="#ffff00"/></linearGradient><rect x="169" y="311" width="95" height="1.6" fill="url(#b55)"/>
<linearGradient id="b56"><stop offset="0.000" stop-color="#ffff00"/><stop offset="0.279" stop-color="#faff05"/><stop offset="0.326" stop-color="#dfff20"/><stop offset="0.379" stop-color="#9bff64"/><stop offset="0.437" stop-color="#36ffc9"/><stop offset="0.463" stop-color="#22ffdd"/><stop offset="0.495" stop-color="#2effd1"/><stop offset="0.547" stop-color="#7aff85"/><stop offset="0.611" stop-color="#d4ff2b"/><stop offset="0.658" stop-color="#f7ff08"/><stop offset="0.795" stop-color="#ffff00"/><stop offset="1.000" stop-color="#ffff00"/></linearGradient><rect x="169" y="312" width="95" height="1.6" fill="url(#b56)"/>
<linearGradient id="b57"><stop offset="0.000" stop-color="#ffff00"/><stop offset="0.284" stop-color="#f9ff06"/><stop offset="0.332" stop-color="#daff25"/><stop offset="0.374" stop-color="#9fff60"/><stop offset="0.426" stop-color="#37ffc8"/><stop offset="0.453" stop-color="#24ffdb"/><stop offset="0.484" stop-color="#35ffca"/><stop offset="0.621" stop-color="#e0ff1f"/><stop offset="0.674" stop-color="#fbff04"/><stop offset="1.000" stop-color="#ffff00"/></linearGradient><rect x="169" y="313" width="95" height="1.6" fill="url(#b57)"/>
<linearGradient id="b58"><stop offset="0.000" stop-color="#ffff00"/><stop offset="0.284" stop-color="#f9ff06"/><stop offset="0.332" stop-color="#dbff24"/><stop offset="0.368" stop-color="#a3ff5c"/><stop offset="0.416" stop-color="#3effc1"/><stop offset="0.437" stop-color="#2affd5"/><stop offset="0.463" stop-color="#34ffcb"/><stop offset="0.632" stop-color="#e9ff16"/><stop offset="0.689" stop-color="#feff01"/><stop offset="1.000" stop-color="#ffff00"/></linearGradient><rect x="169" y="314" width="95" height="1.6" fill="url(#b58)"/>
<linearGradient id="b59"><stop offset="0.000" stop-color="#ffff00"/><stop offset="0.284" stop-color="#faff05"/><stop offset="0.332" stop-color="#dcff23"/><stop offset="0.363" stop-color="#aaff55"/><stop offset="0.405" stop-color="#4bffb4"/><stop offset="0.426" stop-color="#35ffca"/><stop offset="0.453" stop-color="#3effc1"/><stop offset="0.537" stop-color="#8dff72"/><stop offset="0.637" stop-color="#eeff11"/><stop offset="0.700" stop-color="#ffff00"/><stop offset="1.000" stop-color="#ffff00"/></linearGradient><rect x="169" y="315" width="95" height="1.6" fill="url(#b59)"/>
<linearGradient id="b60"><stop offset="0.000" stop-color="#ffff00"/><stop offset="0.284" stop-color="#faff05"/><stop offset="0.326" stop-color="#e2ff1d"/><stop offset="0.358" stop-color="#b2ff4d"/><stop offset="0.400" stop-color="#55ffaa"/><stop offset="0.421" stop-color="#43ffbc"/><stop offset="0.453" stop-color="#56ffa9"/><stop offset="0.511" stop-color="#86ff79"/><stop offset="0.574" stop-color="#b4ff4b"/><stop offset="0.642" stop-color="#f2ff0d"/><stop offset="0.716" stop-color="#ffff00"/><stop offset="1.000" stop-color="#ffff00"/></linearGradient><rect x="169" y="316" width="95" height="1.6" fill="url(#b60)"/>
<linearGradient id="b61"><stop offset="0.000" stop-color="#ffff00"/><stop offset="0.289" stop-color="#faff05"/><stop offset="0.332" stop-color="#deff21"/><stop offset="0.363" stop-color="#a6ff59"/><stop offset="0.395" stop-color="#66ff99"/><stop offset="0.416" stop-color="#58ffa7"/><stop offset="0.458" stop-color="#75ff8a"/><stop offset="0.521" stop-color="#97ff68"/><stop offset="0.579" stop-color="#bfff40"/><stop offset="0.642" stop-color="#f4ff0b"/><stop offset="0.716" stop-color="#ffff00"/><stop offset="1.000" stop-color="#ffff00"/></linearGradient><rect x="169" y="317" width="95" height="1.6" fill="url(#b61)"/>
<linearGradient id="b62"><stop offset="0.000" stop-color="#ffff00"/><stop offset="0.295" stop-color="#faff05"/><stop offset="0.332" stop-color="#e1ff1e"/><stop offset="0.389" stop-color="#7bff84"/><stop offset="0.416" stop-color="#71ff8e"/><stop offset="0.489" stop-color="#9bff64"/><stop offset="0.558" stop-color="#b5ff4a"/><stop offset="0.642" stop-color="#f6ff09"/><stop offset="0.726" stop-color="#fffe00"/><stop offset="1.000" stop-color="#ffff00"/></linearGradient><rect x="169" y="318" width="95" height="1.6" fill="url(#b62)"/>
<linearGradient id="b63"><stop offset="0.000" stop-color="#ffff00"/><stop offset="0.300" stop-color="#fbff04"/><stop offset="0.337" stop-color="#deff21"/><stop offset="0.384" stop-color="#94ff6b"/><stop offset="0.411" stop-color="#8cff73"/><stop offset="0.489" stop-color="#abff54"/><stop offset="0.553" stop-color="#bcff43"/><stop offset="0.642" stop-color="#f9ff06"/><stop offset="0.816" stop-color="#ffff00"/><stop offset="1.000" stop-color="#ffff00"/></linearGradient><rect x="169" y="319" width="95" height="1.6" fill="url(#b63)"/>
<linearGradient id="b64"><stop offset="0.000" stop-color="#ffff00"/><stop offset="0.311" stop-color="#faff05"/><stop offset="0.347" stop-color="#d6ff29"/><stop offset="0.384" stop-color="#abff54"/><stop offset="0.421" stop-color="#acff53"/><stop offset="0.500" stop-color="#bdff42"/><stop offset="0.558" stop-color="#cdff32"/><stop offset="0.637" stop-color="#fbff04"/><stop offset="1.000" stop-color="#ffff00"/></linearGradient><rect x="169" y="320" width="95" height="1.6" fill="url(#b64)"/>
<linearGradient id="b65"><stop offset="0.000" stop-color="#ffff00"/><stop offset="0.316" stop-color="#fcff03"/><stop offset="0.384" stop-color="#c4ff3b"/><stop offset="0.547" stop-color="#d8ff27"/><stop offset="0.621" stop-color="#fdff02"/><stop offset="1.000" stop-color="#ffff00"/></linearGradient><rect x="169" y="321" width="95" height="1.6" fill="url(#b65)"/>
<linearGradient id="b66"><stop offset="0.000" stop-color="#ffff00"/><stop offset="0.316" stop-color="#fffc00"/><stop offset="0.384" stop-color="#dcff23"/><stop offset="0.537" stop-color="#eaff15"/><stop offset="0.584" stop-color="#fff900"/><stop offset="1.000" stop-color="#ffff00"/></linearGradient><rect x="169" y="322" width="95" height="1.6" fill="url(#b66)"/>
<linearGradient id="b67"><stop offset="0.000" stop-color="#ffff00"/><stop offset="0.263" stop-color="#fff700"/><stop offset="0.326" stop-color="#fff900"/><stop offset="0.405" stop-color="#f3ff0c"/><stop offset="0.532" stop-color="#fff900"/><stop offset="0.584" stop-color="#ffdb00"/><stop offset="0.642" stop-color="#fff300"/><stop offset="0.884" stop-color="#ffff00"/><stop offset="1.000" stop-color="#ffff00"/></linearGradient><rect x="169" y="323" width="95" height="1.6" fill="url(#b67)"/>
<linearGradient id="b68"><stop offset="0.000" stop-color="#ffff00"/><stop offset="0.247" stop-color="#fff700"/><stop offset="0.332" stop-color="#fff100"/><stop offset="0.432" stop-color="#fff400"/><stop offset="0.516" stop-color="#ffde00"/><stop offset="0.579" stop-color="#ffb700"/><stop offset="0.600" stop-color="#ffc700"/><stop offset="0.632" stop-color="#ffeb00"/><stop offset="0.800" stop-color="#ffff00"/><stop offset="1.000" stop-color="#ffff00"/></linearGradient><rect x="169" y="324" width="95" height="1.6" fill="url(#b68)"/>
<linearGradient id="b69"><stop offset="0.000" stop-color="#ffff00"/><stop offset="0.237" stop-color="#fff700"/><stop offset="0.353" stop-color="#ffe700"/><stop offset="0.458" stop-color="#ffd700"/><stop offset="0.532" stop-color="#ffa800"/><stop offset="0.574" stop-color="#ff8b00"/><stop offset="0.589" stop-color="#ff9800"/><stop offset="0.621" stop-color="#ffda00"/><stop offset="0.658" stop-color="#ffeb00"/><stop offset="0.800" stop-color="#ffff00"/><stop offset="1.000" stop-color="#ffff00"/></linearGradient><rect x="169" y="325" width="95" height="1.6" fill="url(#b69)"/>
<linearGradient id="b70"><stop offset="0.000" stop-color="#ffff00"/><stop offset="0.232" stop-color="#fff700"/><stop offset="0.437" stop-color="#ffc300"/><stop offset="0.526" stop-color="#ff7d00"/><stop offset="0.568" stop-color="#ff5a00"/><stop offset="0.584" stop-color="#ff6900"/><stop offset="0.616" stop-color="#ffc600"/><stop offset="0.637" stop-color="#ffe000"/><stop offset="0.763" stop-color="#fffd00"/><stop offset="1.000" stop-color="#ffff00"/></linearGradient><rect x="169" y="326" width="95" height="1.6" fill="url(#b70)"/>
<linearGradient id="b71"><stop offset="0.000" stop-color="#ffff00"/><stop offset="0.226" stop-color="#fff600"/><stop offset="0.405" stop-color="#ffb900"/><stop offset="0.505" stop-color="#ff6200"/><stop offset="0.563" stop-color="#ff2600"/><stop offset="0.579" stop-color="#ff3700"/><stop offset="0.595" stop-color="#ff6f00"/><stop offset="0.611" stop-color="#ffaf00"/><stop offset="0.626" stop-color="#ffd100"/><stop offset="0.700" stop-color="#fff100"/><stop offset="0.837" stop-color="#ffff00"/><stop offset="1.000" stop-color="#ffff00"/></linearGradient><rect x="169" y="327" width="95" height="1.6" fill="url(#b71)"/>
<linearGradient id="b72"><stop offset="0.000" stop-color="#ffff00"/><stop offset="0.221" stop-color="#fff600"/><stop offset="0.368" stop-color="#ffba00"/><stop offset="0.489" stop-color="#ff4700"/><stop offset="0.547" stop-color="#fa0000"/><stop offset="0.563" stop-color="#f50000"/><stop offset="0.574" stop-color="#ff0800"/><stop offset="0.589" stop-color="#ff4800"/><stop offset="0.611" stop-color="#ffa800"/><stop offset="0.626" stop-color="#ffcb00"/><stop offset="0.695" stop-color="#ffed00"/><stop offset="0.811" stop-color="#fffe00"/><stop offset="1.000" stop-color="#ffff00"/></linearGradient><rect x="169" y="328" width="95" height="1.6" fill="url(#b72)"/>
<linearGradient id="b73"><stop offset="0.000" stop-color="#ffff00"/><stop offset="0.216" stop-color="#fff600"/><stop offset="0.332" stop-color="#ffc600"/><stop offset="0.384" stop-color="#ff9400"/><stop offset="0.505" stop-color="#ff0900"/><stop offset="0.516" stop-color="#f70000"/><stop offset="0.542" stop-color="#cf0000"/><stop offset="0.558" stop-color="#cf0000"/><stop offset="0.574" stop-color="#f70000"/><stop offset="0.579" stop-color="#ff0f00"/><stop offset="0.605" stop-color="#ff9100"/><stop offset="0.621" stop-color="#ffbd00"/><stop offset="0.653" stop-color="#ffd900"/><stop offset="0.753" stop-color="#fffa00"/><stop offset="1.000" stop-color="#ffff00"/></linearGradient><rect x="169" y="329" width="95" height="1.6" fill="url(#b73)"/>
<linearGradient id="b74"><stop offset="0.000" stop-color="#ffff00"/><stop offset="0.211" stop-color="#fff700"/><stop offset="0.316" stop-color="#ffca00"/><stop offset="0.353" stop-color="#ffa800"/><stop offset="0.421" stop-color="#ff4300"/><stop offset="0.484" stop-color="#fc0000"/><stop offset="0.532" stop-color="#b10000"/><stop offset="0.547" stop-color="#b20000"/><stop offset="0.563" stop-color="#d30000"/><stop offset="0.574" stop-color="#fd0000"/><stop offset="0.605" stop-color="#ff8f00"/><stop offset="0.621" stop-color="#ffb800"/><stop offset="0.653" stop-color="#ffd500"/><stop offset="0.747" stop-color="#fff900"/><stop offset="1.000" stop-color="#ffff00"/></linearGradient><rect x="169" y="330" width="95" height="1.6" fill="url(#b74)"/>
<linearGradient id="b75"><stop offset="0.000" stop-color="#ffff00"/><stop offset="0.205" stop-color="#fff700"/><stop offset="0.300" stop-color="#ffcf00"/><stop offset="0.337" stop-color="#ffb100"/><stop offset="0.400" stop-color="#ff3e00"/><stop offset="0.458" stop-color="#fd0000"/><stop offset="0.516" stop-color="#a20000"/><stop offset="0.532" stop-color="#9f0000"/><stop offset="0.547" stop-color="#b50000"/><stop offset="0.568" stop-color="#f80000"/><stop offset="0.584" stop-color="#ff3c00"/><stop offset="0.605" stop-color="#ff8d00"/><stop offset="0.626" stop-color="#ffbd00"/><stop offset="0.689" stop-color="#ffe600"/><stop offset="0.784" stop-color="#fffd00"/><stop offset="1.000" stop-color="#ffff00"/></linearGradient><rect x="169" y="331" width="95" height="1.6" fill="url(#b75)"/>
<linearGradient id="b76"><stop offset="0.000" stop-color="#ffff00"/><stop offset="0.205" stop-color="#fff700"/><stop offset="0.300" stop-color="#ffcd00"/><stop offset="0.332" stop-color="#ffb100"/><stop offset="0.368" stop-color="#ff5f00"/><stop offset="0.400" stop-color="#ff2500"/><stop offset="0.437" stop-color="#fa0000"/><stop offset="0.495" stop-color="#9d0000"/><stop offset="0.516" stop-color="#970000"/><stop offset="0.537" stop-color="#b40000"/><stop offset="0.563" stop-color="#fc0000"/><stop offset="0.611" stop-color="#ff9a00"/><stop offset="0.632" stop-color="#ffc000"/><stop offset="0.721" stop-color="#fff100"/><stop offset="0.847" stop-color="#ffff00"/><stop offset="1.000" stop-color="#ffff00"/></linearGradient><rect x="169" y="332" width="95" height="1.6" fill="url(#b76)"/>
<linearGradient id="b77"><stop offset="0.000" stop-color="#ffff00"/><stop offset="0.205" stop-color="#fff600"/><stop offset="0.295" stop-color="#ffce00"/><stop offset="0.326" stop-color="#ffb300"/><stop offset="0.353" stop-color="#ff7900"/><stop offset="0.384" stop-color="#ff2b00"/><stop offset="0.416" stop-color="#fb0000"/><stop offset="0.479" stop-color="#960000"/><stop offset="0.500" stop-color="#950000"/><stop offset="0.526" stop-color="#bc0000"/><stop offset="0.558" stop-color="#ff0200"/><stop offset="0.595" stop-color="#ff6a00"/><stop offset="0.616" stop-color="#ffa500"/><stop offset="0.642" stop-color="#ffc700"/><stop offset="0.732" stop-color="#fff300"/><stop offset="0.879" stop-color="#ffff00"/><stop offset="1.000" stop-color="#ffff00"/></linearGradient><rect x="169" y="333" width="95" height="1.6" fill="url(#b77)"/>
<linearGradient id="b78"><stop offset="0.000" stop-color="#ffff00"/><stop offset="0.200" stop-color="#fff700"/><stop offset="0.289" stop-color="#ffd000"/><stop offset="0.326" stop-color="#ffb000"/><stop offset="0.353" stop-color="#ff6f00"/><stop offset="0.384" stop-color="#ff1d00"/><stop offset="0.400" stop-color="#fe0000"/><stop offset="0.453" stop-color="#9c0000"/><stop offset="0.474" stop-color="#900000"/><stop offset="0.500" stop-color="#ab0000"/><stop offset="0.547" stop-color="#fd0000"/><stop offset="0.579" stop-color="#ff3d00"/><stop offset="0.616" stop-color="#ffa500"/><stop offset="0.642" stop-color="#ffc600"/><stop offset="0.732" stop-color="#fff300"/><stop offset="0.874" stop-color="#ffff00"/><stop offset="1.000" stop-color="#ffff00"/></linearGradient><rect x="169" y="334" width="95" height="1.6" fill="url(#b78)"/>
<linearGradient id="b79"><stop offset="0.000" stop-color="#ffff00"/><stop offset="0.200" stop-color="#fff700"/><stop offset="0.289" stop-color="#ffd000"/><stop offset="0.326" stop-color="#ffae00"/><stop offset="0.353" stop-color="#ff6a00"/><stop offset="0.389" stop-color="#ff0100"/><stop offset="0.426" stop-color="#a90000"/><stop offset="0.447" stop-color="#910000"/><stop offset="0.468" stop-color="#990000"/><stop offset="0.532" stop-color="#f80000"/><stop offset="0.553" stop-color="#ff1100"/><stop offset="0.579" stop-color="#ff4200"/><stop offset="0.616" stop-color="#ffa600"/><stop offset="0.642" stop-color="#ffc600"/><stop offset="0.732" stop-color="#fff300"/><stop offset="0.874" stop-color="#ffff00"/><stop offset="1.000" stop-color="#ffff00"/></linearGradient><rect x="169" y="335" width="95" height="1.6" fill="url(#b79)"/>
<linearGradient id="b80"><stop offset="0.000" stop-color="#ffff00"/><stop offset="0.200" stop-color="#fff700"/><stop offset="0.289" stop-color="#ffd000"/><stop offset="0.321" stop-color="#ffb600"/><stop offset="0.342" stop-color="#ff8800"/><stop offset="0.384" stop-color="#fc0000"/><stop offset="0.411" stop-color="#ad0000"/><stop offset="0.426" stop-color="#950000"/><stop offset="0.447" stop-color="#980000"/><stop offset="0.511" stop-color="#f40000"/><stop offset="0.537" stop-color="#ff0b00"/><stop offset="0.568" stop-color="#ff3400"/><stop offset="0.616" stop-color="#ffa900"/><stop offset="0.647" stop-color="#ffca00"/><stop offset="0.737" stop-color="#fff500"/><stop offset="0.900" stop-color="#ffff00"/><stop offset="1.000" stop-color="#ffff00"/></linearGradient><rect x="169" y="336" width="95" height="1.6" fill="url(#b80)"/>
<linearGradient id="b81"><stop offset="0.000" stop-color="#ffff00"/><stop offset="0.205" stop-color="#fff600"/><stop offset="0.295" stop-color="#ffce00"/><stop offset="0.326" stop-color="#ffaf00"/><stop offset="0.347" stop-color="#ff7800"/><stop offset="0.379" stop-color="#fd0000"/><stop offset="0.400" stop-color="#b30000"/><stop offset="0.416" stop-color="#9b0000"/><stop offset="0.437" stop-color="#a50000"/><stop offset="0.489" stop-color="#f30000"/><stop offset="0.516" stop-color="#ff0900"/><stop offset="0.558" stop-color="#ff3200"/><stop offset="0.595" stop-color="#ff8300"/><stop offset="0.621" stop-color="#ffb500"/><stop offset="0.705" stop-color="#ffea00"/><stop offset="0.805" stop-color="#fffe00"/><stop offset="1.000" stop-color="#ffff00"/></linearGradient><rect x="169" y="337" width="95" height="1.6" fill="url(#b81)"/>
<linearGradient id="b82"><stop offset="0.000" stop-color="#ffff00"/><stop offset="0.205" stop-color="#fff700"/><stop offset="0.295" stop-color="#ffd000"/><stop offset="0.326" stop-color="#ffb100"/><stop offset="0.347" stop-color="#ff7900"/><stop offset="0.374" stop-color="#ff0900"/><stop offset="0.384" stop-color="#db0000"/><stop offset="0.400" stop-color="#b10000"/><stop offset="0.416" stop-color="#ad0000"/><stop offset="0.474" stop-color="#fa0000"/><stop offset="0.537" stop-color="#ff2c00"/><stop offset="0.574" stop-color="#ff6600"/><stop offset="0.611" stop-color="#ffad00"/><stop offset="0.663" stop-color="#ffd600"/><stop offset="0.753" stop-color="#fff900"/><stop offset="1.000" stop-color="#ffff00"/></linearGradient><rect x="169" y="338" width="95" height="1.6" fill="url(#b82)"/>
<linearGradient id="b83"><stop offset="0.000" stop-color="#ffff00"/><stop offset="0.205" stop-color="#fff700"/><stop offset="0.300" stop-color="#ffcf00"/><stop offset="0.326" stop-color="#ffb400"/><stop offset="0.347" stop-color="#ff7b00"/><stop offset="0.374" stop-color="#ff0700"/><stop offset="0.389" stop-color="#d20000"/><stop offset="0.405" stop-color="#c80000"/><stop offset="0.453" stop-color="#ff0000"/><stop offset="0.532" stop-color="#ff4100"/><stop offset="0.611" stop-color="#ffb500"/><stop offset="0.705" stop-color="#ffec00"/><stop offset="0.811" stop-color="#fffe00"/><stop offset="1.000" stop-color="#ffff00"/></linearGradient><rect x="169" y="339" width="95" height="1.6" fill="url(#b83)"/>
<linearGradient id="b84"><stop offset="0.000" stop-color="#ffff00"/><stop offset="0.211" stop-color="#fff700"/><stop offset="0.305" stop-color="#ffcf00"/><stop offset="0.326" stop-color="#ffb800"/><stop offset="0.342" stop-color="#ff9100"/><stop offset="0.379" stop-color="#ff0100"/><stop offset="0.395" stop-color="#ea0000"/><stop offset="0.426" stop-color="#ff0300"/><stop offset="0.526" stop-color="#ff5a00"/><stop offset="0.605" stop-color="#ffb700"/><stop offset="0.711" stop-color="#ffef00"/><stop offset="0.832" stop-color="#ffff00"/><stop offset="1.000" stop-color="#ffff00"/></linearGradient><rect x="169" y="340" width="95" height="1.6" fill="url(#b84)"/>
<linearGradient id="b85"><stop offset="0.000" stop-color="#ffff00"/><stop offset="0.216" stop-color="#fff600"/><stop offset="0.311" stop-color="#ffcf00"/><stop offset="0.332" stop-color="#ffb200"/><stop offset="0.353" stop-color="#ff7100"/><stop offset="0.374" stop-color="#ff2700"/><stop offset="0.389" stop-color="#ff1100"/><stop offset="0.426" stop-color="#ff2300"/><stop offset="0.521" stop-color="#ff7600"/><stop offset="0.600" stop-color="#ffbb00"/><stop offset="0.721" stop-color="#fff400"/><stop offset="0.879" stop-color="#ffff00"/><stop offset="1.000" stop-color="#ffff00"/></linearGradient><rect x="169" y="341" width="95" height="1.6" fill="url(#b85)"/>
<linearGradient id="b86"><stop offset="0.000" stop-color="#ffff00"/><stop offset="0.221" stop-color="#fff600"/><stop offset="0.311" stop-color="#ffd300"/><stop offset="0.332" stop-color="#ffb800"/><stop offset="0.368" stop-color="#ff4d00"/><stop offset="0.384" stop-color="#ff3600"/><stop offset="0.416" stop-color="#ff3d00"/><stop offset="0.553" stop-color="#ffaa00"/><stop offset="0.711" stop-color="#fff200"/><stop offset="0.858" stop-color="#ffff00"/><stop offset="1.000" stop-color="#ffff00"/></linearGradient><rect x="169" y="342" width="95" height="1.6" fill="url(#b86)"/>
<linearGradient id="b87"><stop offset="0.000" stop-color="#ffff00"/><stop offset="0.226" stop-color="#fff700"/><stop offset="0.316" stop-color="#ffd500"/><stop offset="0.337" stop-color="#ffb400"/><stop offset="0.368" stop-color="#ff6700"/><stop offset="0.389" stop-color="#ff5700"/><stop offset="0.437" stop-color="#ff7400"/><stop offset="0.516" stop-color="#ffac00"/><stop offset="0.732" stop-color="#fff800"/><stop offset="1.000" stop-color="#ffff00"/></linearGradient><rect x="169" y="343" width="95" height="1.6" fill="url(#b87)"/>
<linearGradient id="b88"><stop offset="0.000" stop-color="#ffff00"/><stop offset="0.232" stop-color="#fff700"/><stop offset="0.316" stop-color="#ffdb00"/><stop offset="0.342" stop-color="#ffb400"/><stop offset="0.368" stop-color="#ff8400"/><stop offset="0.395" stop-color="#ff7f00"/><stop offset="0.484" stop-color="#ffba00"/><stop offset="0.658" stop-color="#ffe700"/><stop offset="0.779" stop-color="#fffe00"/><stop offset="1.000" stop-color="#ffff00"/></linearGradient><rect x="169" y="344" width="95" height="1.6" fill="url(#b88)"/>
<linearGradient id="b89"><stop offset="0.000" stop-color="#ffff00"/><stop offset="0.242" stop-color="#fff700"/><stop offset="0.321" stop-color="#ffdf00"/><stop offset="0.368" stop-color="#ffa600"/><stop offset="0.400" stop-color="#ffad00"/><stop offset="0.468" stop-color="#ffd400"/><stop offset="0.632" stop-color="#ffe500"/><stop offset="0.774" stop-color="#fffe00"/><stop offset="1.000" stop-color="#ffff00"/></linearGradient><rect x="169" y="345" width="95" height="1.6" fill="url(#b89)"/>
<linearGradient id="b90"><stop offset="0.000" stop-color="#ffff00"/><stop offset="0.258" stop-color="#fff700"/><stop offset="0.326" stop-color="#ffe500"/><stop offset="0.363" stop-color="#ffc900"/><stop offset="0.405" stop-color="#ffdb00"/><stop offset="0.468" stop-color="#fff300"/><stop offset="0.632" stop-color="#ffed00"/><stop offset="0.816" stop-color="#ffff00"/><stop offset="1.000" stop-color="#ffff00"/></linearGradient><rect x="169" y="346" width="95" height="1.6" fill="url(#b90)"/>
<linearGradient id="b91"><stop offset="0.000" stop-color="#ffff00"/><stop offset="0.311" stop-color="#fff500"/><stop offset="0.363" stop-color="#ffea00"/><stop offset="0.411" stop-color="#faff05"/><stop offset="0.474" stop-color="#e8ff17"/><stop offset="0.595" stop-color="#fff900"/><stop offset="1.000" stop-color="#ffff00"/></linearGradient><rect x="169" y="347" width="95" height="1.6" fill="url(#b91)"/>
<linearGradient id="b92"><stop offset="0.000" stop-color="#ffff00"/><stop offset="0.353" stop-color="#fbff04"/><stop offset="0.453" stop-color="#c3ff3c"/><stop offset="0.505" stop-color="#c6ff39"/><stop offset="0.621" stop-color="#fcff03"/><stop offset="1.000" stop-color="#ffff00"/></linearGradient><rect x="169" y="348" width="95" height="1.6" fill="url(#b92)"/>
<linearGradient id="b93"><stop offset="0.000" stop-color="#ffff00"/><stop offset="0.295" stop-color="#faff05"/><stop offset="0.358" stop-color="#dfff20"/><stop offset="0.447" stop-color="#97ff68"/><stop offset="0.495" stop-color="#95ff6a"/><stop offset="0.574" stop-color="#d0ff2f"/><stop offset="0.642" stop-color="#f7ff08"/><stop offset="0.795" stop-color="#ffff00"/><stop offset="1.000" stop-color="#ffff00"/></linearGradient><rect x="169" y="349" width="95" height="1.6" fill="url(#b93)"/>
<linearGradient id="b94"><stop offset="0.000" stop-color="#ffff00"/><stop offset="0.274" stop-color="#f9ff06"/><stop offset="0.337" stop-color="#daff25"/><stop offset="0.442" stop-color="#67ff98"/><stop offset="0.479" stop-color="#5bffa4"/><stop offset="0.521" stop-color="#75ff8a"/><stop offset="0.611" stop-color="#daff25"/><stop offset="0.674" stop-color="#f9ff06"/><stop offset="1.000" stop-color="#ffff00"/></linearGradient><rect x="169" y="350" width="95" height="1.6" fill="url(#b94)"/>
<linearGradient id="b95"><stop offset="0.000" stop-color="#ffff00"/><stop offset="0.258" stop-color="#f8ff07"/><stop offset="0.316" stop-color="#ddff22"/><stop offset="0.368" stop-color="#9dff62"/><stop offset="0.437" stop-color="#34ffcb"/><stop offset="0.468" stop-color="#1fffe0"/><stop offset="0.500" stop-color="#2affd5"/><stop offset="0.547" stop-color="#69ff96"/><stop offset="0.611" stop-color="#c8ff37"/><stop offset="0.663" stop-color="#f0ff0f"/><stop offset="0.758" stop-color="#ffff00"/><stop offset="1.000" stop-color="#ffff00"/></linearGradient><rect x="169" y="351" width="95" height="1.6" fill="url(#b95)"/>
<linearGradient id="b96"><stop offset="0.000" stop-color="#ffff00"/><stop offset="0.247" stop-color="#f8ff07"/><stop offset="0.305" stop-color="#dbff24"/><stop offset="0.347" stop-color="#a5ff5a"/><stop offset="0.432" stop-color="#01fffe"/><stop offset="0.463" stop-color="#00dfff"/><stop offset="0.489" stop-color="#00e2ff"/><stop offset="0.516" stop-color="#01fffe"/><stop offset="0.605" stop-color="#adff52"/><stop offset="0.647" stop-color="#dfff20"/><stop offset="0.705" stop-color="#f9ff06"/><stop offset="1.000" stop-color="#ffff00"/></linearGradient><rect x="169" y="352" width="95" height="1.6" fill="url(#b96)"/>
<linearGradient id="b97"><stop offset="0.000" stop-color="#ffff00"/><stop offset="0.242" stop-color="#f7ff08"/><stop offset="0.295" stop-color="#dbff24"/><stop offset="0.337" stop-color="#a2ff5d"/><stop offset="0.384" stop-color="#37ffc8"/><stop offset="0.405" stop-color="#01fffe"/><stop offset="0.442" stop-color="#00b3ff"/><stop offset="0.468" stop-color="#009bff"/><stop offset="0.495" stop-color="#00a6ff"/><stop offset="0.526" stop-color="#00dbff"/><stop offset="0.542" stop-color="#01fffe"/><stop offset="0.600" stop-color="#8eff71"/><stop offset="0.642" stop-color="#d1ff2e"/><stop offset="0.689" stop-color="#f3ff0c"/><stop offset="0.800" stop-color="#ffff00"/><stop offset="1.000" stop-color="#ffff00"/></linearGradient><rect x="169" y="353" width="95" height="1.6" fill="url(#b97)"/>
<linearGradient id="b98"><stop offset="0.000" stop-color="#ffff00"/><stop offset="0.237" stop-color="#f7ff08"/><stop offset="0.289" stop-color="#d9ff26"/><stop offset="0.326" stop-color="#a5ff5a"/><stop offset="0.363" stop-color="#4fffb0"/><stop offset="0.389" stop-color="#01fffe"/><stop offset="0.432" stop-color="#008bff"/><stop offset="0.458" stop-color="#0060ff"/><stop offset="0.484" stop-color="#005cff"/><stop offset="0.511" stop-color="#0080ff"/><stop offset="0.547" stop-color="#00e0ff"/><stop offset="0.558" stop-color="#01fffe"/><stop offset="0.605" stop-color="#84ff7b"/><stop offset="0.642" stop-color="#c7ff38"/><stop offset="0.684" stop-color="#edff12"/><stop offset="0.763" stop-color="#feff01"/><stop offset="1.000" stop-color="#ffff00"/></linearGradient><rect x="169" y="354" width="95" height="1.6" fill="url(#b98)"/>
<linearGradient id="b99"><stop offset="0.000" stop-color="#ffff00"/><stop offset="0.232" stop-color="#f7ff08"/><stop offset="0.284" stop-color="#d9ff26"/><stop offset="0.321" stop-color="#a3ff5c"/><stop offset="0.358" stop-color="#45ffba"/><stop offset="0.379" stop-color="#00ffff"/><stop offset="0.426" stop-color="#0063ff"/><stop offset="0.453" stop-color="#002bff"/><stop offset="0.474" stop-color="#001cff"/><stop offset="0.495" stop-color="#002bff"/><stop offset="0.521" stop-color="#0063ff"/><stop offset="0.568" stop-color="#00ffff"/><stop offset="0.605" stop-color="#72ff8d"/><stop offset="0.637" stop-color="#b6ff49"/><stop offset="0.674" stop-color="#e3ff1c"/><stop offset="0.732" stop-color="#fbff04"/><stop offset="1.000" stop-color="#ffff00"/></linearGradient><rect x="169" y="355" width="95" height="1.6" fill="url(#b99)"/>
<linearGradient id="b100"><stop offset="0.000" stop-color="#ffff00"/><stop offset="0.226" stop-color="#f8ff07"/><stop offset="0.279" stop-color="#daff25"/><stop offset="0.316" stop-color="#a3ff5c"/><stop offset="0.347" stop-color="#52ffad"/><stop offset="0.368" stop-color="#0bfff4"/><stop offset="0.374" stop-color="#00f6ff"/><stop offset="0.426" stop-color="#0036ff"/><stop offset="0.447" stop-color="#0001ff"/><stop offset="0.468" stop-color="#0000e7"/><stop offset="0.489" stop-color="#0000f0"/><stop offset="0.500" stop-color="#0001ff"/><stop offset="0.526" stop-color="#0046ff"/><stop offset="0.574" stop-color="#00f6ff"/><stop offset="0.584" stop-color="#1effe1"/><stop offset="0.616" stop-color="#7fff80"/><stop offset="0.647" stop-color="#c0ff3f"/><stop offset="0.684" stop-color="#e8ff17"/><stop offset="0.747" stop-color="#fcff03"/><stop offset="1.000" stop-color="#ffff00"/></linearGradient><rect x="169" y="356" width="95" height="1.6" fill="url(#b100)"/>
<linearGradient id="b101"><stop offset="0.000" stop-color="#ffff00"/><stop offset="0.226" stop-color="#f7ff08"/><stop offset="0.274" stop-color="#ddff22"/><stop offset="0.311" stop-color="#a7ff58"/><stop offset="0.342" stop-color="#56ffa9"/><stop offset="0.363" stop-color="#0cfff3"/><stop offset="0.368" stop-color="#00f7ff"/><stop offset="0.421" stop-color="#0025ff"/><stop offset="0.432" stop-color="#0002ff"/><stop offset="0.458" stop-color="#0000c8"/><stop offset="0.479" stop-color="#0000bf"/><stop offset="0.500" stop-color="#0000d9"/><stop offset="0.516" stop-color="#0002ff"/><stop offset="0.547" stop-color="#0076ff"/><stop offset="0.579" stop-color="#00f7ff"/><stop offset="0.589" stop-color="#20ffdf"/><stop offset="0.621" stop-color="#83ff7c"/><stop offset="0.653" stop-color="#c3ff3c"/><stop offset="0.695" stop-color="#edff12"/><stop offset="0.768" stop-color="#feff01"/><stop offset="1.000" stop-color="#ffff00"/></linearGradient><rect x="169" y="357" width="95" height="1.6" fill="url(#b101)"/>
<linearGradient id="b102"><stop offset="0.000" stop-color="#ffff00"/><stop offset="0.221" stop-color="#f8ff07"/><stop offset="0.268" stop-color="#e0ff1f"/><stop offset="0.305" stop-color="#aeff51"/><stop offset="0.337" stop-color="#5fffa0"/><stop offset="0.363" stop-color="#01fffe"/><stop offset="0.421" stop-color="#000fff"/><stop offset="0.426" stop-color="#0000fc"/><stop offset="0.447" stop-color="#0000c0"/><stop offset="0.468" stop-color="#0000a5"/><stop offset="0.489" stop-color="#0000ae"/><stop offset="0.511" stop-color="#0000db"/><stop offset="0.521" stop-color="#0000fc"/><stop offset="0.547" stop-color="#0064ff"/><stop offset="0.584" stop-color="#01fffe"/><stop offset="0.616" stop-color="#6eff91"/><stop offset="0.647" stop-color="#b7ff48"/><stop offset="0.684" stop-color="#e5ff1a"/><stop offset="0.742" stop-color="#fbff04"/><stop offset="1.000" stop-color="#ffff00"/></linearGradient><rect x="169" y="358" width="95" height="1.6" fill="url(#b102)"/>
<linearGradient id="b103"><stop offset="0.000" stop-color="#ffff00"/><stop offset="0.221" stop-color="#f8ff07"/><stop offset="0.268" stop-color="#e0ff1f"/><stop offset="0.305" stop-color="#acff53"/><stop offset="0.337" stop-color="#5cffa3"/><stop offset="0.363" stop-color="#00fcff"/><stop offset="0.421" stop-color="#0008ff"/><stop offset="0.432" stop-color="#0000e2"/><stop offset="0.453" stop-color="#0000ad"/><stop offset="0.474" stop-color="#00009a"/><stop offset="0.495" stop-color="#0000ad"/><stop offset="0.516" stop-color="#0000e2"/><stop offset="0.526" stop-color="#0008ff"/><stop offset="0.584" stop-color="#00fcff"/><stop offset="0.621" stop-color="#7bff84"/><stop offset="0.653" stop-color="#bfff40"/><stop offset="0.689" stop-color="#e8ff17"/><stop offset="0.753" stop-color="#fcff03"/><stop offset="1.000" stop-color="#ffff00"/></linearGradient><rect x="169" y="359" width="95" height="1.6" fill="url(#b103)"/>
<linearGradient id="b104"><stop offset="0.000" stop-color="#ffff00"/><stop offset="0.221" stop-color="#f8ff07"/><stop offset="0.268" stop-color="#e0ff1f"/><stop offset="0.305" stop-color="#adff52"/><stop offset="0.337" stop-color="#5effa1"/><stop offset="0.363" stop-color="#00ffff"/><stop offset="0.421" stop-color="#000eff"/><stop offset="0.426" stop-color="#0000fa"/><stop offset="0.447" stop-color="#0000bf"/><stop offset="0.468" stop-color="#0000a3"/><stop offset="0.489" stop-color="#0000ad"/><stop offset="0.511" stop-color="#0000d9"/><stop offset="0.521" stop-color="#0000fa"/><stop offset="0.542" stop-color="#004dff"/><stop offset="0.584" stop-color="#00ffff"/><stop offset="0.616" stop-color="#6eff91"/><stop offset="0.647" stop-color="#b7ff48"/><stop offset="0.684" stop-color="#e5ff1a"/><stop offset="0.742" stop-color="#fbff04"/><stop offset="1.000" stop-color="#ffff00"/></linearGradient><rect x="169" y="360" width="95" height="1.6" fill="url(#b104)"/>
<linearGradient id="b105"><stop offset="0.000" stop-color="#ffff00"/><stop offset="0.226" stop-color="#f7ff08"/><stop offset="0.274" stop-color="#ddff22"/><stop offset="0.311" stop-color="#a6ff59"/><stop offset="0.342" stop-color="#54ffab"/><stop offset="0.363" stop-color="#0bfff4"/><stop offset="0.368" stop-color="#00f5ff"/><stop offset="0.421" stop-color="#0022ff"/><stop offset="0.432" stop-color="#0000ff"/><stop offset="0.453" stop-color="#0000cc"/><stop offset="0.474" stop-color="#0000bb"/><stop offset="0.495" stop-color="#0000cc"/><stop offset="0.516" stop-color="#0000ff"/><stop offset="0.547" stop-color="#0074ff"/><stop offset="0.579" stop-color="#00f5ff"/><stop offset="0.589" stop-color="#1effe1"/><stop offset="0.621" stop-color="#82ff7d"/><stop offset="0.653" stop-color="#c3ff3c"/><stop offset="0.689" stop-color="#e9ff16"/><stop offset="0.758" stop-color="#fdff02"/><stop offset="1.000" stop-color="#ffff00"/></linearGradient><rect x="169" y="361" width="95" height="1.4" fill="url(#b105)"/>
<linearGradient id="b106"><stop offset="0.000" stop-color="#ffff00"/><stop offset="0.226" stop-color="#f8ff07"/><stop offset="0.274" stop-color="#deff21"/><stop offset="0.311" stop-color="#aaff55"/><stop offset="0.342" stop-color="#5cffa3"/><stop offset="0.368" stop-color="#02fffd"/><stop offset="0.426" stop-color="#0026ff"/><stop offset="0.437" stop-color="#0008ff"/><stop offset="0.447" stop-color="#0000ef"/><stop offset="0.468" stop-color="#0000d5"/><stop offset="0.489" stop-color="#0000de"/><stop offset="0.505" stop-color="#0000fa"/><stop offset="0.516" stop-color="#0016ff"/><stop offset="0.547" stop-color="#0085ff"/><stop offset="0.579" stop-color="#02fffd"/><stop offset="0.611" stop-color="#6bff94"/><stop offset="0.642" stop-color="#b4ff4b"/><stop offset="0.679" stop-color="#e3ff1c"/><stop offset="0.737" stop-color="#fbff04"/><stop offset="1.000" stop-color="#ffff00"/></linearGradient><rect x="169" y="362" width="95" height="0.4" fill="url(#b106)"/>
<text x="86.4" y="251.3" font-size="13" text-anchor="middle" font-weight="bold" >TE Ex</text>
<text x="214.9" y="251.7" font-size="13" text-anchor="middle" font-weight="bold" >TM Ey</text>
<text x="38.1" y="266.8" font-size="14" text-anchor="end" font-weight="bold" >1.5</text>
<text x="37" y="358.2" font-size="14" text-anchor="end" font-weight="bold" >0</text>
<text x="166.9" y="268.7" font-size="14" text-anchor="end" font-weight="bold" >1.5</text>
<text x="165.1" y="365.6" font-size="14" text-anchor="end" font-weight="bold" >0</text>
<text x="58.4" y="374.8" font-size="14" text-anchor="middle" font-weight="bold" >-0.5</text>
<text x="88.8" y="374.8" font-size="14" text-anchor="middle" font-weight="bold" >0</text>
<text x="117.7" y="374.8" font-size="14" text-anchor="middle" font-weight="bold" >0.5</text>
<text x="185.2" y="375" font-size="14" text-anchor="middle" font-weight="bold" >-0.5</text>
<text x="216.7" y="375" font-size="14" text-anchor="middle" font-weight="bold" >0</text>
<text x="248" y="375" font-size="14" text-anchor="middle" font-weight="bold" >0.5</text>
<text x="85.5" y="386.6" font-size="13" text-anchor="middle" font-weight="bold" >X (μm)</text>
<text x="218" y="386.8" font-size="13" text-anchor="middle" font-weight="bold" >X (μm)</text>
<text x="0" y="0" font-size="13" text-anchor="middle" font-weight="bold" transform="translate(33,300.2) rotate(-90)">Z (μm)</text>
<text x="0" y="0" font-size="13" text-anchor="middle" font-weight="bold" transform="translate(161.2,305.8) rotate(-90)">Z (μm)</text>
</svg></body></html>
